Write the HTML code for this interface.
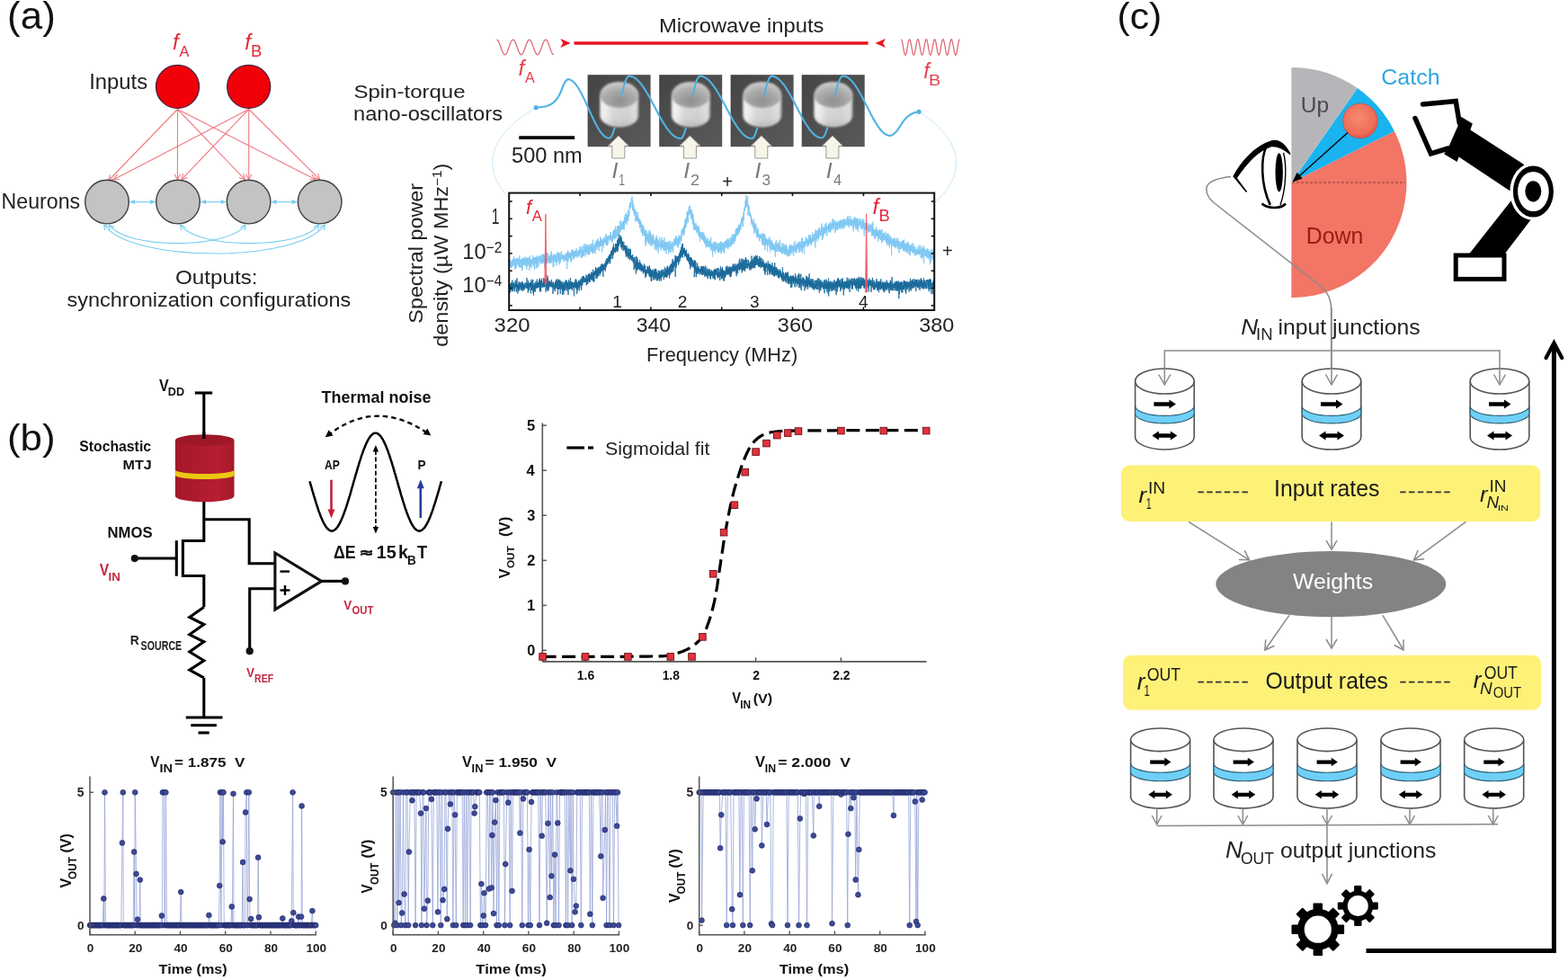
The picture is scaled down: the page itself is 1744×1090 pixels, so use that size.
<!DOCTYPE html>
<html><head><meta charset="utf-8"><title>Figure</title>
<style>html,body{margin:0;padding:0;background:#fff;overflow:hidden}svg{display:block}</style>
</head><body>
<svg width="1744" height="1090" viewBox="0 0 1744 1090" font-family="'Liberation Sans', Arial, Helvetica, sans-serif"><defs><radialGradient id="topg" cx="0.5" cy="0.7" r="0.7" fx="0.5" fy="0.75"><stop offset="0" stop-color="#8f8f8f"/><stop offset="0.55" stop-color="#a9a9a9"/><stop offset="0.9" stop-color="#c6c6c6"/><stop offset="1" stop-color="#d0d0d0"/></radialGradient><linearGradient id="sideg" x1="0" x2="1" y1="0" y2="0"><stop offset="0" stop-color="#e4e4e4"/><stop offset="0.1" stop-color="#f2f2f2"/><stop offset="0.35" stop-color="#d6d6d6"/><stop offset="0.7" stop-color="#d2d2d2"/><stop offset="0.92" stop-color="#dedede"/><stop offset="1" stop-color="#a8a8a8"/></linearGradient><linearGradient id="sideshade" x1="0" x2="0" y1="0" y2="1"><stop offset="0" stop-color="#fff" stop-opacity="0.25"/><stop offset="0.5" stop-color="#fff" stop-opacity="0"/><stop offset="1" stop-color="#000" stop-opacity="0.12"/></linearGradient><filter id="semblur" x="-0.1" y="-0.1" width="1.2" height="1.2"><feGaussianBlur stdDeviation="0.9"/></filter><linearGradient id="bgg" x1="0" x2="1" y1="0" y2="1"><stop offset="0" stop-color="#444"/><stop offset="1" stop-color="#5a5a5a"/></linearGradient><linearGradient id="mtjg" x1="0" x2="1" y1="0" y2="0"><stop offset="0" stop-color="#a3182a"/><stop offset="0.35" stop-color="#ad1b2e"/><stop offset="0.7" stop-color="#b81d31"/><stop offset="1" stop-color="#a7192b"/></linearGradient><radialGradient id="ballg" cx="0.45" cy="0.4" r="0.65"><stop offset="0" stop-color="#f58a70"/><stop offset="0.75" stop-color="#ef6c56"/><stop offset="1" stop-color="#d8503e"/></radialGradient><linearGradient id="cylg" x1="0" x2="1" y1="0" y2="0"><stop offset="0" stop-color="#fff"/><stop offset="1" stop-color="#f4f4f4"/></linearGradient></defs><rect width="1744" height="1090" fill="#fff"/><text x="8.1" y="32.4" font-size="41.79" fill="#111" textLength="53.67" lengthAdjust="spacingAndGlyphs" >(a)</text>
<text x="192.1" y="55.1" font-size="23.17" fill="#e42838" font-style="italic" textLength="6.65" lengthAdjust="spacingAndGlyphs" >f</text>
<text x="199.5" y="62.7" font-size="16.67" fill="#e42838" textLength="10.93" lengthAdjust="spacingAndGlyphs" >A</text>
<text x="272.2" y="55.1" font-size="23.17" fill="#e42838" font-style="italic" textLength="6.65" lengthAdjust="spacingAndGlyphs" >f</text>
<text x="279.1" y="63" font-size="17.68" fill="#e42838" textLength="12.34" lengthAdjust="spacingAndGlyphs" >B</text>
<text x="99.2" y="99.2" font-size="24.35" fill="#222" textLength="64.91" lengthAdjust="spacingAndGlyphs" >Inputs</text>
<text x="1.6" y="232.1" font-size="23.19" fill="#222" textLength="87.52" lengthAdjust="spacingAndGlyphs" >Neurons</text>
<text x="195" y="316.1" font-size="21.86" fill="#222" textLength="91.48" lengthAdjust="spacingAndGlyphs" >Outputs:</text>
<text x="74.5" y="341.4" font-size="22.34" fill="#222" textLength="315.77" lengthAdjust="spacingAndGlyphs" >synchronization configurations</text>
<line x1="197.5" y1="121.5" x2="120.5" y2="201" stroke="#f07a80" stroke-width="1.1" />
<polyline points="122.4,194.5 120.5,201 127,198.9" stroke="#f07a80" stroke-width="1.1" fill="none" />
<line x1="276.7" y1="121.5" x2="126.4" y2="199.7" stroke="#f07a80" stroke-width="1.1" />
<polyline points="130.2,194.1 126.4,199.7 133.2,199.8" stroke="#f07a80" stroke-width="1.1" fill="none" />
<line x1="197.5" y1="121.5" x2="197.4" y2="199.7" stroke="#f07a80" stroke-width="1.1" />
<polyline points="194.2,193.7 197.4,199.7 200.6,193.7" stroke="#f07a80" stroke-width="1.1" fill="none" />
<line x1="276.7" y1="121.5" x2="202" y2="199.7" stroke="#f07a80" stroke-width="1.1" />
<polyline points="203.8,193.2 202,199.7 208.5,197.6" stroke="#f07a80" stroke-width="1.1" fill="none" />
<line x1="197.5" y1="121.5" x2="272.4" y2="199.7" stroke="#f07a80" stroke-width="1.1" />
<polyline points="265.9,197.6 272.4,199.7 270.6,193.2" stroke="#f07a80" stroke-width="1.1" fill="none" />
<line x1="276.7" y1="121.5" x2="276.7" y2="199.7" stroke="#f07a80" stroke-width="1.1" />
<polyline points="273.5,193.7 276.7,199.7 279.9,193.7" stroke="#f07a80" stroke-width="1.1" fill="none" />
<line x1="197.5" y1="121.5" x2="351" y2="199.7" stroke="#f07a80" stroke-width="1.1" />
<polyline points="344.2,199.8 351,199.7 347.1,194.1" stroke="#f07a80" stroke-width="1.1" fill="none" />
<line x1="276.7" y1="121.5" x2="355.6" y2="199.7" stroke="#f07a80" stroke-width="1.1" />
<polyline points="349.1,197.7 355.6,199.7 353.6,193.2" stroke="#f07a80" stroke-width="1.1" fill="none" />
<circle cx="197.5" cy="96.4" r="24" fill="#f20008" stroke="#4b2040" stroke-width="1.3" />
<circle cx="276.7" cy="96.4" r="24" fill="#f20008" stroke="#4b2040" stroke-width="1.3" />
<line x1="144.5" y1="224.6" x2="172.5" y2="224.6" stroke="#79cdf0" stroke-width="1.1" />
<polygon points="144,224.6 150,222 150,227.2" fill="#79cdf0" stroke="none" stroke-width="1" />
<polygon points="173,224.6 167,227.2 167,222" fill="#79cdf0" stroke="none" stroke-width="1" />
<line x1="223.5" y1="224.6" x2="251.1" y2="224.6" stroke="#79cdf0" stroke-width="1.1" />
<polygon points="223,224.6 229,222 229,227.2" fill="#79cdf0" stroke="none" stroke-width="1" />
<polygon points="251.6,224.6 245.6,227.2 245.6,222" fill="#79cdf0" stroke="none" stroke-width="1" />
<line x1="302.1" y1="224.6" x2="330.2" y2="224.6" stroke="#79cdf0" stroke-width="1.1" />
<polygon points="301.6,224.6 307.6,222 307.6,227.2" fill="#79cdf0" stroke="none" stroke-width="1" />
<polygon points="330.7,224.6 324.7,227.2 324.7,222" fill="#79cdf0" stroke="none" stroke-width="1" />
<path d="M115.8,250 C145.2,292.7 331.8,292.7 361.2,250" stroke="#79cdf0" stroke-width="1.1" fill="none" />
<polyline points="121.4,252.8 115.8,250 116.5,256.2" stroke="#79cdf0" stroke-width="1.1" fill="none" />
<polyline points="360.5,256.2 361.2,250 355.6,252.8" stroke="#79cdf0" stroke-width="1.1" fill="none" />
<path d="M121.6,250 C139.8,277.5 254.8,277.5 273,250" stroke="#79cdf0" stroke-width="1.1" fill="none" />
<polyline points="127.1,252.9 121.6,250 122.1,256.2" stroke="#79cdf0" stroke-width="1.1" fill="none" />
<polyline points="272.5,256.2 273,250 267.5,252.9" stroke="#79cdf0" stroke-width="1.1" fill="none" />
<path d="M200.7,250 C219.1,277.5 336,277.5 354.4,250" stroke="#79cdf0" stroke-width="1.1" fill="none" />
<polyline points="206.3,252.9 200.7,250 201.3,256.2" stroke="#79cdf0" stroke-width="1.1" fill="none" />
<polyline points="353.8,256.2 354.4,250 348.8,252.9" stroke="#79cdf0" stroke-width="1.1" fill="none" />
<circle cx="119" cy="224.6" r="24.3" fill="#c3c3c3" stroke="#3f3f3f" stroke-width="1.4" />
<circle cx="198" cy="224.6" r="24.3" fill="#c3c3c3" stroke="#3f3f3f" stroke-width="1.4" />
<circle cx="276.6" cy="224.6" r="24.3" fill="#c3c3c3" stroke="#3f3f3f" stroke-width="1.4" />
<circle cx="355.7" cy="224.6" r="24.3" fill="#c3c3c3" stroke="#3f3f3f" stroke-width="1.4" />
<text x="732.9" y="35.7" font-size="22.21" fill="#222" textLength="183.54" lengthAdjust="spacingAndGlyphs" >Microwave inputs</text>
<line x1="638.5" y1="48" x2="965.6" y2="48" stroke="#e8141e" stroke-width="3.4" />
<polygon points="634.7,48 623.2,43 626.2,48 623.2,53" fill="#e8141e" stroke="none" stroke-width="1" />
<polygon points="973.5,48 985,43 982,48 985,53" fill="#e8141e" stroke="none" stroke-width="1" />
<polyline points="552.5,44.2 552.8,44.3 553.1,44.4 553.5,44.6 553.8,45 554.1,45.4 554.4,45.9 554.7,46.5 555,47.2 555.4,47.9 555.7,48.7 556,49.6 556.3,50.4 556.6,51.3 556.9,52.2 557.3,53.2 557.6,54.1 557.9,54.9 558.2,55.8 558.5,56.6 558.9,57.4 559.2,58.1 559.5,58.7 559.8,59.3 560.1,59.8 560.4,60.2 560.8,60.5 561.1,60.7 561.4,60.8 561.7,60.8 562,60.7 562.3,60.5 562.7,60.2 563,59.8 563.3,59.4 563.6,58.8 563.9,58.2 564.2,57.5 564.6,56.7 564.9,55.9 565.2,55.1 565.5,54.2 565.8,53.3 566.2,52.4 566.5,51.5 566.8,50.6 567.1,49.7 567.4,48.8 567.7,48.1 568.1,47.3 568.4,46.6 568.7,46 569,45.5 569.3,45 569.6,44.7 570,44.4 570.3,44.3 570.6,44.2 570.9,44.2 571.2,44.4 571.5,44.6 571.9,44.9 572.2,45.4 572.5,45.9 572.8,46.4 573.1,47.1 573.5,47.8 573.8,48.6 574.1,49.4 574.4,50.3 574.7,51.2 575,52.1 575.4,53 575.7,53.9 576,54.8 576.3,55.7 576.6,56.5 576.9,57.3 577.3,58 577.6,58.6 577.9,59.2 578.2,59.7 578.5,60.1 578.9,60.4 579.2,60.7 579.5,60.8 579.8,60.8 580.1,60.7 580.4,60.5 580.8,60.3 581.1,59.9 581.4,59.4 581.7,58.9 582,58.3 582.3,57.6 582.7,56.8 583,56 583.3,55.2 583.6,54.3 583.9,53.4 584.2,52.5 584.6,51.6 584.9,50.7 585.2,49.8 585.5,49 585.8,48.2 586.2,47.4 586.5,46.7 586.8,46.1 587.1,45.6 587.4,45.1 587.7,44.7 588.1,44.5 588.4,44.3 588.7,44.2 589,44.2 589.3,44.3 589.6,44.6 590,44.9 590.3,45.3 590.6,45.8 590.9,46.4 591.2,47 591.6,47.7 591.9,48.5 592.2,49.3 592.5,50.2 592.8,51.1 593.1,52 593.5,52.9 593.8,53.8 594.1,54.7 594.4,55.6 594.7,56.4 595,57.2 595.4,57.9 595.7,58.6 596,59.1 596.3,59.6 596.6,60.1 597,60.4 597.3,60.6 597.6,60.8 597.9,60.8 598.2,60.7 598.5,60.6 598.9,60.3 599.2,60 599.5,59.5 599.8,59 600.1,58.4 600.4,57.7 600.8,56.9 601.1,56.2 601.4,55.3 601.7,54.4 602,53.5 602.3,52.6 602.7,51.7 603,50.8 603.3,49.9 603.6,49.1 603.9,48.3 604.3,47.5 604.6,46.8 604.9,46.2 605.2,45.6 605.5,45.2 605.8,44.8 606.2,44.5 606.5,44.3 606.8,44.2 607.1,44.2 607.4,44.3 607.7,44.5 608.1,44.8 608.4,45.2 608.7,45.7 609,46.3 609.3,46.9 609.6,47.6 610,48.4 610.3,49.2 610.6,50.1 610.9,50.9 611.2,51.8 611.6,52.8 611.9,53.7 612.2,54.6 612.5,55.4 612.8,56.3 613.1,57.1 613.5,57.8 613.8,58.5 614.1,59.1 614.4,59.6 614.7,60 615,60.4 615.4,60.6 615.7,60.7 616,60.8" stroke="#e06a78" stroke-width="1.3" fill="none" />
<polyline points="1002.3,43.8 1002.6,44 1003,44.6 1003.3,45.6 1003.6,46.9 1003.9,48.5 1004.3,50.3 1004.6,52.2 1004.9,54.1 1005.2,56 1005.6,57.6 1005.9,59.1 1006.2,60.2 1006.5,60.9 1006.9,61.2 1007.2,61.1 1007.5,60.6 1007.8,59.7 1008.2,58.5 1008.5,57 1008.8,55.2 1009.1,53.3 1009.5,51.4 1009.8,49.5 1010.1,47.8 1010.4,46.3 1010.8,45.1 1011.1,44.3 1011.4,43.8 1011.8,43.8 1012.1,44.2 1012.4,45 1012.7,46.1 1013.1,47.6 1013.4,49.3 1013.7,51.1 1014,53 1014.4,54.9 1014.7,56.7 1015,58.3 1015.3,59.6 1015.7,60.5 1016,61.1 1016.3,61.2 1016.6,61 1017,60.3 1017.3,59.2 1017.6,57.9 1017.9,56.2 1018.3,54.4 1018.6,52.5 1018.9,50.6 1019.3,48.8 1019.6,47.1 1019.9,45.8 1020.2,44.7 1020.6,44 1020.9,43.8 1021.2,43.9 1021.5,44.5 1021.9,45.4 1022.2,46.7 1022.5,48.3 1022.8,50.1 1023.2,52 1023.5,53.9 1023.8,55.7 1024.1,57.4 1024.5,58.9 1024.8,60 1025.1,60.8 1025.4,61.2 1025.8,61.2 1026.1,60.7 1026.4,59.9 1026.8,58.7 1027.1,57.2 1027.4,55.5 1027.7,53.6 1028.1,51.7 1028.4,49.8 1028.7,48 1029,46.5 1029.4,45.3 1029.7,44.4 1030,43.9 1030.3,43.8 1030.7,44.1 1031,44.8 1031.3,45.9 1031.6,47.4 1032,49 1032.3,50.9 1032.6,52.8 1032.9,54.7 1033.3,56.5 1033.6,58.1 1033.9,59.4 1034.2,60.4 1034.6,61 1034.9,61.2 1035.2,61 1035.6,60.4 1035.9,59.4 1036.2,58.1 1036.5,56.5 1036.9,54.7 1037.2,52.8 1037.5,50.9 1037.8,49 1038.2,47.4 1038.5,45.9 1038.8,44.8 1039.1,44.1 1039.5,43.8 1039.8,43.9 1040.1,44.4 1040.4,45.3 1040.8,46.5 1041.1,48 1041.4,49.8 1041.7,51.7 1042.1,53.6 1042.4,55.5 1042.7,57.2 1043,58.7 1043.4,59.9 1043.7,60.7 1044,61.2 1044.4,61.2 1044.7,60.8 1045,60 1045.3,58.9 1045.7,57.4 1046,55.7 1046.3,53.9 1046.6,52 1047,50.1 1047.3,48.3 1047.6,46.7 1047.9,45.4 1048.3,44.5 1048.6,43.9 1048.9,43.8 1049.2,44 1049.6,44.7 1049.9,45.8 1050.2,47.1 1050.5,48.8 1050.9,50.6 1051.2,52.5 1051.5,54.4 1051.9,56.2 1052.2,57.9 1052.5,59.2 1052.8,60.3 1053.2,61 1053.5,61.2 1053.8,61.1 1054.1,60.5 1054.5,59.6 1054.8,58.3 1055.1,56.7 1055.4,54.9 1055.8,53 1056.1,51.1 1056.4,49.3 1056.7,47.6 1057.1,46.1 1057.4,45 1057.7,44.2 1058,43.8 1058.4,43.8 1058.7,44.3 1059,45.1 1059.3,46.3 1059.7,47.8 1060,49.5 1060.3,51.4 1060.7,53.3 1061,55.2 1061.3,57 1061.6,58.5 1062,59.7 1062.3,60.6 1062.6,61.1 1062.9,61.2 1063.3,60.9 1063.6,60.2 1063.9,59.1 1064.2,57.6 1064.6,56 1064.9,54.1 1065.2,52.2 1065.5,50.3 1065.9,48.5 1066.2,46.9 1066.5,45.6 1066.8,44.6 1067.2,44 1067.5,43.8" stroke="#e06a78" stroke-width="1.3" fill="none" />
<text x="576.4" y="83.9" font-size="23.31" fill="#e34050" font-style="italic" textLength="6.82" lengthAdjust="spacingAndGlyphs" >f</text>
<text x="583.9" y="91.7" font-size="16.38" fill="#e34050" textLength="10.83" lengthAdjust="spacingAndGlyphs" >A</text>
<text x="1027.2" y="87.1" font-size="23.72" fill="#e34050" font-style="italic" textLength="6.48" lengthAdjust="spacingAndGlyphs" >f</text>
<text x="1033.1" y="94.7" font-size="16.96" fill="#e34050" textLength="13.22" lengthAdjust="spacingAndGlyphs" >B</text>
<text x="393.4" y="108.9" font-size="20.41" fill="#222" textLength="124.17" lengthAdjust="spacingAndGlyphs" >Spin-torque</text>
<text x="393" y="133.6" font-size="22.07" fill="#222" textLength="166.04" lengthAdjust="spacingAndGlyphs" >nano-oscillators</text>
<path d="M596,120 A258,105 0 1,0 1022,124" stroke="#c8e8f8" stroke-width="1" fill="none" />
<rect x="653.6" y="83.2" width="70" height="80" fill="url(#bgg)"/>
<g filter="url(#semblur)">
<path d="M667.2,105.6 L667.2,128 A21.6,13.6 0 0,0 710.4,128 L710.4,105.6 Z" stroke="none" stroke-width="1" fill="url(#sideg)" />
<path d="M667.2,105.6 L667.2,128 A21.6,13.6 0 0,0 710.4,128 L710.4,105.6 Z" stroke="none" stroke-width="1" fill="url(#sideshade)" />
<ellipse cx="688.8" cy="105.6" rx="21.6" ry="14.6" fill="url(#topg)"/>
</g>
<rect x="733.2" y="83.2" width="70" height="80" fill="url(#bgg)"/>
<g filter="url(#semblur)">
<path d="M746.8,105.6 L746.8,128 A21.6,13.6 0 0,0 790,128 L790,105.6 Z" stroke="none" stroke-width="1" fill="url(#sideg)" />
<path d="M746.8,105.6 L746.8,128 A21.6,13.6 0 0,0 790,128 L790,105.6 Z" stroke="none" stroke-width="1" fill="url(#sideshade)" />
<ellipse cx="768.4" cy="105.6" rx="21.6" ry="14.6" fill="url(#topg)"/>
</g>
<rect x="812.6" y="83.2" width="70" height="80" fill="url(#bgg)"/>
<g filter="url(#semblur)">
<path d="M826.2,105.6 L826.2,128 A21.6,13.6 0 0,0 869.4,128 L869.4,105.6 Z" stroke="none" stroke-width="1" fill="url(#sideg)" />
<path d="M826.2,105.6 L826.2,128 A21.6,13.6 0 0,0 869.4,128 L869.4,105.6 Z" stroke="none" stroke-width="1" fill="url(#sideshade)" />
<ellipse cx="847.8" cy="105.6" rx="21.6" ry="14.6" fill="url(#topg)"/>
</g>
<rect x="891.7" y="83.2" width="70" height="80" fill="url(#bgg)"/>
<g filter="url(#semblur)">
<path d="M905.3,105.6 L905.3,128 A21.6,13.6 0 0,0 948.5,128 L948.5,105.6 Z" stroke="none" stroke-width="1" fill="url(#sideg)" />
<path d="M905.3,105.6 L905.3,128 A21.6,13.6 0 0,0 948.5,128 L948.5,105.6 Z" stroke="none" stroke-width="1" fill="url(#sideshade)" />
<ellipse cx="926.9" cy="105.6" rx="21.6" ry="14.6" fill="url(#topg)"/>
</g>
<polyline points="596.2,119.7 601,119.3 607.5,118.2 612,116.5 615.8,114 619.5,110 622.7,104.5 625,99 626.8,94.3 628.8,90.5 631.6,88.2 632.8,88.3 633.9,88.6 635.1,89.1 636.2,89.8 637.4,90.7 638.5,91.8 639.7,93 640.8,94.4 642,96 643.1,97.8 644.3,99.7 645.4,101.7 646.6,103.8 647.7,106.1 648.9,108.4 650,110.8 651.2,113.3 652.3,115.8 653.5,118.3 654.7,120.9 655.8,123.5 657,126 658.1,128.5 659.3,131 660.4,133.4 661.6,135.7 662.7,138 663.9,140.1 665,142.1 666.2,144 667.3,145.8 668.5,147.4 669.6,148.8 670.8,150 671.9,151.1 673.1,152 674.2,152.7 675.4,153.2 676.5,153.5 677.7,153.6 678.2,153.5 678.8,153.2 679.4,152.6 679.9,151.9 680.5,151 681,149.8 681.6,148.5 682.1,147 682.7,145.3 683.2,143.5 683.8,141.5" stroke="#4fb3e3" stroke-width="2.1" fill="none" />
<polyline points="691.5,105.9 692,103.4 692.6,101.1 693.1,98.8 693.7,96.7 694.2,94.7 694.8,92.9 695.3,91.2 695.9,89.7 696.4,88.4 697,87.2 697.5,86.3 698.1,85.6 698.6,85 699.2,84.7 699.7,84.6 701.1,84.7 702.6,85 704,85.6 705.4,86.3 706.9,87.2 708.3,88.4 709.7,89.7 711.2,91.2 712.6,92.9 714,94.8 715.5,96.8 716.9,98.9 718.3,101.2 719.8,103.5 721.2,106 722.6,108.6 724.1,111.2 725.5,113.9 726.9,116.6 728.4,119.3 729.8,122 731.2,124.7 732.6,127.4 734.1,130 735.5,132.6 736.9,135.1 738.4,137.4 739.8,139.7 741.2,141.8 742.7,143.8 744.1,145.7 745.5,147.4 747,148.9 748.4,150.2 749.8,151.4 751.3,152.3 752.7,153 754.1,153.6 755.6,153.9 757,154 757.5,153.9 758.1,153.6 758.6,153 759.2,152.3 759.7,151.4 760.3,150.2 760.8,148.9 761.3,147.4 761.9,145.7 762.4,143.8 763,141.8" stroke="#4fb3e3" stroke-width="2.1" fill="none" />
<polyline points="770.6,106 771.1,103.5 771.6,101.2 772.2,98.9 772.7,96.8 773.3,94.8 773.8,92.9 774.4,91.2 774.9,89.7 775.4,88.4 776,87.2 776.5,86.3 777.1,85.6 777.6,85 778.2,84.7 778.7,84.6 780.1,84.7 781.6,85 783,85.6 784.5,86.3 785.9,87.2 787.3,88.4 788.8,89.7 790.2,91.2 791.7,92.9 793.1,94.8 794.5,96.8 796,98.9 797.4,101.2 798.9,103.5 800.3,106 801.7,108.6 803.2,111.2 804.6,113.9 806.1,116.6 807.5,119.3 808.9,122 810.4,124.7 811.8,127.4 813.3,130 814.7,132.6 816.1,135.1 817.6,137.4 819,139.7 820.5,141.8 821.9,143.8 823.3,145.7 824.8,147.4 826.2,148.9 827.7,150.2 829.1,151.4 830.5,152.3 832,153 833.4,153.6 834.9,153.9 836.3,154 836.8,153.9 837.4,153.6 837.9,153 838.5,152.3 839,151.4 839.6,150.2 840.1,148.9 840.7,147.4 841.2,145.7 841.8,143.9 842.3,141.9" stroke="#4fb3e3" stroke-width="2.1" fill="none" />
<polyline points="850,106.2 850.5,103.7 851.1,101.3 851.6,99.1 852.2,96.9 852.7,94.9 853.3,93.1 853.8,91.4 854.4,89.9 854.9,88.6 855.5,87.4 856,86.5 856.6,85.8 857.1,85.2 857.7,84.9 858.2,84.8 859.6,84.9 861,85.2 862.4,85.7 863.8,86.5 865.2,87.4 866.6,88.5 868,89.9 869.4,91.4 870.8,93 872.2,94.8 873.5,96.8 874.9,98.9 876.3,101.2 877.7,103.5 879.1,106 880.5,108.5 881.9,111.1 883.3,113.7 884.7,116.4 886.1,119.1 887.5,121.8 888.9,124.5 890.3,127.1 891.7,129.7 893.1,132.2 894.5,134.7 895.9,137 897.3,139.3 898.7,141.4 900,143.4 901.4,145.2 902.8,146.8 904.2,148.3 905.6,149.7 907,150.8 908.4,151.7 909.8,152.5 911.2,153 912.6,153.3 914,153.4 914.6,153.3 915.2,153 915.8,152.4 916.4,151.7 917,150.8 917.5,149.7 918.1,148.3 918.7,146.8 919.3,145.2 919.9,143.3 920.5,141.3" stroke="#4fb3e3" stroke-width="2.1" fill="none" />
<polyline points="928.8,105.8 929.3,103.4 929.9,101 930.5,98.8 931.1,96.7 931.7,94.7 932.3,92.8 932.9,91.2 933.5,89.7 934.1,88.3 934.6,87.2 935.2,86.3 935.8,85.6 936.4,85 937,84.7 937.6,84.6 938.9,84.7 940.2,85 941.6,85.5 942.9,86.2 944.2,87.1 945.5,88.2 946.8,89.5 948.1,90.9 949.5,92.6 950.8,94.3 952.1,96.2 953.4,98.3 954.7,100.5 956,102.7 957.4,105.1 958.7,107.5 960,110 961.3,112.6 962.6,115.2 964,117.8 965.3,120.4 966.6,123 967.9,125.6 969.2,128.1 970.5,130.5 971.9,132.9 973.2,135.1 974.5,137.3 975.8,139.4 977.1,141.3 978.4,143 979.8,144.7 981.1,146.1 982.4,147.4 983.7,148.5 985,149.4 986.3,150.1 987.7,150.6 989,150.9 990.3,151 993.5,149.6 997.2,146 1001,140.5 1005.1,134.3 1009,130 1013,127.2 1017,125.3 1021.9,124.3" stroke="#4fb3e3" stroke-width="2.1" fill="none" />
<circle cx="596.2" cy="119.7" r="2.6" fill="#4fb3e3" stroke="none" stroke-width="1" />
<circle cx="1022" cy="124.3" r="2.6" fill="#4fb3e3" stroke="none" stroke-width="1" />
<polygon points="687.8,151 699.3,162.3 694.8,162.3 694.8,176 680.8,176 680.8,162.3 676.3,162.3" fill="#f7f5e8" stroke="#9a9a9a" stroke-width="1" />
<polygon points="767.4,151 778.9,162.3 774.4,162.3 774.4,176 760.4,176 760.4,162.3 755.9,162.3" fill="#f7f5e8" stroke="#9a9a9a" stroke-width="1" />
<polygon points="846.8,151 858.3,162.3 853.8,162.3 853.8,176 839.8,176 839.8,162.3 835.3,162.3" fill="#f7f5e8" stroke="#9a9a9a" stroke-width="1" />
<polygon points="925.9,151 937.4,162.3 932.9,162.3 932.9,176 918.9,176 918.9,162.3 914.4,162.3" fill="#f7f5e8" stroke="#9a9a9a" stroke-width="1" />
<line x1="577.3" y1="153.2" x2="639.1" y2="153.2" stroke="#000" stroke-width="3.8" />
<text x="569.1" y="181.1" font-size="23.43" fill="#222" textLength="78.67" lengthAdjust="spacingAndGlyphs" >500 nm</text>
<text x="680.6" y="198.4" font-size="23.33" fill="#7a7a7a" font-style="italic" textLength="6.91" lengthAdjust="spacingAndGlyphs" >I</text>
<text x="688.3" y="206.4" font-size="16.23" fill="#7a7a7a" textLength="6.78" lengthAdjust="spacingAndGlyphs" >1</text>
<text x="760.2" y="198.4" font-size="23.33" fill="#7a7a7a" font-style="italic" textLength="6.91" lengthAdjust="spacingAndGlyphs" >I</text>
<text x="767.9" y="206.4" font-size="16.00" fill="#7a7a7a" textLength="10.02" lengthAdjust="spacingAndGlyphs" >2</text>
<text x="839.6" y="198.4" font-size="23.33" fill="#7a7a7a" font-style="italic" textLength="6.91" lengthAdjust="spacingAndGlyphs" >I</text>
<text x="847.5" y="206.4" font-size="16.00" fill="#7a7a7a" textLength="9.60" lengthAdjust="spacingAndGlyphs" >3</text>
<text x="918.7" y="198.4" font-size="23.33" fill="#7a7a7a" font-style="italic" textLength="6.91" lengthAdjust="spacingAndGlyphs" >I</text>
<text x="927" y="206.4" font-size="16.23" fill="#7a7a7a" textLength="9.03" lengthAdjust="spacingAndGlyphs" >4</text>
<text x="809" y="209" font-size="20" fill="#222" text-anchor="middle" >+</text>
<rect x="566.2" y="214.6" width="473" height="130.4" fill="#fff" stroke="none"/>
<polyline points="566.2,292.1 566.3,291.2 566.4,292.9 566.5,294.8 566.7,293.5 566.8,295.1 566.9,291.9 567,287.9 567.1,293.6 567.2,294 567.3,290.5 567.4,290.9 567.6,291.7 567.7,294.9 567.8,292.1 567.9,289.8 568,296.1 568.1,293.4 568.2,297.8 568.3,295.9 568.5,297.6 568.6,292.7 568.7,295.8 568.8,291.1 568.9,291.4 569,292.5 569.1,297.7 569.2,293.6 569.4,292 569.5,291.5 569.6,296.6 569.7,293.3 569.8,294.9 569.9,294.3 570,288.5 570.1,294.3 570.3,291.9 570.4,289.1 570.5,293.6 570.6,292.1 570.7,291.4 570.8,291.6 570.9,295.5 571,291.5 571.2,287.5 571.3,292.7 571.4,289.1 571.5,291.3 571.6,293.7 571.7,285.5 571.8,289.3 571.9,295.4 572.1,291.4 572.2,289.9 572.3,292.2 572.4,289.5 572.5,299.3 572.6,289.6 572.7,287.8 572.8,293.7 573,291 573.1,293 573.2,291.2 573.3,299.6 573.4,293.3 573.5,292.2 573.6,288.8 573.7,288.2 573.9,295.6 574,294 574.1,289.5 574.2,297.6 574.3,291.6 574.4,291.8 574.5,287.6 574.6,289.3 574.8,292.5 574.9,292.6 575,292.2 575.1,286.7 575.2,292.7 575.3,291.7 575.4,288.4 575.5,291.8 575.7,292 575.8,294.8 575.9,291.4 576,292.7 576.1,287.7 576.2,289.3 576.3,291.4 576.5,289.2 576.6,292.4 576.7,288 576.8,291.3 576.9,287.2 577,296.1 577.1,290.2 577.2,296.5 577.4,297.5 577.5,292.2 577.6,292.6 577.7,295.5 577.8,284.3 577.9,293.8 578,293.1 578.1,294.6 578.3,296.6 578.4,291.7 578.5,291.8 578.6,289 578.7,289.5 578.8,294.3 578.9,291.4 579,298 579.2,294.4 579.3,290.3 579.4,293.7 579.5,288.1 579.6,290.5 579.7,290.8 579.8,292.9 579.9,291.4 580.1,297.2 580.2,295.7 580.3,289.9 580.4,297.6 580.5,288.4 580.6,301.3 580.7,288.6 580.8,299.8 581,288.5 581.1,290.5 581.2,295.7 581.3,287.1 581.4,286.5 581.5,291.1 581.6,291.7 581.7,291.4 581.9,293.9 582,287.5 582.1,292.5 582.2,291 582.3,293.3 582.4,292.8 582.5,294.8 582.6,286.9 582.8,291.3 582.9,287.8 583,290.8 583.1,292.9 583.2,291.8 583.3,292.5 583.4,290.7 583.5,291.9 583.7,291.7 583.8,295 583.9,293.2 584,285.6 584.1,292.8 584.2,293.9 584.3,289.6 584.4,286.3 584.6,295.2 584.7,291.3 584.8,292.6 584.9,296.1 585,288.4 585.1,290.7 585.2,290.4 585.3,292.9 585.5,289.2 585.6,292.3 585.7,291 585.8,300 585.9,294.3 586,286.4 586.1,296.5 586.3,293.6 586.4,287 586.5,290.6 586.6,291.4 586.7,288.6 586.8,291.4 586.9,290.9 587,290.4 587.2,286.8 587.3,288.4 587.4,293.7 587.5,292.2 587.6,294.7 587.7,290.7 587.8,287.4 587.9,290.8 588.1,286.6 588.2,288 588.3,287.8 588.4,287.5 588.5,291.8 588.6,290 588.7,301.1 588.8,287.7 589,291.5 589.1,287.6 589.2,284.5 589.3,285.7 589.4,293.8 589.5,295.5 589.6,287.7 589.7,293.4 589.9,290.3 590,287.6 590.1,295.3 590.2,296.7 590.3,289.4 590.4,290.1 590.5,291 590.6,290.1 590.8,292.8 590.9,298.2 591,290.7 591.1,293.1 591.2,295.2 591.3,288.6 591.4,290.3 591.5,288.9 591.7,293.2 591.8,292.1 591.9,293.2 592,292 592.1,289.5 592.2,292.5 592.3,289 592.4,289 592.6,283.8 592.7,294.3 592.8,287.3 592.9,290.3 593,290 593.1,294.5 593.2,291.4 593.3,287.7 593.5,290.2 593.6,289.7 593.7,290.8 593.8,286.4 593.9,290 594,296.7 594.1,292 594.2,296 594.4,299.9 594.5,294.9 594.6,285.8 594.7,289.7 594.8,293.5 594.9,292.7 595,286.3 595.1,289.3 595.3,289.7 595.4,290 595.5,289.7 595.6,287.3 595.7,288.1 595.8,289.1 595.9,293 596.1,288.2 596.2,298.5 596.3,286.4 596.4,293.7 596.5,290.1 596.6,289.7 596.7,293.8 596.8,284.4 597,285.2 597.1,291.1 597.2,287.3 597.3,288.5 597.4,297.7 597.5,288.9 597.6,289.8 597.7,289.3 597.9,292.9 598,290.4 598.1,290.1 598.2,285.9 598.3,288.5 598.4,289.5 598.5,284.8 598.6,291.2 598.8,290.7 598.9,296.9 599,288 599.1,286.4 599.2,286.5 599.3,287.3 599.4,289 599.5,288.7 599.7,290.1 599.8,289.9 599.9,289.1 600,284.6 600.1,287.5 600.2,289.4 600.3,291 600.4,291.1 600.6,284.2 600.7,287.6 600.8,288.9 600.9,290.2 601,292.5 601.1,289.3 601.2,286.4 601.3,290.2 601.5,289.7 601.6,289.7 601.7,288.6 601.8,293.9 601.9,289.7 602,291.6 602.1,283.7 602.2,291.3 602.4,287.1 602.5,284.1 602.6,289.8 602.7,290.7 602.8,288.2 602.9,288.8 603,290.7 603.1,293.1 603.3,282.5 603.4,289.5 603.5,289.3 603.6,291.9 603.7,287.7 603.8,292.5 603.9,292 604,284.6 604.2,291.4 604.3,285.2 604.4,283.8 604.5,287.7 604.6,286.8 604.7,282.5 604.8,289.1 605,290.3 605.1,292.6 605.2,288.3 605.3,283.8 605.4,285.4 605.5,294.3 605.6,297.6 605.7,289.9 605.9,287.4 606,288.9 606.1,291.7 606.2,287.3 606.3,289.1 606.4,288.3 606.5,287.5 606.6,288.4 606.8,286.6 606.9,282.4 607,286.3 607.1,287.9 607.2,293.3 607.3,286.9 607.4,294 607.5,292.4 607.7,285.4 607.8,285.8 607.9,288.4 608,293.2 608.1,289.1 608.2,290.8 608.3,285.9 608.4,280.9 608.6,287.2 608.7,293.1 608.8,290 608.9,288 609,288.3 609.1,291.3 609.2,287.4 609.3,291.3 609.5,284.3 609.6,281.8 609.7,284.3 609.8,289.1 609.9,286 610,288 610.1,288.8 610.2,288.6 610.4,291.6 610.5,292 610.6,285.1 610.7,288.1 610.8,286.8 610.9,284.4 611,292.8 611.1,289.9 611.3,286.9 611.4,286.2 611.5,288.5 611.6,284.2 611.7,286.7 611.8,291.1 611.9,290.2 612,284.8 612.2,287 612.3,293.1 612.4,283.1 612.5,285.4 612.6,283 612.7,288.4 612.8,288.1 612.9,290.6 613.1,279.3 613.2,287.6 613.3,282.2 613.4,289.1 613.5,286.5 613.6,292.2 613.7,291.6 613.8,286.8 614,290.8 614.1,283.6 614.2,285.9 614.3,290.1 614.4,288.4 614.5,288.3 614.6,287 614.8,288.5 614.9,289.4 615,290.4 615.1,290 615.2,297.2 615.3,286.9 615.4,284 615.5,291.4 615.7,284.1 615.8,288.7 615.9,296.6 616,284 616.1,288.2 616.2,282 616.3,289 616.4,285.4 616.6,287.3 616.7,288.7 616.8,284.7 616.9,287 617,284.6 617.1,284.4 617.2,289.8 617.3,286.7 617.5,286.2 617.6,283.4 617.7,289.2 617.8,286.5 617.9,291.6 618,284.3 618.1,289.6 618.2,291.9 618.4,286.4 618.5,282.8 618.6,290.9 618.7,289.6 618.8,288.5 618.9,295.5 619,285 619.1,288.6 619.3,288.3 619.4,284.3 619.5,288.4 619.6,284.7 619.7,286.8 619.8,289.8 619.9,291.7 620,280.2 620.2,286.9 620.3,285.2 620.4,286 620.5,285.4 620.6,284.3 620.7,280 620.8,289.1 620.9,290.6 621.1,288.9 621.2,289.9 621.3,283.5 621.4,283.2 621.5,288.7 621.6,290 621.7,286.8 621.8,281.4 622,294.4 622.1,284 622.2,289 622.3,282.4 622.4,288.9 622.5,286.5 622.6,290.2 622.7,288.6 622.9,281.2 623,283 623.1,292.6 623.2,288.2 623.3,291.3 623.4,286.6 623.5,285.5 623.6,285.6 623.8,285.7 623.9,288.8 624,285.5 624.1,285.4 624.2,281.3 624.3,279.5 624.4,285.7 624.6,287.6 624.7,285.4 624.8,287.1 624.9,287.5 625,285.4 625.1,288.4 625.2,283.3 625.3,285.4 625.5,284.3 625.6,285.6 625.7,287.3 625.8,288 625.9,285.8 626,286.7 626.1,284.3 626.2,285 626.4,289.2 626.5,283.3 626.6,289.1 626.7,286.8 626.8,285.8 626.9,291.3 627,284.6 627.1,284.4 627.3,285.3 627.4,286.1 627.5,285.9 627.6,287.8 627.7,285.6 627.8,286.4 627.9,284.4 628,288.4 628.2,283.9 628.3,284.2 628.4,285.1 628.5,286 628.6,282.9 628.7,289.7 628.8,283.1 628.9,283.8 629.1,283.6 629.2,290.2 629.3,286.5 629.4,285.3 629.5,282.5 629.6,283.1 629.7,283.8 629.8,289.1 630,282.7 630.1,280.7 630.2,281.2 630.3,283.6 630.4,289.1 630.5,281.4 630.6,284.7 630.7,299.1 630.9,283 631,288.8 631.1,285.8 631.2,286.1 631.3,281.6 631.4,285.3 631.5,283.3 631.6,278.7 631.8,279.1 631.9,291.3 632,284.8 632.1,287.9 632.2,286.1 632.3,282.7 632.4,282.7 632.5,283.6 632.7,280.8 632.8,286.3 632.9,284.1 633,281.6 633.1,282 633.2,280.5 633.3,282.6 633.4,284.7 633.6,282.7 633.7,286.8 633.8,285.8 633.9,281.9 634,283.9 634.1,282.7 634.2,288.9 634.4,284.8 634.5,285.5 634.6,286.3 634.7,290.6 634.8,281.6 634.9,280.8 635,282.4 635.1,282.1 635.3,283.5 635.4,281.1 635.5,292 635.6,285.1 635.7,281.7 635.8,281.3 635.9,278.1 636,279.9 636.2,284.5 636.3,282.4 636.4,280.9 636.5,285 636.6,283.4 636.7,280.5 636.8,277.2 636.9,283.7 637.1,281.3 637.2,288.7 637.3,279 637.4,283.2 637.5,278.6 637.6,286.1 637.7,283.7 637.8,283.7 638,280.6 638.1,279.8 638.2,287.7 638.3,285.8 638.4,281.9 638.5,285 638.6,287.6 638.7,279.7 638.9,281.4 639,281.4 639.1,284.3 639.2,278.7 639.3,283.6 639.4,279.4 639.5,285.6 639.6,282.6 639.8,282.1 639.9,284.9 640,280.6 640.1,281.9 640.2,285.5 640.3,282.4 640.4,283.7 640.5,279.7 640.7,284.5 640.8,283.8 640.9,279.8 641,282.9 641.1,276.2 641.2,282.1 641.3,281.6 641.4,277.5 641.6,282.5 641.7,285.1 641.8,281.7 641.9,280.6 642,284.5 642.1,287 642.2,286.3 642.3,279.8 642.5,284.1 642.6,282.2 642.7,281 642.8,279.7 642.9,282.6 643,280 643.1,284.2 643.2,282.6 643.4,284.6 643.5,277.9 643.6,281.4 643.7,283.5 643.8,282.3 643.9,281.9 644,279 644.2,285.4 644.3,284.2 644.4,282.2 644.5,280.3 644.6,277.9 644.7,281.2 644.8,278.6 644.9,274.4 645.1,281.4 645.2,281.8 645.3,276.8 645.4,279 645.5,278.4 645.6,282 645.7,274.5 645.8,275.1 646,278.6 646.1,278.2 646.2,286.5 646.3,278.2 646.4,280.7 646.5,278.8 646.6,277.9 646.7,281.1 646.9,285.2 647,278.8 647.1,282.2 647.2,280.8 647.3,281.6 647.4,280.8 647.5,286.8 647.6,275.3 647.8,278.8 647.9,276.1 648,273.4 648.1,279.4 648.2,285 648.3,282.1 648.4,283 648.5,280.8 648.7,279 648.8,285.3 648.9,277.9 649,283.7 649.1,278.1 649.2,279.3 649.3,279.9 649.4,279.1 649.6,280.5 649.7,280.7 649.8,283.9 649.9,278.8 650,271.3 650.1,277.4 650.2,274.5 650.3,276.3 650.5,280.6 650.6,274 650.7,277 650.8,278.5 650.9,279.2 651,277.9 651.1,279.5 651.2,285.5 651.4,281.4 651.5,279.2 651.6,271 651.7,278.2 651.8,278.6 651.9,276.2 652,275.6 652.1,281.2 652.3,278.4 652.4,274.8 652.5,276.8 652.6,277.2 652.7,272.7 652.8,279.6 652.9,277.2 653,279 653.2,272.7 653.3,283.3 653.4,279.3 653.5,278.8 653.6,275.1 653.7,275.2 653.8,272.8 654,281.9 654.1,274.7 654.2,277.8 654.3,275.2 654.4,275.2 654.5,276.3 654.6,283.2 654.7,277.8 654.9,281.3 655,278.6 655.1,275.4 655.2,275.5 655.3,271.6 655.4,277 655.5,281.1 655.6,278.7 655.8,283.3 655.9,280 656,274.8 656.1,278.1 656.2,279 656.3,273.9 656.4,276.3 656.5,274.8 656.7,275.6 656.8,273.9 656.9,275.7 657,271.9 657.1,274.4 657.2,274.5 657.3,278.5 657.4,280.1 657.6,276 657.7,276.3 657.8,274.8 657.9,279.6 658,270.3 658.1,275 658.2,276.1 658.3,280.5 658.5,276 658.6,275.4 658.7,277.3 658.8,274.7 658.9,281.5 659,273.2 659.1,277.1 659.2,274.2 659.4,271.8 659.5,266.8 659.6,282.1 659.7,276.1 659.8,277.2 659.9,272.1 660,278 660.1,275.9 660.3,278.4 660.4,277.4 660.5,277.3 660.6,275.7 660.7,280.7 660.8,278.6 660.9,275.4 661,273.6 661.2,274.5 661.3,279.4 661.4,275.3 661.5,271.3 661.6,272 661.7,270.8 661.8,276.4 661.9,271.6 662.1,275.3 662.2,282.3 662.3,275.9 662.4,276.2 662.5,272.6 662.6,269.6 662.7,274.6 662.9,270.8 663,274.9 663.1,273.4 663.2,267 663.3,270.5 663.4,274.3 663.5,273 663.6,271.6 663.8,268.9 663.9,274 664,277.8 664.1,273.8 664.2,272.3 664.3,271.9 664.4,268.2 664.5,271.2 664.7,269.6 664.8,275.4 664.9,266.4 665,265.4 665.1,269.5 665.2,272.6 665.3,271.3 665.4,266.2 665.6,274.5 665.7,271.9 665.8,270.1 665.9,269.1 666,272.7 666.1,270.4 666.2,279.1 666.3,270.8 666.5,271.5 666.6,274.6 666.7,271.1 666.8,268.2 666.9,273.9 667,271.6 667.1,268.7 667.2,274 667.4,270.1 667.5,273.9 667.6,267 667.7,263.3 667.8,264.2 667.9,271 668,268 668.1,269.9 668.3,269.8 668.4,265.3 668.5,274.1 668.6,266.7 668.7,270.1 668.8,267.9 668.9,269.2 669,271.8 669.2,268.8 669.3,267.3 669.4,269.4 669.5,268 669.6,271 669.7,280.6 669.8,266.5 669.9,267.1 670.1,268.7 670.2,268.9 670.3,268.3 670.4,270.4 670.5,271.1 670.6,269.3 670.7,272.8 670.8,273.1 671,266.5 671.1,270.6 671.2,272 671.3,264.6 671.4,270.2 671.5,275.3 671.6,271.1 671.7,265.4 671.9,264.5 672,269.5 672.1,266.8 672.2,265.8 672.3,270 672.4,266.8 672.5,268 672.7,269.5 672.8,269.3 672.9,267.5 673,267.5 673.1,269.3 673.2,268.8 673.3,264 673.4,266.7 673.6,264.6 673.7,263.5 673.8,265.9 673.9,260.1 674,272.6 674.1,264.5 674.2,267.9 674.3,261.2 674.5,261.6 674.6,272.8 674.7,269.7 674.8,264.6 674.9,264.1 675,264.2 675.1,266.7 675.2,265 675.4,264.3 675.5,266.5 675.6,263 675.7,273.1 675.8,264.1 675.9,270.8 676,263 676.1,266.6 676.3,268.6 676.4,264.6 676.5,268.5 676.6,268.5 676.7,270.5 676.8,264.6 676.9,264 677,262.3 677.2,265.8 677.3,262.1 677.4,265.2 677.5,265.5 677.6,263.4 677.7,261.8 677.8,266.1 677.9,265.7 678.1,263.2 678.2,264.6 678.3,267.5 678.4,261.5 678.5,265.9 678.6,263.2 678.7,267.1 678.8,263.4 679,263.2 679.1,263.9 679.2,258 679.3,263.3 679.4,258.7 679.5,261.1 679.6,266.1 679.7,265.1 679.9,262.6 680,263.6 680.1,263.6 680.2,264.6 680.3,269.2 680.4,264.2 680.5,270.3 680.6,262.2 680.8,265.5 680.9,265.3 681,263.7 681.1,262.1 681.2,267.2 681.3,268.1 681.4,265.9 681.5,268.7 681.7,265.3 681.8,257.3 681.9,265.3 682,259.9 682.1,266.1 682.2,260.8 682.3,262.6 682.5,261.7 682.6,259.6 682.7,255.8 682.8,260.5 682.9,260.6 683,263.9 683.1,258.9 683.2,261.4 683.4,257.9 683.5,260.5 683.6,254.9 683.7,266.3 683.8,260.9 683.9,257.2 684,260.8 684.1,262.1 684.3,260.3 684.4,263.7 684.5,258.9 684.6,251.6 684.7,262.3 684.8,265 684.9,261.5 685,258.1 685.2,255.4 685.3,261 685.4,260.4 685.5,255.5 685.6,255.4 685.7,259.1 685.8,261.3 685.9,262.5 686.1,259.7 686.2,264.4 686.3,255 686.4,259.2 686.5,255.6 686.6,251.2 686.7,253.2 686.8,260.3 687,251.5 687.1,252.9 687.2,258.7 687.3,259.2 687.4,256.5 687.5,260.9 687.6,251.3 687.7,263.2 687.9,256.1 688,256.3 688.1,256.1 688.2,254.7 688.3,259.1 688.4,252.2 688.5,251.4 688.6,265.1 688.8,254.7 688.9,256.7 689,254 689.1,258.9 689.2,257 689.3,256 689.4,251.5 689.5,252.7 689.7,255.8 689.8,247.3 689.9,246.3 690,257.8 690.1,252.3 690.2,245.3 690.3,250.5 690.4,254.9 690.6,253.3 690.7,254.3 690.8,253.1 690.9,254 691,251 691.1,253.3 691.2,253.3 691.3,255.6 691.5,251.9 691.6,254.4 691.7,252 691.8,248.2 691.9,250.1 692,247.7 692.1,254.8 692.3,250.7 692.4,251.2 692.5,251.6 692.6,248.2 692.7,253.7 692.8,246.1 692.9,250 693,252.3 693.2,251.4 693.3,251.8 693.4,249.1 693.5,251.7 693.6,245.8 693.7,251.6 693.8,256 693.9,251 694.1,254.8 694.2,248.5 694.3,244.9 694.4,245.9 694.5,251.8 694.6,249.8 694.7,241.7 694.8,246 695,248.3 695.1,243.2 695.2,238.6 695.3,241.9 695.4,245.3 695.5,244.3 695.6,243.3 695.7,246.8 695.9,247.9 696,244.2 696.1,247.1 696.2,244.1 696.3,243.3 696.4,236.2 696.5,245.8 696.6,243.3 696.8,243.1 696.9,241 697,238.9 697.1,250.1 697.2,244.1 697.3,243.1 697.4,243.9 697.5,239.2 697.7,240.4 697.8,243.4 697.9,241.2 698,242.2 698.1,238 698.2,242.8 698.3,239.8 698.4,245.8 698.6,242 698.7,233.2 698.8,244.7 698.9,238.7 699,236.6 699.1,238 699.2,239.1 699.3,236.4 699.5,235.9 699.6,235.7 699.7,240.8 699.8,235 699.9,236.7 700,235.2 700.1,229.3 700.2,230.5 700.4,229.2 700.5,232.9 700.6,230 700.7,226.7 700.8,228.1 700.9,224.9 701,229.1 701.1,228.7 701.3,225 701.4,231.2 701.5,225.6 701.6,226.5 701.7,226.6 701.8,230.4 701.9,227.3 702.1,224.2 702.2,221.1 702.3,220.5 702.4,223.6 702.5,223.8 702.6,225.8 702.7,222.1 702.8,224.2 703,221.8 703.1,218.6 703.2,224.5 703.3,229.4 703.4,227.9 703.5,234.3 703.6,230 703.7,222.8 703.9,229.5 704,232.6 704.1,226.4 704.2,232.6 704.3,230.6 704.4,233.8 704.5,231.7 704.6,230.3 704.8,229.8 704.9,228.6 705,229.1 705.1,229.7 705.2,236.9 705.3,232.3 705.4,239.5 705.5,235.7 705.7,234.7 705.8,237.3 705.9,233.7 706,237.9 706.1,240 706.2,233 706.3,235.7 706.4,237.4 706.6,235.5 706.7,235.3 706.8,237.8 706.9,246.7 707,241.5 707.1,241.1 707.2,242.9 707.3,239.5 707.5,236.7 707.6,242.2 707.7,244.4 707.8,234.9 707.9,242.8 708,245.5 708.1,241.2 708.2,240.9 708.4,244.6 708.5,240.2 708.6,244.4 708.7,246 708.8,242.9 708.9,241.3 709,245.9 709.1,239.6 709.3,244.7 709.4,236 709.5,247.1 709.6,240.9 709.7,245.6 709.8,244.9 709.9,243.7 710,243.4 710.2,242.5 710.3,245.7 710.4,248.8 710.5,248.8 710.6,245.8 710.7,245.8 710.8,243.5 710.9,246.7 711.1,244.9 711.2,243.7 711.3,250.7 711.4,253.4 711.5,252.7 711.6,253.7 711.7,244.5 711.9,252.2 712,246 712.1,248.2 712.2,244.9 712.3,247.3 712.4,250.9 712.5,251.4 712.6,250.8 712.8,250.7 712.9,252.9 713,251.7 713.1,246.9 713.2,257.3 713.3,251.4 713.4,259 713.5,252.1 713.7,250.2 713.8,253.2 713.9,250.9 714,258.3 714.1,250.2 714.2,255.7 714.3,252.1 714.4,253.7 714.6,262.4 714.7,257 714.8,254.2 714.9,250.2 715,254.4 715.1,254.6 715.2,260 715.3,250.9 715.5,250.5 715.6,256.2 715.7,257.1 715.8,261.6 715.9,254.1 716,256.1 716.1,255 716.2,253.5 716.4,256 716.5,257.2 716.6,253.9 716.7,262.1 716.8,257.5 716.9,257.8 717,256.1 717.1,257.8 717.3,258.1 717.4,261.8 717.5,263.6 717.6,259.7 717.7,262.3 717.8,264.3 717.9,270.4 718,262.2 718.2,273.9 718.3,265.2 718.4,266.3 718.5,260.9 718.6,260.4 718.7,255.6 718.8,270.7 718.9,264.2 719.1,259.4 719.2,263.1 719.3,266 719.4,257.4 719.5,263.8 719.6,266.4 719.7,267 719.8,262 720,262.2 720.1,267.5 720.2,266.4 720.3,260.3 720.4,261.7 720.5,265.5 720.6,261.7 720.8,261.9 720.9,269.3 721,264.8 721.1,262.7 721.2,262.3 721.3,270.7 721.4,270.3 721.5,261.9 721.7,259.5 721.8,271.2 721.9,256.4 722,268 722.1,261.7 722.2,260.9 722.3,258.5 722.4,264.4 722.6,268.5 722.7,263.1 722.8,267.3 722.9,273 723,256.5 723.1,263.2 723.2,259.8 723.3,268.3 723.5,261 723.6,260.7 723.7,260.9 723.8,265.9 723.9,269.6 724,266.5 724.1,272.8 724.2,271.4 724.4,265.9 724.5,269.3 724.6,266.9 724.7,266.8 724.8,260.5 724.9,262.6 725,266.8 725.1,263 725.3,273.6 725.4,267.9 725.5,264.2 725.6,270.9 725.7,268 725.8,271.3 725.9,266.9 726,262.3 726.2,269.8 726.3,267.1 726.4,270.4 726.5,270.8 726.6,271.6 726.7,263.3 726.8,260.6 726.9,266.5 727.1,270.3 727.2,266 727.3,269.2 727.4,265.8 727.5,267.5 727.6,267.6 727.7,266.6 727.8,270.4 728,270.8 728.1,274.1 728.2,277.5 728.3,273.3 728.4,269.4 728.5,272 728.6,268.8 728.7,267.8 728.9,273.7 729,268.4 729.1,272.4 729.2,272.8 729.3,264.3 729.4,267.1 729.5,270.8 729.6,265.3 729.8,274.6 729.9,265.4 730,278.5 730.1,278.7 730.2,262 730.3,265.4 730.4,273.6 730.6,269.9 730.7,271.2 730.8,270.3 730.9,275.3 731,272.9 731.1,269.4 731.2,270.2 731.3,267.3 731.5,270.8 731.6,265.3 731.7,273.4 731.8,270.4 731.9,277.2 732,275.2 732.1,267.3 732.2,281.8 732.4,269.8 732.5,271.7 732.6,274.8 732.7,272.6 732.8,273.2 732.9,273.1 733,269.3 733.1,269.7 733.3,273.5 733.4,274.6 733.5,270.9 733.6,270.7 733.7,268.7 733.8,263.7 733.9,269.3 734,272.1 734.2,272.6 734.3,274.7 734.4,274.9 734.5,275.2 734.6,273.4 734.7,273.5 734.8,269.9 734.9,273.5 735.1,272.9 735.2,278.4 735.3,267.3 735.4,270.8 735.5,266.9 735.6,270 735.7,267.9 735.8,273.3 736,270.4 736.1,264.3 736.2,276.4 736.3,269 736.4,267.5 736.5,271.4 736.6,270.4 736.7,268.9 736.9,274.9 737,271.6 737.1,275.7 737.2,273.3 737.3,274.9 737.4,273.5 737.5,273.7 737.6,271.7 737.8,277.6 737.9,266.9 738,269.5 738.1,270.9 738.2,274.4 738.3,273.6 738.4,271.6 738.5,272.1 738.7,278.7 738.8,271.1 738.9,264.2 739,279.3 739.1,270.4 739.2,272.4 739.3,274 739.4,269.3 739.6,277.4 739.7,276 739.8,269.1 739.9,274.4 740,277.9 740.1,273.5 740.2,275.3 740.4,269 740.5,276.8 740.6,271.2 740.7,278 740.8,271.9 740.9,274.4 741,282.3 741.1,274.2 741.3,277.6 741.4,275.6 741.5,269.4 741.6,277.8 741.7,277.7 741.8,269.8 741.9,274.5 742,268.9 742.2,273.4 742.3,277.3 742.4,274.7 742.5,270.7 742.6,271.6 742.7,274.6 742.8,274.5 742.9,275.1 743.1,276.6 743.2,268.6 743.3,274.8 743.4,278.4 743.5,282.9 743.6,272.6 743.7,272.9 743.8,273.8 744,277.1 744.1,274.9 744.2,280.2 744.3,279 744.4,272.3 744.5,276.4 744.6,273.6 744.7,270.9 744.9,272.6 745,274.5 745.1,267.8 745.2,272.3 745.3,275.5 745.4,268.5 745.5,272.9 745.6,276.8 745.8,273.7 745.9,274.4 746,280 746.1,274.2 746.2,281.2 746.3,274.9 746.4,275.1 746.5,273.7 746.7,273.3 746.8,272.8 746.9,276.6 747,270.9 747.1,276.7 747.2,273.4 747.3,268.5 747.4,274.7 747.6,274.1 747.7,269 747.8,273.5 747.9,273.1 748,271.4 748.1,270.2 748.2,278.9 748.3,274.4 748.5,274.9 748.6,279.3 748.7,280.9 748.8,274.1 748.9,273.3 749,271.6 749.1,270.7 749.2,273.7 749.4,273.2 749.5,270.4 749.6,265.6 749.7,269.6 749.8,272.6 749.9,270.7 750,273.3 750.2,269.4 750.3,267.5 750.4,272.7 750.5,270.7 750.6,266.4 750.7,273.3 750.8,269.1 750.9,272.8 751.1,272.1 751.2,271 751.3,262.6 751.4,270.5 751.5,270.8 751.6,270.8 751.7,269.5 751.8,266.8 752,271.8 752.1,262.3 752.2,267.9 752.3,264 752.4,267.5 752.5,265.9 752.6,272.6 752.7,270.9 752.9,268.2 753,268.7 753.1,274.5 753.2,265 753.3,268.8 753.4,268.9 753.5,268.2 753.6,268 753.8,266 753.9,271.1 754,269.9 754.1,266.1 754.2,266.4 754.3,267.9 754.4,268.4 754.5,275.5 754.7,267.9 754.8,263 754.9,269.6 755,261.5 755.1,263.5 755.2,267.4 755.3,263.5 755.4,270.3 755.6,271.1 755.7,269.6 755.8,266.8 755.9,266.4 756,266.9 756.1,264.9 756.2,271.7 756.3,263.5 756.5,267.3 756.6,266.8 756.7,265.9 756.8,268 756.9,268.5 757,267.1 757.1,263.8 757.2,261.8 757.4,261.6 757.5,266.1 757.6,265.2 757.7,262.3 757.8,260.8 757.9,268.2 758,256.8 758.1,262.8 758.3,263.4 758.4,259.6 758.5,257.2 758.6,259 758.7,256.5 758.8,256.8 758.9,255.3 759,255 759.2,258.1 759.3,253.8 759.4,257.4 759.5,257.3 759.6,260.1 759.7,257.9 759.8,254.2 760,260.4 760.1,254 760.2,254.6 760.3,254.6 760.4,261.9 760.5,255.1 760.6,252.5 760.7,256.5 760.9,253.6 761,260.9 761.1,251.2 761.2,255 761.3,249.9 761.4,258 761.5,249.9 761.6,252.4 761.8,248.9 761.9,253.9 762,252.7 762.1,243.5 762.2,252.7 762.3,252 762.4,250.3 762.5,252.3 762.7,245.2 762.8,243.2 762.9,250.3 763,253.1 763.1,243.8 763.2,243.6 763.3,244.1 763.4,242.6 763.6,248.5 763.7,245.9 763.8,249.2 763.9,248.8 764,240.9 764.1,245.5 764.2,235.9 764.3,242.3 764.5,244 764.6,239 764.7,235.4 764.8,237.9 764.9,243.8 765,238.4 765.1,234.8 765.2,240 765.4,247.4 765.5,234.4 765.6,236.6 765.7,239.9 765.8,237.2 765.9,235.4 766,234.1 766.1,234.2 766.3,230.5 766.4,231.5 766.5,238.1 766.6,231.6 766.7,229.7 766.8,230.8 766.9,228.8 767,233.5 767.2,234.7 767.3,228.8 767.4,235.1 767.5,238.6 767.6,229 767.7,234.7 767.8,233.7 767.9,237.5 768.1,237.7 768.2,237.6 768.3,235.6 768.4,233.8 768.5,242.6 768.6,233.6 768.7,240.1 768.8,240.2 769,235.4 769.1,238.2 769.2,243.2 769.3,233.2 769.4,242.1 769.5,239.2 769.6,239.8 769.8,236.6 769.9,244.2 770,238.8 770.1,244.7 770.2,239.4 770.3,244.4 770.4,249.2 770.5,238.5 770.7,243.8 770.8,244.9 770.9,238.7 771,244.9 771.1,248.9 771.2,244.5 771.3,250.8 771.4,244 771.6,244 771.7,249.8 771.8,255.7 771.9,248 772,248.7 772.1,252 772.2,247.5 772.3,255.8 772.5,251 772.6,251.2 772.7,251 772.8,251.9 772.9,254.4 773,249 773.1,251.6 773.2,253.2 773.4,255.7 773.5,255.3 773.6,250.8 773.7,255.1 773.8,252.1 773.9,249.3 774,249.6 774.1,248.2 774.3,254.1 774.4,256.8 774.5,250.5 774.6,252.9 774.7,250.6 774.8,254.3 774.9,250.8 775,259.3 775.2,252.8 775.3,253.6 775.4,254.2 775.5,254.9 775.6,255.2 775.7,253 775.8,257.9 775.9,253.8 776.1,256.2 776.2,253.9 776.3,257.5 776.4,258.2 776.5,251.3 776.6,258.8 776.7,262 776.8,260.5 777,259.5 777.1,252.1 777.2,258.3 777.3,257.8 777.4,262.5 777.5,258.5 777.6,257.8 777.7,254.5 777.9,262.9 778,257.4 778.1,259.8 778.2,264.1 778.3,261.2 778.4,262.2 778.5,268.7 778.7,259.9 778.8,260.3 778.9,263.5 779,263.5 779.1,257.9 779.2,261.8 779.3,259.6 779.4,258.5 779.6,264.6 779.7,260.6 779.8,262.3 779.9,263.5 780,263.7 780.1,263.5 780.2,257.9 780.3,263.3 780.5,264.3 780.6,264.8 780.7,263 780.8,266.9 780.9,265.8 781,264.5 781.1,266.2 781.2,264.9 781.4,266.5 781.5,258.5 781.6,260.7 781.7,263.5 781.8,265.2 781.9,258.3 782,264.2 782.1,265.6 782.3,264.5 782.4,264.6 782.5,268.2 782.6,265.8 782.7,259.3 782.8,268.6 782.9,263.8 783,269.2 783.2,260.6 783.3,267.3 783.4,266.6 783.5,263.6 783.6,262.7 783.7,270.1 783.8,267.8 783.9,271.2 784.1,266.6 784.2,266.4 784.3,268.3 784.4,269.4 784.5,270.2 784.6,269.8 784.7,265.9 784.8,263 785,273.7 785.1,265.8 785.2,269.3 785.3,266.5 785.4,271.1 785.5,275.6 785.6,271.6 785.7,266.3 785.9,268.2 786,269.2 786.1,267.6 786.2,269.4 786.3,273.7 786.4,267.2 786.5,268.3 786.6,269.7 786.8,266.3 786.9,265.7 787,272.9 787.1,272 787.2,265 787.3,265.5 787.4,272.2 787.5,273.7 787.7,272.1 787.8,271.8 787.9,275.2 788,270.3 788.1,274.5 788.2,274.4 788.3,267.9 788.5,272.7 788.6,271.1 788.7,269.1 788.8,268.6 788.9,272.3 789,271.2 789.1,274 789.2,269.6 789.4,269.6 789.5,275.1 789.6,271.8 789.7,269.7 789.8,270.5 789.9,266.4 790,267.9 790.1,273.9 790.3,272.6 790.4,276.3 790.5,271.6 790.6,272 790.7,264.2 790.8,272.3 790.9,279.1 791,274.8 791.2,272.4 791.3,276.7 791.4,275.6 791.5,274.1 791.6,271.9 791.7,273.6 791.8,275.8 791.9,270.7 792.1,274.9 792.2,274.8 792.3,277.6 792.4,275.8 792.5,271.4 792.6,285.7 792.7,273.8 792.8,272.1 793,274.8 793.1,279.6 793.2,277.2 793.3,269.8 793.4,278 793.5,273.2 793.6,279.4 793.7,277.3 793.9,271.1 794,268.9 794.1,273.3 794.2,270.4 794.3,276.2 794.4,275 794.5,274.4 794.6,273.2 794.8,279.3 794.9,271.7 795,270.6 795.1,278.3 795.2,278.9 795.3,273.7 795.4,276.9 795.5,282.2 795.7,272.5 795.8,274.6 795.9,276.6 796,268.6 796.1,274.8 796.2,277.6 796.3,275 796.4,277.7 796.6,277.8 796.7,274.3 796.8,277.2 796.9,277 797,270.5 797.1,273 797.2,273.3 797.3,274.2 797.5,274.4 797.6,271.4 797.7,276 797.8,270.3 797.9,279 798,276.9 798.1,280.4 798.3,277.3 798.4,274.6 798.5,271.8 798.6,278.3 798.7,276.3 798.8,277.4 798.9,278.5 799,279.9 799.2,276 799.3,281.5 799.4,275.8 799.5,276 799.6,278.1 799.7,279.1 799.8,280.2 799.9,270.1 800.1,280 800.2,271 800.3,273.9 800.4,276.8 800.5,279.2 800.6,272.3 800.7,270.1 800.8,278.3 801,276.3 801.1,277.5 801.2,274.2 801.3,269 801.4,276.9 801.5,273.4 801.6,279.9 801.7,268.5 801.9,277.2 802,281.7 802.1,275.2 802.2,275.2 802.3,268.8 802.4,275.7 802.5,282.3 802.6,272.7 802.8,269.5 802.9,274.6 803,271.1 803.1,272.7 803.2,275.1 803.3,273.9 803.4,274 803.5,276.9 803.7,270.2 803.8,278.2 803.9,270.2 804,270.9 804.1,274 804.2,276.1 804.3,280.5 804.4,272.1 804.6,271.2 804.7,272.6 804.8,270.3 804.9,275.1 805,274.2 805.1,278.1 805.2,270.8 805.3,272.6 805.5,271.3 805.6,269.4 805.7,270.8 805.8,281.6 805.9,272.7 806,277.3 806.1,269.4 806.2,272.5 806.4,274.2 806.5,272.3 806.6,273.2 806.7,271.3 806.8,270.4 806.9,268.3 807,275.3 807.1,267.3 807.3,275 807.4,271.2 807.5,268.4 807.6,270.4 807.7,274.8 807.8,274 807.9,273.2 808.1,271.9 808.2,268.1 808.3,275.6 808.4,270.1 808.5,269.6 808.6,269.7 808.7,269.9 808.8,266.6 809,269.7 809.1,269.6 809.2,269.4 809.3,265.5 809.4,276.9 809.5,267 809.6,271.7 809.7,271.7 809.9,273.8 810,276.5 810.1,271.9 810.2,272.7 810.3,269 810.4,275 810.5,266 810.6,269.5 810.8,271.1 810.9,272.6 811,272.6 811.1,273.6 811.2,271.8 811.3,270 811.4,270.5 811.5,273.6 811.7,270.7 811.8,272.6 811.9,269.3 812,263.9 812.1,267.7 812.2,270.5 812.3,274.5 812.4,273.8 812.6,274.6 812.7,267.1 812.8,270 812.9,269 813,271.1 813.1,268.8 813.2,264.7 813.3,271.1 813.5,270 813.6,271.4 813.7,266.1 813.8,271.9 813.9,272.2 814,272.9 814.1,272.8 814.2,266.9 814.4,260.4 814.5,271.2 814.6,265.1 814.7,267.1 814.8,271.1 814.9,268.4 815,268.1 815.1,269.3 815.3,261.1 815.4,268.9 815.5,265.4 815.6,265.4 815.7,268 815.8,265.5 815.9,263.1 816,265.1 816.2,264.1 816.3,263 816.4,271.2 816.5,260.2 816.6,262.1 816.7,261.3 816.8,261 816.9,268.3 817.1,264.1 817.2,266 817.3,265.1 817.4,260.1 817.5,265.4 817.6,263.1 817.7,268.4 817.9,262.8 818,261.8 818.1,263.1 818.2,263.9 818.3,255.6 818.4,265 818.5,264.3 818.6,263.3 818.8,256.9 818.9,253.9 819,259.2 819.1,262.2 819.2,261.1 819.3,256.3 819.4,261.6 819.5,257.8 819.7,254.6 819.8,258.6 819.9,256.6 820,256 820.1,253.3 820.2,261.2 820.3,254.1 820.4,258.7 820.6,259.7 820.7,256.8 820.8,257.6 820.9,259.7 821,261.4 821.1,259.2 821.2,251.6 821.3,249.8 821.5,254.3 821.6,251.8 821.7,256.8 821.8,255.3 821.9,254 822,258 822.1,257.5 822.2,253.9 822.4,258.8 822.5,257.1 822.6,252.4 822.7,253.1 822.8,250 822.9,253 823,253.7 823.1,252.1 823.3,252.8 823.4,254.1 823.5,251 823.6,249.3 823.7,249.3 823.8,247 823.9,255.9 824,251.6 824.2,251.3 824.3,249.2 824.4,250.7 824.5,250.5 824.6,242.6 824.7,247.5 824.8,251.3 824.9,243.1 825.1,243.7 825.2,248.1 825.3,243.4 825.4,247.8 825.5,241.6 825.6,245.3 825.7,246.6 825.8,244.9 826,245.6 826.1,242.2 826.2,241.9 826.3,241.8 826.4,243.2 826.5,252.4 826.6,240.3 826.7,246 826.9,238.9 827,235.8 827.1,244.8 827.2,239.6 827.3,238.5 827.4,237.8 827.5,238.6 827.7,238.2 827.8,238.7 827.9,231.7 828,234.8 828.1,231.2 828.2,234.4 828.3,232.7 828.4,232.9 828.6,230.3 828.7,228.5 828.8,230.3 828.9,231.7 829,231.4 829.1,223.2 829.2,228.5 829.3,227.9 829.5,221.8 829.6,222.4 829.7,223.6 829.8,230.9 829.9,217 830,222.7 830.1,222 830.2,224 830.4,227.8 830.5,227.5 830.6,222.3 830.7,222.5 830.8,224.7 830.9,227.9 831,229.2 831.1,226.2 831.3,230.1 831.4,223.3 831.5,223 831.6,218.3 831.7,224.9 831.8,229.9 831.9,232.6 832,239.8 832.2,231.5 832.3,230.7 832.4,227.7 832.5,229.3 832.6,229.9 832.7,231.6 832.8,230.7 832.9,228.8 833.1,237 833.2,235.6 833.3,239 833.4,230.1 833.5,231.6 833.6,233.7 833.7,240.2 833.8,236.3 834,238 834.1,237.4 834.2,238.7 834.3,236.9 834.4,240.1 834.5,236.6 834.6,238.9 834.7,240.9 834.9,240.8 835,240.1 835.1,238.7 835.2,242.4 835.3,241.1 835.4,247.5 835.5,247.3 835.6,240.3 835.8,246.8 835.9,241.8 836,243 836.1,249.8 836.2,248 836.3,247 836.4,248.4 836.6,249.9 836.7,244.3 836.8,247.7 836.9,246.1 837,249 837.1,247 837.2,250.6 837.3,248.7 837.5,247.1 837.6,249.1 837.7,250.9 837.8,253.1 837.9,249.4 838,249.1 838.1,253.9 838.2,253 838.4,249.2 838.5,243.4 838.6,252.2 838.7,250.4 838.8,250.5 838.9,259.8 839,251.7 839.1,254.5 839.3,248.2 839.4,253.5 839.5,255.3 839.6,250 839.7,252.8 839.8,255.3 839.9,256.1 840,258.2 840.2,254.9 840.3,252 840.4,248.5 840.5,252.6 840.6,254.2 840.7,251.6 840.8,252.3 840.9,250.5 841.1,252.5 841.2,260.9 841.3,253.7 841.4,255.9 841.5,255.7 841.6,256.2 841.7,259.5 841.8,263.8 842,259.6 842.1,263.9 842.2,257.7 842.3,258.1 842.4,263.5 842.5,256.4 842.6,256 842.7,256 842.9,254 843,253.6 843.1,263.3 843.2,256.6 843.3,258.6 843.4,258.9 843.5,257.5 843.6,261.8 843.8,262.6 843.9,263.6 844,263.5 844.1,261.7 844.2,266.1 844.3,265 844.4,260.2 844.5,262.4 844.7,261.2 844.8,268.4 844.9,265.2 845,264.7 845.1,263 845.2,265.1 845.3,260.5 845.4,263.7 845.6,263.6 845.7,263.7 845.8,261.7 845.9,265.4 846,260.6 846.1,262.7 846.2,263.8 846.4,264.2 846.5,262.8 846.6,264.8 846.7,261.6 846.8,263.5 846.9,262 847,264.4 847.1,261 847.3,265 847.4,271.4 847.5,261 847.6,264.9 847.7,268.9 847.8,266 847.9,268.2 848,259 848.2,264 848.3,270.5 848.4,264.1 848.5,267 848.6,260 848.7,269.2 848.8,273 848.9,265.9 849.1,267.3 849.2,267.6 849.3,273 849.4,265.1 849.5,261.4 849.6,272.5 849.7,263.1 849.8,268.5 850,259.6 850.1,265.6 850.2,267.6 850.3,263.7 850.4,265.5 850.5,269.1 850.6,265.1 850.7,269 850.9,278.3 851,261.3 851.1,268.7 851.2,269.6 851.3,266.7 851.4,272.7 851.5,272.1 851.6,269.6 851.8,269.7 851.9,268 852,264.8 852.1,269.8 852.2,266.9 852.3,266.6 852.4,271.9 852.5,267.9 852.7,271.6 852.8,267 852.9,265.7 853,268.9 853.1,273.2 853.2,268.8 853.3,271.6 853.4,267.1 853.6,269.7 853.7,279.5 853.8,266.7 853.9,267.4 854,271.5 854.1,266.2 854.2,270.8 854.3,270.9 854.5,269.6 854.6,272.4 854.7,271.5 854.8,270.7 854.9,265.6 855,265.8 855.1,271.3 855.2,265.6 855.4,270.8 855.5,266.3 855.6,268.1 855.7,270 855.8,263.5 855.9,270.3 856,274.8 856.2,267.1 856.3,272.5 856.4,272.3 856.5,280.7 856.6,268.4 856.7,269 856.8,269.2 856.9,268.7 857.1,266.6 857.2,272 857.3,269.2 857.4,274.3 857.5,273.2 857.6,268.9 857.7,271.1 857.8,278 858,271.3 858.1,278 858.2,276.2 858.3,271.3 858.4,274 858.5,277.7 858.6,276.3 858.7,267.5 858.9,277.7 859,274.5 859.1,271.3 859.2,271.3 859.3,277.2 859.4,274.5 859.5,273.1 859.6,271.1 859.8,275.7 859.9,277.4 860,270.8 860.1,270.5 860.2,272.9 860.3,276 860.4,272.9 860.5,277.8 860.7,271.7 860.8,278.3 860.9,274.1 861,275 861.1,278.1 861.2,274 861.3,274.7 861.4,276.1 861.6,273.7 861.7,279.3 861.8,275.2 861.9,273.7 862,274.2 862.1,271.8 862.2,278.9 862.3,285.7 862.5,274.5 862.6,280.6 862.7,268.8 862.8,273 862.9,278.1 863,275.4 863.1,278 863.2,280 863.4,267.4 863.5,274.5 863.6,273.3 863.7,273.8 863.8,270 863.9,274.7 864,271.9 864.1,278.8 864.3,280 864.4,271.3 864.5,271.2 864.6,274.2 864.7,275.1 864.8,275.3 864.9,278 865,271.1 865.2,273.8 865.3,274.3 865.4,273.9 865.5,272.7 865.6,274.4 865.7,273.7 865.8,279.6 866,274.5 866.1,269.3 866.2,277.7 866.3,276.5 866.4,273.4 866.5,273.2 866.6,274.3 866.7,280.1 866.9,274.7 867,279.9 867.1,275.7 867.2,274.6 867.3,277.3 867.4,273.9 867.5,266.7 867.6,274 867.8,279.3 867.9,279.2 868,275 868.1,279.8 868.2,278.2 868.3,277.1 868.4,278.6 868.5,277.3 868.7,279.7 868.8,281.2 868.9,280.9 869,275.3 869.1,276.6 869.2,273.6 869.3,273.6 869.4,277.9 869.6,281.7 869.7,281.3 869.8,269.8 869.9,273.2 870,277.6 870.1,280.6 870.2,275.8 870.3,282.8 870.5,279.5 870.6,274.8 870.7,282 870.8,278.6 870.9,274.2 871,280.4 871.1,276.3 871.2,278.8 871.4,279.9 871.5,275.8 871.6,280.4 871.7,271.4 871.8,279.2 871.9,271.2 872,280.8 872.1,275.5 872.3,281.1 872.4,281.6 872.5,277 872.6,275.4 872.7,281.5 872.8,273.9 872.9,280.1 873,277.2 873.2,283.4 873.3,275.8 873.4,283.2 873.5,272.7 873.6,276 873.7,279.1 873.8,281 873.9,283 874.1,282 874.2,276.2 874.3,278.9 874.4,281.4 874.5,279.6 874.6,272.2 874.7,279 874.8,279.8 875,273.9 875.1,276.6 875.2,278 875.3,280 875.4,284.6 875.5,281.8 875.6,279.7 875.8,278.9 875.9,277.1 876,276.6 876.1,277.6 876.2,277.6 876.3,285.3 876.4,285 876.5,280 876.7,281.4 876.8,280.4 876.9,279.3 877,282.3 877.1,281.9 877.2,278.8 877.3,278.1 877.4,280.5 877.6,276.9 877.7,284.9 877.8,281.6 877.9,278.3 878,272.6 878.1,280.5 878.2,274.7 878.3,274 878.5,273.6 878.6,280.8 878.7,272.1 878.8,284.3 878.9,284.3 879,278.8 879.1,276.1 879.2,277.8 879.4,277.2 879.5,273.9 879.6,280 879.7,281 879.8,275.3 879.9,275.5 880,274.3 880.1,280.9 880.3,274.2 880.4,276 880.5,272 880.6,278.4 880.7,276.7 880.8,278.2 880.9,282.2 881,279.4 881.2,273.7 881.3,278.6 881.4,277.6 881.5,274.4 881.6,273.9 881.7,273.9 881.8,279.3 881.9,277 882.1,278.4 882.2,278.8 882.3,279 882.4,274.1 882.5,271.8 882.6,280.1 882.7,284.6 882.8,281 883,279.6 883.1,276.8 883.2,274.5 883.3,276.8 883.4,278.4 883.5,275.7 883.6,279.1 883.7,276.3 883.9,274.2 884,267.8 884.1,273.5 884.2,278.5 884.3,279 884.4,277.2 884.5,280.9 884.6,278 884.8,278 884.9,272.9 885,276.9 885.1,277 885.2,279.7 885.3,279.1 885.4,275.7 885.6,276.1 885.7,271.9 885.8,277.3 885.9,272 886,274.4 886.1,275.2 886.2,281.3 886.3,280.3 886.5,272.8 886.6,270.7 886.7,274.3 886.8,272.5 886.9,276.1 887,276 887.1,276.8 887.2,271.7 887.4,273.6 887.5,275.4 887.6,275.6 887.7,272.8 887.8,273.5 887.9,274 888,269.1 888.1,273.6 888.3,273.6 888.4,269.7 888.5,271.1 888.6,274.4 888.7,272.5 888.8,277.4 888.9,276 889,281 889.2,270.2 889.3,279.8 889.4,271.8 889.5,276.4 889.6,276.8 889.7,274.3 889.8,272.9 889.9,271.7 890.1,268.1 890.2,272.4 890.3,270.8 890.4,275.3 890.5,271.2 890.6,272.9 890.7,274.7 890.8,273.6 891,279.4 891.1,272.6 891.2,276.3 891.3,274.7 891.4,275.3 891.5,270.7 891.6,278.2 891.7,274.8 891.9,264.5 892,281.2 892.1,274.9 892.2,271.8 892.3,277.8 892.4,264.6 892.5,280.6 892.6,268.1 892.8,268.7 892.9,269.6 893,273.1 893.1,271.2 893.2,275 893.3,269.7 893.4,275.6 893.5,272.9 893.7,268.9 893.8,275.4 893.9,273 894,271.3 894.1,275.8 894.2,268 894.3,270.5 894.5,282.8 894.6,271.5 894.7,272.6 894.8,273.3 894.9,270.9 895,273.2 895.1,268 895.2,273.1 895.4,267.8 895.5,270.9 895.6,268 895.7,272.2 895.8,272.1 895.9,274 896,268.5 896.1,267.4 896.3,263.6 896.4,266.1 896.5,269.2 896.6,270.6 896.7,268.6 896.8,269.8 896.9,265.2 897,266.7 897.2,272.1 897.3,271.6 897.4,265.1 897.5,268.3 897.6,269.9 897.7,265.4 897.8,270.2 897.9,269.8 898.1,270.3 898.2,274.8 898.3,266 898.4,272.4 898.5,270.3 898.6,270.8 898.7,266.1 898.8,268.5 899,268.2 899.1,273.3 899.2,268.3 899.3,272.5 899.4,266.9 899.5,269.8 899.6,269.9 899.7,261.3 899.9,265.9 900,265.6 900.1,263.4 900.2,267.9 900.3,261.5 900.4,263.8 900.5,271.1 900.6,263.7 900.8,265.3 900.9,263.9 901,265.3 901.1,270.5 901.2,270.2 901.3,260.9 901.4,265.7 901.5,270.7 901.7,265.2 901.8,267.3 901.9,271.8 902,273.1 902.1,270.9 902.2,267.9 902.3,265.9 902.4,271.8 902.6,264.7 902.7,263.7 902.8,268.6 902.9,266.3 903,267.9 903.1,269 903.2,266.8 903.3,265.4 903.5,265.8 903.6,269.4 903.7,266.3 903.8,258.5 903.9,267.9 904,269.8 904.1,263.6 904.3,262.6 904.4,263.9 904.5,267.7 904.6,261.1 904.7,266.5 904.8,267.5 904.9,265.8 905,264.2 905.2,261.6 905.3,261.8 905.4,263.7 905.5,260.6 905.6,263.2 905.7,260.6 905.8,267.6 905.9,268.1 906.1,262 906.2,267.3 906.3,263.9 906.4,263.2 906.5,264.3 906.6,264.1 906.7,258.3 906.8,275.4 907,266.7 907.1,255.3 907.2,262.3 907.3,262.4 907.4,265.2 907.5,256.5 907.6,265.8 907.7,261.8 907.9,262.5 908,260.2 908.1,268.6 908.2,257.3 908.3,263 908.4,261.5 908.5,263.6 908.6,263.5 908.8,261.9 908.9,261.8 909,264.9 909.1,256.4 909.2,261.6 909.3,265.4 909.4,257.6 909.5,263.3 909.7,259.3 909.8,260.9 909.9,260 910,260.2 910.1,262.4 910.2,260.4 910.3,254.2 910.4,267.4 910.6,259.8 910.7,259 910.8,263.5 910.9,264.4 911,253.4 911.1,261.2 911.2,253.6 911.3,258.3 911.5,259.6 911.6,258.3 911.7,257.8 911.8,256 911.9,260.4 912,259.1 912.1,258.9 912.2,255.2 912.4,256.8 912.5,262.3 912.6,261.2 912.7,258.1 912.8,261 912.9,260.2 913,261.9 913.1,259.7 913.3,257.5 913.4,255.7 913.5,258.6 913.6,250.7 913.7,258.8 913.8,248.6 913.9,255.3 914.1,256.8 914.2,259.8 914.3,266.9 914.4,258.6 914.5,257.5 914.6,252.1 914.7,262.2 914.8,252 915,258.6 915.1,258.2 915.2,265.5 915.3,260.1 915.4,261.4 915.5,255.4 915.6,257.1 915.7,262.9 915.9,254.4 916,255.1 916.1,255.3 916.2,260.1 916.3,253.6 916.4,257 916.5,261.1 916.6,261.1 916.8,252.6 916.9,254.5 917,256.3 917.1,257.9 917.2,256.4 917.3,256.3 917.4,253.6 917.5,258.4 917.7,249.5 917.8,255.4 917.9,258 918,260 918.1,258.2 918.2,253.7 918.3,253.5 918.4,256.4 918.6,255.5 918.7,256.6 918.8,259 918.9,251.5 919,256.5 919.1,247.7 919.2,257.6 919.3,255.7 919.5,252.4 919.6,255.9 919.7,262.5 919.8,257.9 919.9,254.6 920,253.8 920.1,255.1 920.2,251.6 920.4,251.6 920.5,253.6 920.6,254.4 920.7,255.2 920.8,252.7 920.9,251.5 921,253.6 921.1,252.8 921.3,253.1 921.4,258.4 921.5,257.1 921.6,251.5 921.7,252.5 921.8,248.9 921.9,253.5 922,251 922.2,249.5 922.3,250.4 922.4,255.3 922.5,257.6 922.6,252.9 922.7,256.3 922.8,249.7 922.9,250 923.1,254.5 923.2,246.9 923.3,253.8 923.4,253.5 923.5,253.5 923.6,254.9 923.7,259.1 923.9,252.5 924,249.9 924.1,250.6 924.2,250.7 924.3,253 924.4,256.7 924.5,252.5 924.6,254.8 924.8,249.2 924.9,252.2 925,246.9 925.1,249.7 925.2,249.4 925.3,251.2 925.4,251.2 925.5,249.8 925.7,248.9 925.8,254 925.9,250.2 926,243.6 926.1,252 926.2,252.4 926.3,253.8 926.4,256.1 926.6,247.9 926.7,251.3 926.8,250.6 926.9,245.8 927,243.7 927.1,254.2 927.2,248.1 927.3,249.4 927.5,250.1 927.6,249.8 927.7,251.3 927.8,246.3 927.9,249.3 928,250.1 928.1,245.6 928.2,248.4 928.4,249.7 928.5,250.1 928.6,245.6 928.7,249.4 928.8,251.3 928.9,258.9 929,252 929.1,254.1 929.3,250.5 929.4,250 929.5,257.1 929.6,250.7 929.7,248.7 929.8,249.1 929.9,253.6 930,246.7 930.2,252.8 930.3,254.4 930.4,253.9 930.5,250.6 930.6,246.3 930.7,246.9 930.8,249.8 930.9,254.1 931.1,252.4 931.2,255.7 931.3,250.9 931.4,255.8 931.5,249.9 931.6,248.3 931.7,250.7 931.8,248.8 932,253.1 932.1,254.6 932.2,252.1 932.3,246.5 932.4,246.9 932.5,251.4 932.6,246.3 932.7,251 932.9,245.3 933,248.4 933.1,250.5 933.2,247.4 933.3,252.2 933.4,252.7 933.5,254.3 933.7,249 933.8,249.9 933.9,249.9 934,250.9 934.1,251.4 934.2,250.9 934.3,251.8 934.4,245.7 934.6,245.1 934.7,248.4 934.8,254.8 934.9,251.3 935,247.5 935.1,249.3 935.2,244.6 935.3,253.5 935.5,247.2 935.6,251.2 935.7,245.1 935.8,249.4 935.9,249 936,250.1 936.1,253.5 936.2,252.5 936.4,250.9 936.5,252.4 936.6,245.3 936.7,244.8 936.8,248.1 936.9,252.1 937,249.3 937.1,251 937.3,244.3 937.4,251.9 937.5,247.3 937.6,250 937.7,254.9 937.8,251.1 937.9,252.1 938,247.5 938.2,248.3 938.3,251 938.4,252.4 938.5,243.7 938.6,251.4 938.7,251.3 938.8,249.1 938.9,250.6 939.1,249.7 939.2,246.7 939.3,243 939.4,253.8 939.5,248.3 939.6,248.1 939.7,248.5 939.8,248.7 940,249.2 940.1,245 940.2,249.5 940.3,248.4 940.4,248 940.5,247.7 940.6,248.5 940.7,244.7 940.9,247.9 941,247.3 941.1,248 941.2,250.9 941.3,250.4 941.4,251 941.5,244.3 941.6,249.9 941.8,251 941.9,246.9 942,246 942.1,249.6 942.2,242.4 942.3,247.4 942.4,247.8 942.5,243.3 942.7,247.2 942.8,249.3 942.9,240.6 943,250.7 943.1,247.6 943.2,246.8 943.3,250.6 943.5,247.6 943.6,246.1 943.7,239.8 943.8,250 943.9,247.4 944,245.2 944.1,247 944.2,253.2 944.4,245.8 944.5,246.9 944.6,245.9 944.7,243.8 944.8,244.1 944.9,246 945,246.4 945.1,250.7 945.3,247.7 945.4,246.7 945.5,248.6 945.6,247.1 945.7,249.9 945.8,242.7 945.9,240.8 946,248.6 946.2,246.2 946.3,248.2 946.4,243.6 946.5,251.8 946.6,247.2 946.7,248.2 946.8,247.1 946.9,250.6 947.1,245.5 947.2,249.8 947.3,244.4 947.4,247.2 947.5,244.2 947.6,247.7 947.7,244.5 947.8,250.5 948,245.8 948.1,248.3 948.2,247.1 948.3,247.5 948.4,244.8 948.5,253.9 948.6,251 948.7,252.4 948.9,248.5 949,253.9 949.1,249.2 949.2,257.4 949.3,242.7 949.4,251.8 949.5,247.5 949.6,249.5 949.8,253.4 949.9,248.9 950,245.8 950.1,248.5 950.2,247.9 950.3,249 950.4,247.9 950.5,249.1 950.7,246.9 950.8,241.1 950.9,246.9 951,247.4 951.1,251.2 951.2,250.4 951.3,243.5 951.4,251.5 951.6,250.9 951.7,248.4 951.8,249.4 951.9,242.1 952,255.4 952.1,247 952.2,245.9 952.4,251.6 952.5,250.2 952.6,246.8 952.7,243.2 952.8,251.1 952.9,253.1 953,248.9 953.1,243.5 953.3,249.3 953.4,255.1 953.5,243.8 953.6,248.9 953.7,251.9 953.8,248.5 953.9,249.5 954,249.7 954.2,243.8 954.3,243.9 954.4,257.7 954.5,251.3 954.6,242.9 954.7,249.6 954.8,252.6 954.9,248.4 955.1,248.8 955.2,248.8 955.3,250 955.4,249.5 955.5,251.1 955.6,247.5 955.7,251.1 955.8,249.5 956,249 956.1,244.6 956.2,247.4 956.3,249 956.4,247 956.5,247.4 956.6,243.1 956.7,247.1 956.9,243.1 957,244.5 957.1,248.8 957.2,252.6 957.3,246 957.4,247.2 957.5,249.1 957.6,253.3 957.8,254.4 957.9,247.7 958,246.4 958.1,246.3 958.2,252.8 958.3,245.6 958.4,250.5 958.5,247.7 958.7,248.6 958.8,251.4 958.9,250.7 959,255.3 959.1,251.8 959.2,254.5 959.3,247.6 959.4,246 959.6,243 959.7,244.1 959.8,251 959.9,248 960,250.3 960.1,247.2 960.2,248.2 960.3,252.3 960.5,253.7 960.6,249.1 960.7,250.3 960.8,246.7 960.9,244.2 961,250.7 961.1,250.7 961.2,262.3 961.4,250.2 961.5,251.2 961.6,256.6 961.7,249.1 961.8,248.3 961.9,252.4 962,251.4 962.2,253.3 962.3,248 962.4,255.2 962.5,251.5 962.6,249.7 962.7,250.5 962.8,249.3 962.9,251.3 963.1,254.6 963.2,249.6 963.3,249.2 963.4,254.3 963.5,250.2 963.6,248.1 963.7,248.1 963.8,255.7 964,254.6 964.1,256.6 964.2,251.4 964.3,249.9 964.4,249.7 964.5,254.6 964.6,255.6 964.7,251.9 964.9,251.9 965,253.1 965.1,251.9 965.2,247.7 965.3,251.8 965.4,255.8 965.5,259.2 965.6,256.4 965.8,252.3 965.9,253.7 966,254.3 966.1,255.2 966.2,250.9 966.3,253.3 966.4,252.9 966.5,257.2 966.7,255.3 966.8,253 966.9,256.7 967,257.5 967.1,254.7 967.2,250.1 967.3,253.3 967.4,249.4 967.6,254.4 967.7,255.1 967.8,258.5 967.9,256 968,249.9 968.1,253.4 968.2,252.2 968.3,252.4 968.5,254.7 968.6,255.3 968.7,254.4 968.8,252.8 968.9,250.3 969,253.5 969.1,254 969.2,257.6 969.4,256.1 969.5,258.2 969.6,256.8 969.7,262 969.8,256.2 969.9,248.3 970,262.8 970.1,259.3 970.3,255.9 970.4,252 970.5,254.8 970.6,254.2 970.7,255.9 970.8,261.5 970.9,246.6 971,256.2 971.2,258.1 971.3,258.1 971.4,255.5 971.5,255.5 971.6,254.4 971.7,256.4 971.8,261.4 972,255.4 972.1,259 972.2,258.1 972.3,261.8 972.4,265.1 972.5,259.7 972.6,257.3 972.7,262.1 972.9,257.5 973,257.3 973.1,261.3 973.2,259.8 973.3,260.6 973.4,255.2 973.5,265.9 973.6,259.2 973.8,263.4 973.9,259.7 974,255.8 974.1,260.4 974.2,258.1 974.3,261.3 974.4,252.7 974.5,256 974.7,255.4 974.8,263.1 974.9,262.4 975,255.8 975.1,259.8 975.2,260.1 975.3,258.3 975.4,263.3 975.6,254.9 975.7,260.5 975.8,258.2 975.9,261.8 976,258.2 976.1,262.1 976.2,257 976.3,256.6 976.5,257.3 976.6,258.6 976.7,258.3 976.8,268.7 976.9,257.9 977,261.4 977.1,260.3 977.2,261.5 977.4,265 977.5,262.5 977.6,258.9 977.7,256.6 977.8,263 977.9,263.9 978,256.7 978.1,262.7 978.3,255 978.4,261.3 978.5,264.2 978.6,258.5 978.7,256.4 978.8,266.2 978.9,257 979,262.8 979.2,257.4 979.3,263.2 979.4,267 979.5,260.6 979.6,259.4 979.7,255.9 979.8,257.1 979.9,260.3 980.1,263.3 980.2,264.2 980.3,263.6 980.4,265.3 980.5,264.2 980.6,270.7 980.7,266.3 980.8,263.1 981,255.1 981.1,260.7 981.2,264.6 981.3,258.8 981.4,267 981.5,265.2 981.6,269.1 981.8,259 981.9,261.6 982,267.2 982.1,263.8 982.2,260.7 982.3,262.2 982.4,262.6 982.5,266.5 982.7,265.8 982.8,263.6 982.9,263 983,266.6 983.1,267.5 983.2,260.6 983.3,267.1 983.4,260.9 983.6,263.6 983.7,261.6 983.8,259 983.9,262.3 984,262.1 984.1,267.4 984.2,266.8 984.3,262.7 984.5,260 984.6,260.5 984.7,257.7 984.8,263.9 984.9,264.3 985,261.9 985.1,265 985.2,265.3 985.4,268.4 985.5,262.2 985.6,268.6 985.7,263.8 985.8,269.8 985.9,262.1 986,268.7 986.1,263 986.3,270.5 986.4,267 986.5,259.7 986.6,269.9 986.7,265.6 986.8,267.4 986.9,273.1 987,265.1 987.2,264.7 987.3,269.5 987.4,264.4 987.5,268.7 987.6,269.4 987.7,266.3 987.8,268.5 987.9,259.4 988.1,271.3 988.2,264.3 988.3,261 988.4,272.8 988.5,272.1 988.6,265 988.7,268.3 988.8,265.7 989,263.4 989.1,268.2 989.2,270.3 989.3,275.5 989.4,266.5 989.5,270.1 989.6,266.3 989.7,266.6 989.9,271.7 990,262.1 990.1,269.3 990.2,264.9 990.3,271.3 990.4,268.9 990.5,268.7 990.6,269.1 990.8,271.3 990.9,269.7 991,267.2 991.1,266.9 991.2,269.6 991.3,264.1 991.4,267.6 991.6,283.8 991.7,270.3 991.8,268.5 991.9,265.4 992,267.4 992.1,269.3 992.2,270.6 992.3,266.5 992.5,270 992.6,270.6 992.7,271.1 992.8,267.1 992.9,270.5 993,274.1 993.1,274.1 993.2,271.2 993.4,268 993.5,268 993.6,272.1 993.7,266 993.8,271.1 993.9,269.7 994,273.4 994.1,264.3 994.3,268.2 994.4,265.3 994.5,270.6 994.6,274.4 994.7,268.2 994.8,269.5 994.9,269.5 995,269.8 995.2,268 995.3,268.4 995.4,275 995.5,266.8 995.6,271.8 995.7,271.7 995.8,265 995.9,267.5 996.1,271.5 996.2,276.2 996.3,270 996.4,268.9 996.5,270.9 996.6,274.5 996.7,273.2 996.8,274.7 997,270.2 997.1,268.4 997.2,267.6 997.3,273.3 997.4,270.4 997.5,269.4 997.6,272.8 997.7,271.7 997.9,264.7 998,270.7 998.1,268.7 998.2,272.8 998.3,271.4 998.4,276.9 998.5,271.7 998.6,268 998.8,265.3 998.9,268.1 999,269.7 999.1,268 999.2,273.8 999.3,272.5 999.4,277.2 999.5,274.5 999.7,269.8 999.8,275.3 999.9,277.8 1000,281.4 1000.1,277.5 1000.2,276.6 1000.3,268.9 1000.4,273.1 1000.6,271.8 1000.7,269 1000.8,268.7 1000.9,274.2 1001,271.3 1001.1,271.5 1001.2,272.7 1001.4,271.4 1001.5,277.2 1001.6,275.3 1001.7,273.2 1001.8,271.1 1001.9,274.1 1002,273.4 1002.1,276.7 1002.3,268.7 1002.4,270.8 1002.5,269.3 1002.6,274.5 1002.7,274.2 1002.8,272.3 1002.9,274.3 1003,274.9 1003.2,268.3 1003.3,274.3 1003.4,276.5 1003.5,272 1003.6,267.9 1003.7,273.3 1003.8,269.8 1003.9,275 1004.1,275.2 1004.2,275.9 1004.3,274.2 1004.4,268.2 1004.5,277.4 1004.6,267.5 1004.7,277.1 1004.8,279.1 1005,271.4 1005.1,272.1 1005.2,273.2 1005.3,279.2 1005.4,273.1 1005.5,277.4 1005.6,266.3 1005.7,275 1005.9,273.7 1006,277.9 1006.1,275.9 1006.2,278.4 1006.3,271.5 1006.4,275.3 1006.5,272.8 1006.6,276.7 1006.8,276.2 1006.9,270.7 1007,278.3 1007.1,280.3 1007.2,273.5 1007.3,278.4 1007.4,276.2 1007.5,272.1 1007.7,277.5 1007.8,272.3 1007.9,277.1 1008,270.5 1008.1,271 1008.2,276.6 1008.3,275.8 1008.4,277.8 1008.6,273.7 1008.7,271.7 1008.8,279.8 1008.9,272.5 1009,279.5 1009.1,278.1 1009.2,281 1009.3,269 1009.5,275.4 1009.6,274.8 1009.7,277.7 1009.8,272.4 1009.9,282.2 1010,275.7 1010.1,269 1010.3,277 1010.4,275.8 1010.5,273.8 1010.6,278.5 1010.7,275.9 1010.8,273.1 1010.9,275.5 1011,275 1011.2,277.2 1011.3,277.5 1011.4,276.1 1011.5,271.8 1011.6,274.1 1011.7,277.1 1011.8,283.9 1011.9,274.2 1012.1,274.1 1012.2,283.7 1012.3,282.7 1012.4,280.1 1012.5,273.7 1012.6,279.9 1012.7,278.1 1012.8,276 1013,273 1013.1,277.9 1013.2,277.2 1013.3,278.6 1013.4,271.9 1013.5,279 1013.6,277.3 1013.7,277.9 1013.9,279.5 1014,275.3 1014.1,279.4 1014.2,274.4 1014.3,276.1 1014.4,276.4 1014.5,275.3 1014.6,275.8 1014.8,280 1014.9,278.4 1015,270.2 1015.1,281.2 1015.2,279 1015.3,278.2 1015.4,278.1 1015.5,280.2 1015.7,281.8 1015.8,276.1 1015.9,274.6 1016,271.8 1016.1,277.7 1016.2,274.7 1016.3,281.1 1016.4,277.4 1016.6,278.1 1016.7,277.5 1016.8,275.8 1016.9,274.8 1017,281.2 1017.1,274.3 1017.2,279.7 1017.3,281.4 1017.5,278.8 1017.6,284.6 1017.7,278.4 1017.8,277.5 1017.9,279.1 1018,276.8 1018.1,279.5 1018.2,278.6 1018.4,283.1 1018.5,278.5 1018.6,281.3 1018.7,280.1 1018.8,279.1 1018.9,278.2 1019,283.9 1019.1,283.7 1019.3,279.9 1019.4,277.5 1019.5,277.9 1019.6,276.3 1019.7,275 1019.8,277.6 1019.9,279.2 1020.1,282.3 1020.2,282.1 1020.3,280.7 1020.4,278.4 1020.5,282.8 1020.6,279.3 1020.7,279.8 1020.8,277.4 1021,278.8 1021.1,278.5 1021.2,278.5 1021.3,281.2 1021.4,282.7 1021.5,278 1021.6,278.3 1021.7,280.3 1021.9,280.9 1022,272.6 1022.1,282.1 1022.2,280.4 1022.3,279 1022.4,283.4 1022.5,282.9 1022.6,274.3 1022.8,277 1022.9,278 1023,278.1 1023.1,279.6 1023.2,277.1 1023.3,280.8 1023.4,281.4 1023.5,279.8 1023.7,277.3 1023.8,279.2 1023.9,278.1 1024,286.5 1024.1,276.6 1024.2,273.1 1024.3,276.2 1024.4,281.3 1024.6,283 1024.7,279.6 1024.8,283.5 1024.9,283.7 1025,282.1 1025.1,277.6 1025.2,276.4 1025.3,286.9 1025.5,279.7 1025.6,288.3 1025.7,285.1 1025.8,282.6 1025.9,281.4 1026,277.6 1026.1,285.5 1026.2,277.6 1026.4,274.7 1026.5,286.1 1026.6,279.3 1026.7,281 1026.8,284.6 1026.9,279.4 1027,279.9 1027.1,278.8 1027.3,273.2 1027.4,278.9 1027.5,279.9 1027.6,276.4 1027.7,292.7 1027.8,284.8 1027.9,282.5 1028,283.4 1028.2,279.2 1028.3,282.4 1028.4,276.1 1028.5,276.8 1028.6,279.1 1028.7,282.7 1028.8,279.7 1028.9,279.1 1029.1,284.9 1029.2,280.6 1029.3,279.5 1029.4,281.1 1029.5,279.8 1029.6,278 1029.7,284.4 1029.9,281.5 1030,284.5 1030.1,280.1 1030.2,284.6 1030.3,279.1 1030.4,280.8 1030.5,279 1030.6,282.5 1030.8,286.6 1030.9,276.7 1031,282.7 1031.1,282.9 1031.2,280.9 1031.3,280.2 1031.4,276.6 1031.5,281.3 1031.7,278 1031.8,287 1031.9,279.7 1032,283.2 1032.1,282.9 1032.2,282.5 1032.3,281.5 1032.4,277.4 1032.6,288.3 1032.7,282.5 1032.8,284.9 1032.9,279.1 1033,284 1033.1,281.3 1033.2,284 1033.3,280.7 1033.5,279.7 1033.6,284.1 1033.7,282.7 1033.8,287.3 1033.9,282 1034,280.3 1034.1,284.7 1034.2,279.6 1034.4,294.2 1034.5,288.8 1034.6,287.4 1034.7,285.1 1034.8,283.1 1034.9,283.5 1035,283.5 1035.1,281.1 1035.3,290.4 1035.4,287.3 1035.5,287.2 1035.6,276.9 1035.7,290.7 1035.8,284 1035.9,279 1036,282.1 1036.2,286.1 1036.3,283.6 1036.4,281 1036.5,279.9 1036.6,286.5 1036.7,281.4 1036.8,283 1036.9,280.4 1037.1,279.5 1037.2,284.9 1037.3,288.4 1037.4,282.7 1037.5,278.5 1037.6,281.9 1037.7,283.3 1037.8,276.6 1038,289.4 1038.1,281.3 1038.2,285.9 1038.3,284 1038.4,283.9 1038.5,279.5 1038.6,287.1 1038.7,285.9 1038.9,292.5 1039,282.8 1039.1,285.7 1039.2,283" stroke="#80c8f3" stroke-width="0.9" fill="none" />
<polyline points="566.2,319.1 566.3,316.8 566.4,314.2 566.5,315.2 566.7,318.8 566.8,321.3 566.9,325.3 567,324.4 567.1,320.1 567.2,317.4 567.3,319.8 567.4,325.3 567.6,322.6 567.7,322.8 567.8,323 567.9,315.8 568,323.8 568.1,315.7 568.2,320.5 568.3,316.1 568.5,317.1 568.6,315.5 568.7,314.2 568.8,320.2 568.9,320.8 569,319.2 569.1,320.2 569.2,315.8 569.4,318.2 569.5,317.9 569.6,316.6 569.7,324.1 569.8,311.5 569.9,323.5 570,317.2 570.1,316.4 570.3,319.6 570.4,317.4 570.5,317.3 570.6,318.9 570.7,323.8 570.8,322 570.9,314.8 571,320.6 571.2,313.9 571.3,314.7 571.4,318.5 571.5,316.2 571.6,320.4 571.7,319.1 571.8,320.1 571.9,316.1 572.1,321.8 572.2,318.3 572.3,317.8 572.4,316.3 572.5,324.4 572.6,323.4 572.7,320.6 572.8,318.6 573,317.5 573.1,317.3 573.2,311.7 573.3,315.9 573.4,316.1 573.5,319.4 573.6,315.5 573.7,315.8 573.9,315.9 574,318.3 574.1,316 574.2,313.2 574.3,320.4 574.4,324.5 574.5,316 574.6,315.7 574.8,318.6 574.9,319.3 575,309.4 575.1,319.3 575.2,319.8 575.3,319.4 575.4,316.4 575.5,319.8 575.7,319.1 575.8,317 575.9,326.3 576,317.5 576.1,315.9 576.2,321.2 576.3,317.7 576.5,321.5 576.6,322.4 576.7,320.8 576.8,318.7 576.9,323.5 577,319.3 577.1,321.7 577.2,313.3 577.4,318.3 577.5,316.3 577.6,323.3 577.7,321.7 577.8,318.4 577.9,322 578,314.4 578.1,319.1 578.3,317.4 578.4,317 578.5,318.3 578.6,315.5 578.7,319.9 578.8,316.8 578.9,314.2 579,317.2 579.2,317.5 579.3,318.9 579.4,317.7 579.5,315.8 579.6,318.6 579.7,323 579.8,317.4 579.9,318.3 580.1,316.4 580.2,317.7 580.3,313.1 580.4,321.5 580.5,320.8 580.6,315.9 580.7,321 580.8,316.9 581,314.6 581.1,323.8 581.2,315.8 581.3,313.7 581.4,317.2 581.5,322.1 581.6,315.5 581.7,321 581.9,318.2 582,316.6 582.1,320.2 582.2,323 582.3,318.3 582.4,318 582.5,320.4 582.6,320.2 582.8,315.6 582.9,318.1 583,319.3 583.1,319.7 583.2,317.3 583.3,317.6 583.4,318.4 583.5,322.1 583.7,319 583.8,319.7 583.9,317.6 584,314.3 584.1,315 584.2,315.9 584.3,317.5 584.4,318.8 584.6,316.8 584.7,319.3 584.8,318.9 584.9,320.4 585,318 585.1,318.1 585.2,315.3 585.3,316.2 585.5,319 585.6,315.5 585.7,319.2 585.8,314.8 585.9,315.5 586,309.1 586.1,321.1 586.3,318 586.4,318.2 586.5,316.9 586.6,315.7 586.7,320.7 586.8,319.6 586.9,316.9 587,314.9 587.2,321.2 587.3,325.7 587.4,312.1 587.5,315.3 587.6,314.5 587.7,320.7 587.8,318.4 587.9,317.1 588.1,315.5 588.2,318.1 588.3,317.9 588.4,314.8 588.5,319.1 588.6,319.4 588.7,323.2 588.8,319.3 589,317.4 589.1,318.3 589.2,319.1 589.3,317.2 589.4,316.9 589.5,318.8 589.6,314 589.7,319.4 589.9,317.8 590,318 590.1,319.5 590.2,318.9 590.3,314 590.4,326.4 590.5,318.9 590.6,321.1 590.8,316.9 590.9,316.9 591,310.8 591.1,315.8 591.2,318.2 591.3,318.1 591.4,317.8 591.5,316.5 591.7,322.8 591.8,313.3 591.9,321 592,315.9 592.1,316.3 592.2,321.1 592.3,315.9 592.4,316.1 592.6,319.6 592.7,310.9 592.8,315.6 592.9,325.7 593,319.1 593.1,322.1 593.2,318.4 593.3,317.5 593.5,328.5 593.6,318.4 593.7,319.8 593.8,318.9 593.9,318.7 594,319.6 594.1,315.7 594.2,314.8 594.4,317.4 594.5,324 594.6,318 594.7,315.8 594.8,317.7 594.9,316.6 595,317.1 595.1,321.8 595.3,324.8 595.4,315.5 595.5,318.8 595.6,316.1 595.7,318.1 595.8,317.7 595.9,313.2 596.1,320.7 596.2,317.2 596.3,320.3 596.4,316.9 596.5,315.7 596.6,315.1 596.7,320.4 596.8,321 597,316.2 597.1,314.3 597.2,314 597.3,310.6 597.4,315.2 597.5,319.8 597.6,318.3 597.7,316.5 597.9,313.7 598,320.1 598.1,314 598.2,314.7 598.3,319.2 598.4,314.8 598.5,318.8 598.6,316.5 598.8,317.4 598.9,315.8 599,319.9 599.1,314.9 599.2,318.9 599.3,317.6 599.4,318 599.5,311.7 599.7,314.7 599.8,317.7 599.9,318.9 600,316.1 600.1,318 600.2,309.6 600.3,324.3 600.4,315.9 600.6,323.3 600.7,313 600.8,318.4 600.9,311.3 601,315.3 601.1,312.8 601.2,315.3 601.3,312.4 601.5,315.8 601.6,324.5 601.7,316.4 601.8,317.9 601.9,313 602,314.1 602.1,316.4 602.2,314.3 602.4,315 602.5,317.3 602.6,309.8 602.7,314.8 602.8,316.1 602.9,319.8 603,317.3 603.1,315.4 603.3,315.9 603.4,316.8 603.5,315.5 603.6,318.6 603.7,315.3 603.8,319.8 603.9,317.8 604,317.4 604.2,312.6 604.3,313.7 604.4,314.9 604.5,318.5 604.6,316.2 604.7,309 604.8,311.3 605,319.3 605.1,316.2 605.2,314.6 605.3,313.9 605.4,314.9 605.5,313 605.6,319.2 605.7,310.4 605.9,318.3 606,314.8 606.1,313.4 606.2,311.6 606.3,312.3 606.4,312.5 606.5,311.3 606.6,315.5 606.8,312.9 606.9,310.6 607,317.4 607.1,324.9 607.2,318.1 607.3,311.1 607.4,311.6 607.5,315.5 607.7,314.6 607.8,313.9 607.9,312.3 608,320.9 608.1,317 608.2,316.2 608.3,314.5 608.4,315.3 608.6,316.4 608.7,314.7 608.8,323.1 608.9,306.5 609,313.2 609.1,309.2 609.2,317.6 609.3,314.5 609.5,309.7 609.6,310.4 609.7,315.5 609.8,323.8 609.9,315.3 610,322.3 610.1,313.4 610.2,319.7 610.4,316.5 610.5,315.2 610.6,317.4 610.7,312.9 610.8,318.1 610.9,319.7 611,317.1 611.1,313.7 611.3,317 611.4,317.9 611.5,312 611.6,315.6 611.7,317.8 611.8,313.8 611.9,317 612,314.5 612.2,315.9 612.3,318.8 612.4,317.8 612.5,317.7 612.6,315.4 612.7,315.4 612.8,319 612.9,317.1 613.1,315.2 613.2,313.4 613.3,315.9 613.4,310.9 613.5,316.6 613.6,314.6 613.7,317.7 613.8,319.7 614,316.5 614.1,315.4 614.2,315.9 614.3,316.5 614.4,317.9 614.5,319.4 614.6,317.9 614.8,315.6 614.9,314.2 615,326.8 615.1,315.3 615.2,313.9 615.3,313.4 615.4,316 615.5,315.2 615.7,318.5 615.8,317.5 615.9,314.7 616,320.5 616.1,319.7 616.2,316.8 616.3,320 616.4,317.3 616.6,321.8 616.7,316.9 616.8,317.4 616.9,319.2 617,320.3 617.1,319.1 617.2,324.2 617.3,318.8 617.5,317.3 617.6,314.1 617.7,319.1 617.8,318.1 617.9,313.5 618,312.5 618.1,319.1 618.2,313.4 618.4,314.2 618.5,316.1 618.6,320.6 618.7,320.4 618.8,315.9 618.9,310.7 619,318.2 619.1,313 619.3,312 619.4,321.3 619.5,319.4 619.6,313.1 619.7,314.7 619.8,318 619.9,317.6 620,315.7 620.2,319.5 620.3,310.2 620.4,327.8 620.5,322.9 620.6,317.1 620.7,313.3 620.8,319 620.9,317.7 621.1,320.6 621.2,317.8 621.3,320.6 621.4,320.5 621.5,321.9 621.6,319.2 621.7,311.9 621.8,317.7 622,317 622.1,310.9 622.2,319.4 622.3,320.5 622.4,317.4 622.5,321.2 622.6,316.5 622.7,311.2 622.9,320.7 623,319.1 623.1,312.5 623.2,326.9 623.3,316.1 623.4,316.8 623.5,318.4 623.6,319 623.8,312.8 623.9,319.2 624,316.5 624.1,318.7 624.2,318.2 624.3,321.6 624.4,314.7 624.6,321.1 624.7,313.7 624.8,320.9 624.9,318.9 625,316.1 625.1,317.1 625.2,319.4 625.3,317.9 625.5,328 625.6,317.3 625.7,325.3 625.8,316.9 625.9,313.4 626,314.8 626.1,321.3 626.2,318.7 626.4,316 626.5,318.6 626.6,317.7 626.7,317.7 626.8,327.4 626.9,314.7 627,316.1 627.1,314.9 627.3,320.2 627.4,321.5 627.5,316 627.6,324 627.7,322.6 627.8,317.2 627.9,319.4 628,322.9 628.2,319.3 628.3,312.9 628.4,323 628.5,321.4 628.6,320.2 628.7,321.4 628.8,319.1 628.9,317.5 629.1,321.4 629.2,316.3 629.3,313.5 629.4,314.1 629.5,311.4 629.6,314 629.7,317.4 629.8,312 630,315.2 630.1,311.8 630.2,317.9 630.3,323.6 630.4,320.8 630.5,314.4 630.6,315.7 630.7,317.9 630.9,314.3 631,320.7 631.1,319.4 631.2,320.4 631.3,317.1 631.4,315.2 631.5,319.2 631.6,314 631.8,319.6 631.9,316.2 632,327.9 632.1,317.3 632.2,316.1 632.3,322.4 632.4,312.6 632.5,311.3 632.7,312.3 632.8,314.5 632.9,312.8 633,317.7 633.1,314.1 633.2,316.1 633.3,321.8 633.4,319.9 633.6,318.9 633.7,314 633.8,316.9 633.9,314.3 634,318.6 634.1,321 634.2,311 634.4,309.1 634.5,316 634.6,317.8 634.7,313.6 634.8,320.5 634.9,317.8 635,321.4 635.1,315.7 635.3,316.4 635.4,318.3 635.5,319.1 635.6,321.7 635.7,319.6 635.8,313.5 635.9,318.9 636,313.4 636.2,319.7 636.3,317.4 636.4,318.5 636.5,317.9 636.6,314.8 636.7,323.2 636.8,314.9 636.9,315 637.1,320 637.2,316.9 637.3,317.8 637.4,315 637.5,316.9 637.6,319.6 637.7,316.6 637.8,314.2 638,316 638.1,317 638.2,316.5 638.3,318.5 638.4,318.4 638.5,329.4 638.6,317.6 638.7,314.1 638.9,318.2 639,319.7 639.1,314.4 639.2,316.6 639.3,316.6 639.4,315.6 639.5,315 639.6,317.1 639.8,319.5 639.9,311.8 640,316.8 640.1,319.3 640.2,314 640.3,310.3 640.4,321.1 640.5,313 640.7,317.2 640.8,310.9 640.9,314.9 641,317 641.1,312.9 641.2,312.8 641.3,317.5 641.4,315.8 641.6,319.3 641.7,313.6 641.8,326.8 641.9,316.8 642,322.5 642.1,314.4 642.2,322.6 642.3,319.1 642.5,315.2 642.6,316.9 642.7,317.2 642.8,318.6 642.9,317.1 643,320.9 643.1,314.7 643.2,313.2 643.4,313.3 643.5,315.6 643.6,311.8 643.7,314 643.8,319.2 643.9,314.1 644,315.1 644.2,323.4 644.3,322.8 644.4,313.1 644.5,315.3 644.6,314.3 644.7,320.7 644.8,312.3 644.9,317.5 645.1,314.7 645.2,317.2 645.3,313.5 645.4,314.6 645.5,311.9 645.6,314 645.7,312.9 645.8,310.5 646,312.7 646.1,314.6 646.2,310.5 646.3,318.8 646.4,312.8 646.5,314.9 646.6,317.9 646.7,322.7 646.9,311.8 647,317.1 647.1,314.4 647.2,308.3 647.3,317.5 647.4,310.9 647.5,313.8 647.6,312.1 647.8,316.9 647.9,313.2 648,312.4 648.1,309 648.2,306.8 648.3,312.2 648.4,314.1 648.5,308.5 648.7,313.2 648.8,313 648.9,312.5 649,309.7 649.1,310.6 649.2,314.3 649.3,312.9 649.4,307 649.6,307.8 649.7,311.1 649.8,311.5 649.9,313 650,309.2 650.1,313.7 650.2,311.8 650.3,313.4 650.5,313.8 650.6,311.8 650.7,309.4 650.8,313.5 650.9,312 651,311.5 651.1,313.1 651.2,313.5 651.4,312 651.5,309.5 651.6,308.2 651.7,310.9 651.8,312.1 651.9,311.4 652,305.6 652.1,308.5 652.3,317.3 652.4,311.2 652.5,312.6 652.6,312 652.7,315.8 652.8,310.8 652.9,314.8 653,312.5 653.2,306.2 653.3,307.7 653.4,311.5 653.5,313.5 653.6,313.1 653.7,315.9 653.8,313.2 654,311.1 654.1,313.3 654.2,308 654.3,310.3 654.4,311.6 654.5,304.9 654.6,307.9 654.7,309.7 654.9,304.4 655,305.9 655.1,311.8 655.2,308.7 655.3,310.9 655.4,313.8 655.5,303.9 655.6,305 655.8,313.1 655.9,307.9 656,314.1 656.1,306.1 656.2,309.3 656.3,310 656.4,305.3 656.5,309 656.7,306.5 656.8,306.2 656.9,309.7 657,306.1 657.1,308.6 657.2,306.1 657.3,306.6 657.4,306 657.6,311.2 657.7,302.6 657.8,308.5 657.9,302.8 658,309.6 658.1,308.6 658.2,308.5 658.3,304.2 658.5,305.1 658.6,306.2 658.7,311.9 658.8,308.6 658.9,306.4 659,307.3 659.1,312.5 659.2,305.3 659.4,309.6 659.5,300.9 659.6,307.1 659.7,299.7 659.8,301.4 659.9,304.9 660,307.6 660.1,306.4 660.3,304.6 660.4,311.6 660.5,302.8 660.6,313.8 660.7,306.3 660.8,313.6 660.9,304 661,303.1 661.2,304.3 661.3,304.1 661.4,306.1 661.5,303 661.6,301.2 661.7,306 661.8,303.1 661.9,302.3 662.1,305.1 662.2,303.6 662.3,303.6 662.4,305.6 662.5,296.8 662.6,305.2 662.7,298.7 662.9,300.5 663,309.7 663.1,306.5 663.2,300.4 663.3,300.9 663.4,305.9 663.5,302.4 663.6,306.6 663.8,306.1 663.9,303.6 664,309.9 664.1,297.9 664.2,308 664.3,299.3 664.4,306 664.5,305.7 664.7,303.6 664.8,301.3 664.9,306 665,307.7 665.1,302 665.2,298.1 665.3,306.5 665.4,302.3 665.6,305.5 665.7,297 665.8,299.2 665.9,300.3 666,301.2 666.1,303.7 666.2,300.4 666.3,302.7 666.5,303.3 666.6,303.9 666.7,300.4 666.8,302.7 666.9,297.6 667,306.5 667.1,298.4 667.2,298.4 667.4,296.2 667.5,300.5 667.6,304.2 667.7,302.4 667.8,296.1 667.9,300.3 668,301.5 668.1,301 668.3,299.3 668.4,299.7 668.5,303.6 668.6,300.6 668.7,295.7 668.8,294.3 668.9,298.9 669,300 669.2,294.3 669.3,298.8 669.4,301.7 669.5,298.4 669.6,294.3 669.7,293.2 669.8,299.2 669.9,296.1 670.1,298.6 670.2,294.1 670.3,296.6 670.4,296.5 670.5,300.1 670.6,298.1 670.7,298 670.8,307.7 671,294.2 671.1,296.7 671.2,297.2 671.3,297.6 671.4,296.3 671.5,295.6 671.6,300.2 671.7,295.8 671.9,295.7 672,295.8 672.1,300.3 672.2,294 672.3,299.4 672.4,294.4 672.5,292.9 672.7,292.6 672.8,296.1 672.9,296.5 673,296.4 673.1,293.5 673.2,296.4 673.3,295.9 673.4,301.6 673.6,296.5 673.7,296.1 673.8,295.2 673.9,289.7 674,297.3 674.1,297 674.2,291 674.3,295.6 674.5,293 674.6,294.6 674.7,292.1 674.8,294.3 674.9,289 675,287.1 675.1,294.4 675.2,292 675.4,288.2 675.5,291.5 675.6,293.7 675.7,292.9 675.8,287.8 675.9,293.1 676,289.2 676.1,288.6 676.3,291.5 676.4,287.7 676.5,287.2 676.6,286 676.7,286.1 676.8,293.2 676.9,285.8 677,286 677.2,285.2 677.3,290.5 677.4,286.6 677.5,286.5 677.6,290.9 677.7,283.4 677.8,289.4 677.9,289.9 678.1,285.5 678.2,288.3 678.3,285.2 678.4,286.9 678.5,285.1 678.6,283.3 678.7,293.3 678.8,282.8 679,282.7 679.1,287.6 679.2,282.3 679.3,286.5 679.4,284.1 679.5,281 679.6,279.2 679.7,281.7 679.9,288.2 680,282.3 680.1,283.8 680.2,284.1 680.3,283.1 680.4,283.9 680.5,277.8 680.6,279.3 680.8,282.3 680.9,279.8 681,279.6 681.1,278.3 681.2,279.7 681.3,281.6 681.4,280.9 681.5,287.5 681.7,285.3 681.8,274.7 681.9,281.2 682,274.9 682.1,274.8 682.2,283.7 682.3,278.9 682.5,271 682.6,281.8 682.7,278 682.8,279.7 682.9,276.6 683,279.5 683.1,278.5 683.2,275.9 683.4,280.4 683.5,276.3 683.6,279.7 683.7,275.8 683.8,276.2 683.9,279.2 684,276.2 684.1,278.6 684.3,278.7 684.4,272.5 684.5,281.2 684.6,273.9 684.7,270.8 684.8,276.9 684.9,271.6 685,271.9 685.2,278.3 685.3,279.3 685.4,272.6 685.5,276 685.6,275.4 685.7,271 685.8,275.2 685.9,278.8 686.1,271.4 686.2,274.6 686.3,277.3 686.4,280.4 686.5,278.9 686.6,272.5 686.7,266.8 686.8,279.6 687,269.5 687.1,278.5 687.2,271.6 687.3,272.9 687.4,268 687.5,269.7 687.6,271.8 687.7,273.2 687.9,270.3 688,265.4 688.1,272.2 688.2,264.4 688.3,272.2 688.4,274 688.5,264.5 688.6,267.8 688.8,260.8 688.9,262.2 689,268 689.1,267.7 689.2,270.2 689.3,271.3 689.4,264.9 689.5,268.1 689.7,268.6 689.8,268.1 689.9,265.6 690,265 690.1,268 690.2,268.8 690.3,268 690.4,262.3 690.6,275 690.7,272.4 690.8,267.7 690.9,268.9 691,265.8 691.1,265.7 691.2,263.9 691.3,272.5 691.5,268.4 691.6,277.4 691.7,267.7 691.8,270.8 691.9,268.3 692,273.4 692.1,270.9 692.3,273.1 692.4,272.5 692.5,273.3 692.6,275.2 692.7,268.9 692.8,271.6 692.9,273.5 693,275.9 693.2,279 693.3,275.2 693.4,273.9 693.5,271.3 693.6,270.6 693.7,270.3 693.8,269 693.9,272.2 694.1,274.2 694.2,277.1 694.3,272.9 694.4,276.7 694.5,277.8 694.6,273.8 694.7,275.1 694.8,273.3 695,278.3 695.1,272.7 695.2,275.4 695.3,277.1 695.4,279.1 695.5,277.5 695.6,281.3 695.7,273 695.9,281.7 696,275.7 696.1,278.5 696.2,279.7 696.3,285.8 696.4,278.5 696.5,275.6 696.6,276.8 696.8,277.8 696.9,281.3 697,284.3 697.1,273.4 697.2,279.1 697.3,284.1 697.4,276.1 697.5,284.2 697.7,277.6 697.8,277.1 697.9,279.4 698,277.3 698.1,284.6 698.2,284.3 698.3,286.6 698.4,280.9 698.6,281.3 698.7,283.7 698.8,283.5 698.9,287.9 699,280.4 699.1,282.4 699.2,281.1 699.3,275.7 699.5,281.9 699.6,280.6 699.7,285.2 699.8,279.9 699.9,281.7 700,282.2 700.1,277.5 700.2,286.6 700.4,281.6 700.5,282.1 700.6,278.8 700.7,289.3 700.8,284.2 700.9,277.4 701,285.5 701.1,285.7 701.3,279.1 701.4,277.1 701.5,284.5 701.6,287.1 701.7,286.9 701.8,286.5 701.9,288 702.1,288 702.2,285.2 702.3,285.7 702.4,284.5 702.5,286.1 702.6,289.9 702.7,284.2 702.8,285.8 703,288.5 703.1,287.7 703.2,286 703.3,286.9 703.4,287.7 703.5,285.1 703.6,282.9 703.7,288.7 703.9,288 704,291.4 704.1,288.7 704.2,286.9 704.3,285.9 704.4,288.1 704.5,289 704.6,291.1 704.8,290 704.9,292.5 705,289 705.1,289.4 705.2,300 705.3,288.8 705.4,290.6 705.5,288.3 705.7,291.7 705.8,288.9 705.9,285.8 706,290.1 706.1,288.4 706.2,292.9 706.3,292.2 706.4,297 706.6,291.9 706.7,295 706.8,298.3 706.9,298.1 707,294.6 707.1,291.9 707.2,291.1 707.3,304.5 707.5,293.8 707.6,285 707.7,290.5 707.8,292.5 707.9,301.4 708,296 708.1,291.8 708.2,292.7 708.4,292.2 708.5,290.8 708.6,293.5 708.7,291.3 708.8,300 708.9,286.5 709,300.3 709.1,296.2 709.3,289.7 709.4,292.5 709.5,291.5 709.6,296.4 709.7,293.8 709.8,292.6 709.9,298.2 710,295.5 710.2,295.7 710.3,295.9 710.4,297.2 710.5,299 710.6,294 710.7,294.6 710.8,292 710.9,295.7 711.1,297.6 711.2,300.1 711.3,295.5 711.4,296.8 711.5,289.9 711.6,289.1 711.7,291.4 711.9,298.9 712,300.5 712.1,297.1 712.2,299.2 712.3,292.2 712.4,296.3 712.5,297.9 712.6,296.8 712.8,293.1 712.9,299.8 713,295.6 713.1,301.1 713.2,301.8 713.3,299.8 713.4,296.4 713.5,297 713.7,293.9 713.8,301.6 713.9,299.5 714,301.8 714.1,300.3 714.2,299.2 714.3,298.7 714.4,300.4 714.6,294.9 714.7,295.5 714.8,299.2 714.9,299.9 715,299.2 715.1,298.7 715.2,298.8 715.3,303.7 715.5,296.6 715.6,304.6 715.7,298.5 715.8,297.1 715.9,302.4 716,298.8 716.1,301.2 716.2,301.5 716.4,293.6 716.5,296.9 716.6,298.2 716.7,301.1 716.8,298.6 716.9,300.5 717,299.5 717.1,302.8 717.3,300.4 717.4,301.5 717.5,304.6 717.6,295.3 717.7,298.1 717.8,309.1 717.9,305.1 718,303 718.2,303.4 718.3,302.8 718.4,305.6 718.5,303.6 718.6,301 718.7,300 718.8,307.3 718.9,301.4 719.1,304.5 719.2,304.7 719.3,302.6 719.4,303.8 719.5,299.7 719.6,299.8 719.7,302.9 719.8,304 720,296.7 720.1,296 720.2,301 720.3,302.7 720.4,299.3 720.5,298 720.6,304 720.8,297 720.9,303 721,299.2 721.1,304.1 721.2,302.4 721.3,304 721.4,302.6 721.5,299.6 721.7,305.5 721.8,304.9 721.9,301.2 722,304.3 722.1,296.8 722.2,307.4 722.3,295.3 722.4,305.1 722.6,300.1 722.7,298.2 722.8,301.6 722.9,307.5 723,304.3 723.1,303.1 723.2,301.6 723.3,300.4 723.5,307.2 723.6,299 723.7,306.4 723.8,302.9 723.9,308.9 724,306.9 724.1,306.9 724.2,312.3 724.4,300.9 724.5,303.9 724.6,300.8 724.7,313.1 724.8,308.1 724.9,304.3 725,306 725.1,303.8 725.3,306 725.4,305.2 725.5,307.7 725.6,300.3 725.7,305.2 725.8,307.9 725.9,302.2 726,302.9 726.2,303.7 726.3,303.8 726.4,305.7 726.5,304.9 726.6,311.3 726.7,309.4 726.8,308.4 726.9,303.8 727.1,299.6 727.2,305.3 727.3,305.6 727.4,301.4 727.5,306 727.6,302.9 727.7,303.6 727.8,309.1 728,304.1 728.1,311.2 728.2,308.7 728.3,308.3 728.4,309.1 728.5,301 728.6,298.8 728.7,303.2 728.9,300.6 729,309.6 729.1,301.1 729.2,299.4 729.3,300.6 729.4,308.5 729.5,302.3 729.6,306 729.8,299.4 729.9,307.7 730,305.7 730.1,307.6 730.2,304.4 730.3,312.3 730.4,302.5 730.6,303.5 730.7,311.2 730.8,306.2 730.9,307 731,306.1 731.1,303.9 731.2,305.8 731.3,305.4 731.5,306.4 731.6,306.6 731.7,308.4 731.8,312.2 731.9,304.5 732,304.8 732.1,309.2 732.2,300.7 732.4,310.2 732.5,303.6 732.6,305.9 732.7,305.8 732.8,303.2 732.9,303.9 733,306.7 733.1,310 733.3,310.5 733.4,306.2 733.5,301.9 733.6,302.1 733.7,306.8 733.8,312.6 733.9,304.5 734,301.2 734.2,308.8 734.3,309.2 734.4,305.5 734.5,308.6 734.6,309.3 734.7,306.9 734.8,305 734.9,306.6 735.1,305.6 735.2,302.8 735.3,305.5 735.4,300.8 735.5,312.3 735.6,308 735.7,305.8 735.8,308.3 736,306.4 736.1,304.4 736.2,300 736.3,303.2 736.4,304.5 736.5,307.8 736.6,308 736.7,303.7 736.9,304.3 737,306.5 737.1,306 737.2,299.8 737.3,301.5 737.4,304.3 737.5,303.7 737.6,300.4 737.8,303.1 737.9,303.5 738,309 738.1,309.3 738.2,309.9 738.3,310.9 738.4,303.9 738.5,302.8 738.7,306.4 738.8,302.3 738.9,302.2 739,303.7 739.1,308 739.2,298.9 739.3,299.1 739.4,305 739.6,297.2 739.7,302.9 739.8,305.4 739.9,304.2 740,308.6 740.1,303.9 740.2,307.7 740.4,299.2 740.5,301.6 740.6,306.8 740.7,300.7 740.8,307.7 740.9,301.8 741,300.8 741.1,302 741.3,305.6 741.4,300.8 741.5,302.6 741.6,308.6 741.7,297.3 741.8,296.6 741.9,296.8 742,303.6 742.2,303.9 742.3,301.4 742.4,300.1 742.5,307.7 742.6,303.2 742.7,295.7 742.8,305 742.9,303.4 743.1,303.2 743.2,299.5 743.3,301.1 743.4,301.8 743.5,305.4 743.6,298.8 743.7,300.6 743.8,302.6 744,300.4 744.1,298 744.2,304.9 744.3,305.1 744.4,305.2 744.5,302.8 744.6,309.5 744.7,301.9 744.9,296.5 745,300.9 745.1,296.6 745.2,306 745.3,300 745.4,295.3 745.5,294.6 745.6,300.9 745.8,301.8 745.9,298 746,302.8 746.1,300 746.2,303.9 746.3,298.4 746.4,298.4 746.5,293.3 746.7,297 746.8,297.9 746.9,298.1 747,301.6 747.1,297.4 747.2,298 747.3,295.8 747.4,294.1 747.6,303 747.7,295.6 747.8,294.2 747.9,300 748,290.2 748.1,298.2 748.2,288.1 748.3,293.2 748.5,292.4 748.6,294.4 748.7,291.9 748.8,298.1 748.9,302 749,300.6 749.1,292.7 749.2,296.4 749.4,295.8 749.5,292 749.6,297.8 749.7,291.3 749.8,292.5 749.9,292.5 750,291.6 750.2,292.9 750.3,295.4 750.4,289.2 750.5,295.4 750.6,295.9 750.7,294.3 750.8,288.6 750.9,292.6 751.1,283.9 751.2,307.9 751.3,293.3 751.4,292.3 751.5,289.9 751.6,286.4 751.7,291 751.8,293.4 752,287.5 752.1,285.1 752.2,297.6 752.3,290.3 752.4,285.9 752.5,291.8 752.6,294.3 752.7,288 752.9,288.6 753,289.3 753.1,292 753.2,287.3 753.3,290.1 753.4,287.6 753.5,289.5 753.6,286.9 753.8,285 753.9,286.2 754,284.9 754.1,291.1 754.2,285.2 754.3,285.6 754.4,288.2 754.5,289.6 754.7,294.6 754.8,285.5 754.9,286.8 755,292.4 755.1,283.6 755.2,287 755.3,284 755.4,285.4 755.6,282.9 755.7,284 755.8,284.9 755.9,284.7 756,281 756.1,290.4 756.2,283.1 756.3,284.8 756.5,286.2 756.6,278.5 756.7,279.3 756.8,285.3 756.9,285.3 757,279.1 757.1,283.4 757.2,282.2 757.4,287.1 757.5,281.2 757.6,277 757.7,281.7 757.8,280.5 757.9,274.5 758,276.9 758.1,275 758.3,277.3 758.4,275.3 758.5,284 758.6,281.2 758.7,283.6 758.8,271.4 758.9,277.6 759,285.6 759.2,280.3 759.3,281 759.4,286.5 759.5,270.9 759.6,274.7 759.7,275 759.8,282.4 760,278.4 760.1,277.1 760.2,278.7 760.3,281.7 760.4,279.7 760.5,277.9 760.6,276.4 760.7,277.6 760.9,278.3 761,280 761.1,282.9 761.2,278.3 761.3,281.4 761.4,283.3 761.5,275.8 761.6,285.7 761.8,282.6 761.9,278.7 762,284.2 762.1,282.6 762.2,281.4 762.3,279.1 762.4,282.2 762.5,284.5 762.7,281 762.8,282 762.9,282.3 763,279.4 763.1,282.1 763.2,284.6 763.3,282.9 763.4,277.6 763.6,285.9 763.7,284.7 763.8,286.6 763.9,283.2 764,288.3 764.1,283.2 764.2,282.4 764.3,287.4 764.5,287.8 764.6,289.9 764.7,285.3 764.8,289.1 764.9,287.7 765,287.3 765.1,288.2 765.2,283.7 765.4,281.5 765.5,291.3 765.6,289.2 765.7,286.1 765.8,290.3 765.9,288.8 766,286.7 766.1,283.2 766.3,284 766.4,288.7 766.5,287.5 766.6,289.2 766.7,290.1 766.8,292 766.9,294 767,289.8 767.2,285.8 767.3,293.2 767.4,294.9 767.5,289.9 767.6,291.3 767.7,288.7 767.8,299.3 767.9,287 768.1,290.6 768.2,288.4 768.3,289.4 768.4,296.4 768.5,291.3 768.6,286.1 768.7,290.8 768.8,287.8 769,289.9 769.1,292.9 769.2,290.6 769.3,288.4 769.4,287.8 769.5,287.5 769.6,294.8 769.8,289.7 769.9,296.6 770,292.9 770.1,293.3 770.2,290.9 770.3,292 770.4,289.3 770.5,295.2 770.7,290.8 770.8,292.4 770.9,293.7 771,297.6 771.1,292.2 771.2,293.2 771.3,291.9 771.4,294.6 771.6,295.4 771.7,293.5 771.8,293.5 771.9,292.7 772,291.2 772.1,297.2 772.2,289.3 772.3,308.2 772.5,292.8 772.6,298.5 772.7,289.9 772.8,299 772.9,293.1 773,299.6 773.1,300.2 773.2,294.3 773.4,299 773.5,299.3 773.6,289.9 773.7,298.4 773.8,292.7 773.9,303.4 774,300.8 774.1,297.7 774.3,308.3 774.4,296.9 774.5,305 774.6,298 774.7,300.4 774.8,301.8 774.9,298.3 775,299.7 775.2,300.5 775.3,296.7 775.4,304.7 775.5,298.2 775.6,292.4 775.7,298.4 775.8,297 775.9,300.9 776.1,297.8 776.2,301.3 776.3,301.4 776.4,304.4 776.5,303.8 776.6,302.8 776.7,298.2 776.8,300.4 777,300.9 777.1,298.6 777.2,297.8 777.3,295.8 777.4,302 777.5,298.5 777.6,298.1 777.7,303.2 777.9,300 778,303.2 778.1,301.8 778.2,299.2 778.3,305.7 778.4,303.2 778.5,303.1 778.7,300.4 778.8,303 778.9,299.6 779,303.4 779.1,302.4 779.2,299 779.3,299.9 779.4,300.5 779.6,301.1 779.7,298 779.8,296.9 779.9,302.3 780,303.4 780.1,304.4 780.2,295.9 780.3,304 780.5,305.4 780.6,300.6 780.7,298.2 780.8,305.3 780.9,301.9 781,306 781.1,303.7 781.2,296.7 781.4,301.2 781.5,302.5 781.6,301.6 781.7,301 781.8,302.2 781.9,305.6 782,305.6 782.1,295.8 782.3,304.4 782.4,298.4 782.5,304.3 782.6,298.2 782.7,300.1 782.8,302.9 782.9,296.1 783,305.2 783.2,303.1 783.3,305.1 783.4,302.2 783.5,303.6 783.6,305.5 783.7,303.6 783.8,297.8 783.9,308 784.1,306.6 784.2,305.7 784.3,304.3 784.4,299.8 784.5,300.7 784.6,301.5 784.7,304.2 784.8,295.7 785,306.5 785.1,306.7 785.2,303.2 785.3,302.6 785.4,304 785.5,305.9 785.6,307.4 785.7,304.2 785.9,305.6 786,305 786.1,306.8 786.2,299.5 786.3,302.2 786.4,298 786.5,305.3 786.6,303.6 786.8,304.5 786.9,303.8 787,304.7 787.1,304.4 787.2,310 787.3,304.8 787.4,301.9 787.5,310.1 787.7,305.2 787.8,302.4 787.9,300.3 788,304.5 788.1,302.9 788.2,299 788.3,300.4 788.5,305.8 788.6,306.3 788.7,301.4 788.8,303.9 788.9,306.3 789,301.9 789.1,303.7 789.2,305.3 789.4,305.5 789.5,305.5 789.6,309.4 789.7,299.5 789.8,300.6 789.9,300.3 790,305.4 790.1,304.6 790.3,303.2 790.4,302.5 790.5,310.6 790.6,303.9 790.7,305.3 790.8,305.2 790.9,307 791,301.7 791.2,303.3 791.3,305 791.4,300.6 791.5,305.1 791.6,307.1 791.7,305.4 791.8,306 791.9,304.7 792.1,302.3 792.2,305.2 792.3,305 792.4,306.6 792.5,303.9 792.6,301.9 792.7,304.3 792.8,308.7 793,308.2 793.1,309.8 793.2,301.2 793.3,303.4 793.4,304.4 793.5,307.7 793.6,303.5 793.7,305 793.9,303.6 794,307.2 794.1,308 794.2,299.8 794.3,307.5 794.4,304.6 794.5,300.4 794.6,310.1 794.8,302.4 794.9,304.3 795,304.9 795.1,303.7 795.2,308.1 795.3,311.3 795.4,298.7 795.5,305.3 795.7,301.7 795.8,305.5 795.9,303.5 796,303 796.1,302.2 796.2,299.5 796.3,302.8 796.4,300.5 796.6,305.2 796.7,305.6 796.8,304 796.9,303 797,302.6 797.1,305.8 797.2,301.7 797.3,304 797.5,298.1 797.6,307.5 797.7,303.1 797.8,302.7 797.9,308.2 798,307.5 798.1,303.7 798.3,305 798.4,306.7 798.5,303.7 798.6,304.7 798.7,305.9 798.8,309.5 798.9,304.5 799,298.6 799.2,301.3 799.3,298.2 799.4,308 799.5,300.7 799.6,306 799.7,305.3 799.8,308.3 799.9,304.7 800.1,303.7 800.2,303 800.3,304.3 800.4,306 800.5,302.6 800.6,305.8 800.7,305.5 800.8,312 801,306.7 801.1,300.3 801.2,302.2 801.3,303.3 801.4,296.2 801.5,302.1 801.6,307.5 801.7,304.3 801.9,303.9 802,298.8 802.1,306.4 802.2,302.3 802.3,300.6 802.4,306.1 802.5,303.3 802.6,309.7 802.8,303.3 802.9,310.3 803,304.7 803.1,298.3 803.2,302.3 803.3,303.3 803.4,309.6 803.5,296.9 803.7,301.8 803.8,300.3 803.9,304.8 804,304.7 804.1,306.6 804.2,300.9 804.3,305.5 804.4,300.4 804.6,301.4 804.7,303.7 804.8,305 804.9,312.1 805,305.1 805.1,302.4 805.2,301.3 805.3,312.7 805.5,310.6 805.6,302.8 805.7,306.4 805.8,303.9 805.9,307.6 806,301.4 806.1,308.8 806.2,304.9 806.4,304.8 806.5,302.5 806.6,305.6 806.7,301.7 806.8,308.2 806.9,305.7 807,300.8 807.1,300.8 807.3,303.3 807.4,296.8 807.5,306.4 807.6,300.4 807.7,303.3 807.8,305.5 807.9,304.4 808.1,299 808.2,304.2 808.3,303.5 808.4,304.4 808.5,304.8 808.6,299.4 808.7,295.5 808.8,298.2 809,300.7 809.1,299.9 809.2,303.2 809.3,304.3 809.4,305.6 809.5,297.6 809.6,303 809.7,304.1 809.9,303.8 810,301.2 810.1,303.4 810.2,301.7 810.3,304.8 810.4,297.5 810.5,305.4 810.6,300.6 810.8,303.6 810.9,302.8 811,296.5 811.1,299.5 811.2,302.5 811.3,299.8 811.4,301.3 811.5,297.8 811.7,302.6 811.8,304.8 811.9,301.7 812,300.3 812.1,307.8 812.2,302.8 812.3,308.1 812.4,297.8 812.6,302.6 812.7,301.9 812.8,296.4 812.9,303 813,298 813.1,298.4 813.2,307.5 813.3,302.5 813.5,303.7 813.6,297.9 813.7,297.5 813.8,304 813.9,302.3 814,300.5 814.1,301.3 814.2,297.9 814.4,297.1 814.5,298.2 814.6,296.7 814.7,297.1 814.8,300.1 814.9,297.4 815,302.1 815.1,293.6 815.3,297 815.4,296.6 815.5,300.6 815.6,300.8 815.7,298.7 815.8,296.4 815.9,298.4 816,295.6 816.2,301.9 816.3,298 816.4,297.6 816.5,302.1 816.6,293.8 816.7,301.9 816.8,296.3 816.9,299.7 817.1,298.5 817.2,301.4 817.3,300.6 817.4,296.7 817.5,299.4 817.6,299.8 817.7,296 817.9,296.5 818,298.2 818.1,297.9 818.2,293.3 818.3,299 818.4,297.3 818.5,297.1 818.6,302.6 818.8,304.2 818.9,297.9 819,295.6 819.1,297.6 819.2,307.2 819.3,300.1 819.4,295.6 819.5,298.9 819.7,302.9 819.8,295.9 819.9,297.2 820,296.7 820.1,294.6 820.2,293.7 820.3,296 820.4,298.2 820.6,304.1 820.7,296.7 820.8,298 820.9,293.5 821,293.6 821.1,296 821.2,293.2 821.3,297.6 821.5,297.4 821.6,299.8 821.7,298.5 821.8,296.5 821.9,293.9 822,299.3 822.1,294.6 822.2,289.9 822.4,301 822.5,297.7 822.6,296.8 822.7,293.7 822.8,287.5 822.9,293 823,296.8 823.1,299.2 823.3,296.8 823.4,296.7 823.5,295.8 823.6,299.2 823.7,291.8 823.8,298.6 823.9,294.2 824,295.6 824.2,299.6 824.3,296 824.4,296.1 824.5,296.7 824.6,293.6 824.7,297.5 824.8,288.2 824.9,292.5 825.1,298.7 825.2,303.4 825.3,292 825.4,295 825.5,295.5 825.6,298.6 825.7,300 825.8,301.3 826,287.7 826.1,290.6 826.2,297.1 826.3,289.7 826.4,301 826.5,293.2 826.6,293.2 826.7,297.9 826.9,296.7 827,298.4 827.1,295.1 827.2,291.2 827.3,292.1 827.4,293.9 827.5,291.7 827.7,300.5 827.8,288.9 827.9,295.2 828,299 828.1,296.1 828.2,296.9 828.3,294.6 828.4,293.9 828.6,302 828.7,291 828.8,289.5 828.9,297.9 829,290.2 829.1,288.7 829.2,291.6 829.3,286 829.5,298.9 829.6,292.4 829.7,297.7 829.8,287.3 829.9,297.5 830,298.3 830.1,296.9 830.2,292.5 830.4,294.3 830.5,294 830.6,292.5 830.7,289 830.8,296.5 830.9,296 831,293.2 831.1,294.5 831.3,294.2 831.4,298.7 831.5,293.2 831.6,298 831.7,295.4 831.8,294.8 831.9,294.8 832,289.4 832.2,288.9 832.3,290.6 832.4,289 832.5,294.8 832.6,289.5 832.7,294 832.8,293.1 832.9,295.7 833.1,297.9 833.2,295.6 833.3,294.2 833.4,292.6 833.5,300.4 833.6,296.3 833.7,297.2 833.8,296 834,295.8 834.1,297.1 834.2,293.4 834.3,292.9 834.4,296 834.5,298.9 834.6,292.5 834.7,290.8 834.9,294.6 835,294.5 835.1,300.4 835.2,290.5 835.3,296.6 835.4,291 835.5,295 835.6,293.6 835.8,293.7 835.9,298.6 836,284.6 836.1,297.8 836.2,292.7 836.3,295.5 836.4,293.7 836.6,288.7 836.7,298.6 836.8,293.3 836.9,291.3 837,292.4 837.1,291.5 837.2,295.1 837.3,297.8 837.5,296.7 837.6,293.9 837.7,290.3 837.8,292.4 837.9,287.6 838,292.2 838.1,291.9 838.2,291.9 838.4,297.8 838.5,290.7 838.6,295.8 838.7,293.6 838.8,285.1 838.9,296.2 839,291.9 839.1,291.4 839.3,288.3 839.4,292.2 839.5,293.9 839.6,286 839.7,298.3 839.8,295.3 839.9,287.5 840,290.4 840.2,294.4 840.3,294.8 840.4,292.7 840.5,283.8 840.6,290.4 840.7,295.1 840.8,295 840.9,293.8 841.1,287.2 841.2,290.9 841.3,287.9 841.4,291.2 841.5,285.4 841.6,290.4 841.7,290.8 841.8,294.8 842,293 842.1,290.5 842.2,293.3 842.3,284.1 842.4,291.8 842.5,294.2 842.6,288.8 842.7,293.5 842.9,290.7 843,292.3 843.1,294.3 843.2,287.8 843.3,291.9 843.4,288.8 843.5,293.3 843.6,296.7 843.8,296.2 843.9,294 844,293 844.1,292.3 844.2,291 844.3,296.5 844.4,292 844.5,296.5 844.7,294.9 844.8,284.9 844.9,289 845,294.1 845.1,287.5 845.2,286.8 845.3,290.4 845.4,288.6 845.6,294 845.7,293.7 845.8,296 845.9,291.6 846,297.3 846.1,298.1 846.2,292.2 846.4,295.2 846.5,292.6 846.6,288.1 846.7,296.8 846.8,286.8 846.9,296 847,296.8 847.1,293.3 847.3,290.9 847.4,296.3 847.5,296.4 847.6,295.6 847.7,296.5 847.8,293.8 847.9,296.6 848,295.2 848.2,293.4 848.3,295.8 848.4,291.1 848.5,296.8 848.6,297.1 848.7,288.5 848.8,290.2 848.9,294.7 849.1,292.4 849.2,294 849.3,295.9 849.4,293 849.5,294.2 849.6,291.3 849.7,301 849.8,292.8 850,294.9 850.1,297.6 850.2,296.8 850.3,296.8 850.4,299.7 850.5,303.2 850.6,293.3 850.7,300.5 850.9,299.5 851,305.6 851.1,297.7 851.2,294.8 851.3,296.2 851.4,296 851.5,299.6 851.6,294.5 851.8,302.6 851.9,293.5 852,295.7 852.1,297.6 852.2,291.9 852.3,297.8 852.4,293.4 852.5,296.3 852.7,296.7 852.8,293.7 852.9,295.5 853,296.9 853.1,297.3 853.2,296.3 853.3,296.8 853.4,298.1 853.6,300.4 853.7,306 853.8,297.6 853.9,298.1 854,293.6 854.1,296 854.2,290.4 854.3,292.2 854.5,297.9 854.6,300.2 854.7,295.2 854.8,299.6 854.9,298.6 855,293.4 855.1,296.2 855.2,294.6 855.4,302.2 855.5,298 855.6,294.7 855.7,302.2 855.8,297.6 855.9,297.1 856,305.5 856.2,293.5 856.3,300.7 856.4,299 856.5,293.4 856.6,304.2 856.7,297.3 856.8,300.1 856.9,298.7 857.1,301.4 857.2,294.7 857.3,302.4 857.4,297.9 857.5,296.1 857.6,299.4 857.7,300 857.8,300.1 858,296.2 858.1,298 858.2,305.3 858.3,302.9 858.4,299.1 858.5,298 858.6,298.3 858.7,295.3 858.9,305.7 859,292.2 859.1,300.5 859.2,303.5 859.3,305.5 859.4,297.5 859.5,298.5 859.6,301 859.8,300.5 859.9,299.9 860,301.8 860.1,297 860.2,298.7 860.3,301.1 860.4,305.8 860.5,296.6 860.7,306.9 860.8,304.9 860.9,297 861,299.5 861.1,307.4 861.2,306.4 861.3,307.3 861.4,305.2 861.6,301.9 861.7,293.4 861.8,292.3 861.9,301.7 862,299.2 862.1,299 862.2,302.2 862.3,306.4 862.5,298.6 862.6,302.5 862.7,300.7 862.8,299.9 862.9,304.7 863,297.1 863.1,305.4 863.2,301.7 863.4,303.8 863.5,297 863.6,299.5 863.7,304.4 863.8,300.9 863.9,304.1 864,306.7 864.1,303.9 864.3,301.1 864.4,298.9 864.5,299.8 864.6,305.3 864.7,304.2 864.8,303.1 864.9,301.5 865,303.8 865.2,306.5 865.3,308.4 865.4,300 865.5,300.4 865.6,308.7 865.7,299.3 865.8,304.1 866,302.6 866.1,303.9 866.2,305.6 866.3,306.6 866.4,309.6 866.5,303.4 866.6,303 866.7,301.8 866.9,302.6 867,304.2 867.1,301.1 867.2,307.9 867.3,303.6 867.4,303.2 867.5,305.3 867.6,299.6 867.8,303.7 867.9,300.9 868,302.4 868.1,305.8 868.2,305.9 868.3,301.9 868.4,305.4 868.5,305.9 868.7,308.8 868.8,306.1 868.9,306.4 869,305.1 869.1,307.1 869.2,304.1 869.3,306.4 869.4,310.9 869.6,307.6 869.7,309.1 869.8,310.2 869.9,307.1 870,303.5 870.1,309.9 870.2,312.7 870.3,307 870.5,297.3 870.6,308.5 870.7,305.9 870.8,308.1 870.9,304.2 871,302.5 871.1,304.6 871.2,303.4 871.4,313 871.5,306.5 871.6,313.2 871.7,304.4 871.8,309.3 871.9,306.7 872,311 872.1,306.9 872.3,307.3 872.4,309.5 872.5,310.3 872.6,311.5 872.7,309.1 872.8,306.7 872.9,308.5 873,307.6 873.2,304.2 873.3,312.8 873.4,307.4 873.5,305.8 873.6,306.8 873.7,307.3 873.8,308.3 873.9,302.7 874.1,314.6 874.2,310 874.3,307 874.4,303.8 874.5,304.6 874.6,308.9 874.7,306.5 874.8,307.6 875,309 875.1,307.3 875.2,307.4 875.3,312.7 875.4,304.1 875.5,310.7 875.6,305.3 875.8,303.2 875.9,303.2 876,309 876.1,310.5 876.2,314.9 876.3,313 876.4,302.5 876.5,315 876.7,315 876.8,312.6 876.9,314 877,316.1 877.1,309 877.2,309.5 877.3,315.3 877.4,307.6 877.6,314.8 877.7,307.2 877.8,310.1 877.9,312.9 878,315.8 878.1,311.9 878.2,311.2 878.3,311.3 878.5,312.8 878.6,311.6 878.7,308.3 878.8,313.8 878.9,311.6 879,309.6 879.1,311.1 879.2,308.4 879.4,306.3 879.5,312.2 879.6,310.4 879.7,320.2 879.8,312.2 879.9,309.1 880,314.7 880.1,307.1 880.3,317.1 880.4,307.1 880.5,312.9 880.6,311.5 880.7,312.8 880.8,319.5 880.9,314.5 881,315.6 881.2,313 881.3,308.5 881.4,310.2 881.5,307.3 881.6,313.4 881.7,312.6 881.8,312.5 881.9,311.1 882.1,310.1 882.2,306.1 882.3,309.4 882.4,311.1 882.5,307.4 882.6,314.1 882.7,315.7 882.8,309.6 883,311.2 883.1,311.4 883.2,308.9 883.3,312.8 883.4,312.1 883.5,310.6 883.6,309.8 883.7,308.8 883.9,311.5 884,311.1 884.1,319.4 884.2,308.1 884.3,316.8 884.4,312.1 884.5,304.1 884.6,313 884.8,313.2 884.9,307 885,313.8 885.1,312.6 885.2,311.8 885.3,309.8 885.4,309.7 885.6,312.5 885.7,308.7 885.8,315 885.9,310.1 886,314.2 886.1,310.1 886.2,314.3 886.3,318.7 886.5,314.8 886.6,315.8 886.7,316 886.8,310.6 886.9,313.2 887,313.7 887.1,312.9 887.2,305.9 887.4,315.7 887.5,313.6 887.6,312 887.7,315.4 887.8,312.7 887.9,311.1 888,315.4 888.1,315.2 888.3,316.2 888.4,313.1 888.5,311.6 888.6,303.9 888.7,320 888.8,311.9 888.9,305 889,314.6 889.2,309.4 889.3,312.1 889.4,317.2 889.5,311.6 889.6,313.1 889.7,312.6 889.8,317.5 889.9,310.7 890.1,320.4 890.2,313.5 890.3,309 890.4,311.4 890.5,314.1 890.6,313.8 890.7,314.4 890.8,304.7 891,313.3 891.1,313.2 891.2,323 891.3,314.6 891.4,311.3 891.5,315.1 891.6,315.7 891.7,312.5 891.9,314.3 892,312.7 892.1,314.8 892.2,313.9 892.3,315.6 892.4,309.5 892.5,313.1 892.6,314.4 892.8,312.5 892.9,313.6 893,318.3 893.1,314 893.2,308.4 893.3,311.9 893.4,309.9 893.5,315.6 893.7,318.2 893.8,315.7 893.9,309.4 894,316.7 894.1,316.1 894.2,310.2 894.3,314.5 894.5,314.3 894.6,312.5 894.7,313.5 894.8,314.7 894.9,313 895,323.3 895.1,313.9 895.2,314.6 895.4,317.1 895.5,314.5 895.6,317.4 895.7,311.6 895.8,318.3 895.9,311 896,310.8 896.1,310.8 896.3,311.8 896.4,316.2 896.5,311.1 896.6,320.5 896.7,306.9 896.8,313.2 896.9,312.3 897,317.9 897.2,310.8 897.3,310.5 897.4,319 897.5,315.9 897.6,315.7 897.7,316.3 897.8,310 897.9,307.6 898.1,317.6 898.2,312.4 898.3,315.2 898.4,310.1 898.5,321.9 898.6,315.7 898.7,310.7 898.8,316.8 899,308.7 899.1,316.1 899.2,311 899.3,312.7 899.4,313.3 899.5,316.9 899.6,315.1 899.7,311 899.9,314.6 900,316.7 900.1,304.4 900.2,319.5 900.3,315.4 900.4,313 900.5,318 900.6,314.8 900.8,316.1 900.9,319.3 901,313.4 901.1,318.3 901.2,317.1 901.3,311 901.4,318.3 901.5,313 901.7,311.2 901.8,311.8 901.9,310.3 902,316.4 902.1,319.3 902.2,314.5 902.3,313.6 902.4,316.6 902.6,318 902.7,312.3 902.8,318.3 902.9,313.7 903,316.5 903.1,320.3 903.2,310.1 903.3,313.2 903.5,313.4 903.6,319.5 903.7,318.4 903.8,314.3 903.9,317.5 904,310.1 904.1,321.5 904.3,315.4 904.4,321.1 904.5,320.1 904.6,319.3 904.7,313.6 904.8,317.5 904.9,317.4 905,318.2 905.2,320 905.3,318.2 905.4,318.5 905.5,316.4 905.6,316.7 905.7,322.9 905.8,317.5 905.9,311.8 906.1,317 906.2,315.8 906.3,317.8 906.4,317.8 906.5,315.9 906.6,319.9 906.7,316.2 906.8,320.9 907,319.1 907.1,320.6 907.2,311.7 907.3,312.7 907.4,320.9 907.5,313.8 907.6,317.1 907.7,312.3 907.9,317.6 908,316.8 908.1,316.9 908.2,312.1 908.3,322 908.4,313.6 908.5,315.7 908.6,317.6 908.8,316.8 908.9,313.2 909,313.5 909.1,310.9 909.2,318.1 909.3,322 909.4,317.9 909.5,316.8 909.7,317.5 909.8,312.4 909.9,309.2 910,315.1 910.1,321.7 910.2,313.1 910.3,318.3 910.4,314.1 910.6,313.7 910.7,315.2 910.8,316.6 910.9,315.5 911,314 911.1,314.4 911.2,310 911.3,325.7 911.5,318.9 911.6,323.2 911.7,313.9 911.8,315.8 911.9,313.9 912,317.3 912.1,317.2 912.2,314.5 912.4,316.7 912.5,317.8 912.6,315.7 912.7,311.5 912.8,323.1 912.9,311.7 913,315.8 913.1,319.3 913.3,314.6 913.4,316.6 913.5,320.5 913.6,319.2 913.7,313.7 913.8,319.5 913.9,315.8 914.1,314.6 914.2,317 914.3,314.8 914.4,318.7 914.5,313.5 914.6,318.4 914.7,319 914.8,317.2 915,317 915.1,319.5 915.2,314.4 915.3,317.3 915.4,318.5 915.5,321.6 915.6,321 915.7,317.8 915.9,320.1 916,317.4 916.1,315.3 916.2,313.6 916.3,312.5 916.4,314.6 916.5,319.3 916.6,315.4 916.8,318.7 916.9,315.4 917,326.2 917.1,310.9 917.2,315.9 917.3,318.1 917.4,321.4 917.5,316.3 917.7,318.8 917.8,316.5 917.9,319.4 918,318.9 918.1,315.4 918.2,312.7 918.3,321.2 918.4,317.9 918.6,316.1 918.7,317.8 918.8,318.7 918.9,310.7 919,320 919.1,316.3 919.2,318.9 919.3,317.7 919.5,324.5 919.6,314.7 919.7,323.9 919.8,320.5 919.9,312.4 920,318.4 920.1,319.4 920.2,320.1 920.4,314.3 920.5,317.5 920.6,318.5 920.7,321.7 920.8,320.4 920.9,316.6 921,317.7 921.1,326.6 921.3,320.4 921.4,317 921.5,309.4 921.6,320.5 921.7,329.4 921.8,315.3 921.9,319.2 922,321.8 922.2,313.4 922.3,318.4 922.4,320.6 922.5,321.7 922.6,318 922.7,324.1 922.8,323.1 922.9,314.6 923.1,321.5 923.2,313.3 923.3,316.6 923.4,318.2 923.5,316.5 923.6,319.4 923.7,317.8 923.9,312.5 924,319.3 924.1,315 924.2,320.3 924.3,317.6 924.4,314.5 924.5,321.2 924.6,316.5 924.8,324.1 924.9,321 925,318.8 925.1,314.7 925.2,315.2 925.3,320.3 925.4,317.8 925.5,316.8 925.7,322.2 925.8,316.1 925.9,313.2 926,313.5 926.1,319.2 926.2,318.6 926.3,323.4 926.4,318.9 926.6,318.1 926.7,315.2 926.8,317.1 926.9,320.2 927,314.8 927.1,314.6 927.2,320.5 927.3,318 927.5,317.6 927.6,322.3 927.7,316.8 927.8,315.2 927.9,311.2 928,317.6 928.1,318 928.2,317.7 928.4,315.3 928.5,314.7 928.6,319.8 928.7,316.6 928.8,315.1 928.9,323.3 929,312.9 929.1,317.8 929.3,314.4 929.4,317.2 929.5,317.9 929.6,317.3 929.7,318.4 929.8,314.4 929.9,317.9 930,328.2 930.2,316 930.3,318.6 930.4,314.7 930.5,320 930.6,312.3 930.7,316.6 930.8,317.2 930.9,312.9 931.1,318.1 931.2,324.6 931.3,314.5 931.4,314.6 931.5,320 931.6,309.3 931.7,315.1 931.8,320.8 932,317.4 932.1,313.6 932.2,316.2 932.3,314.2 932.4,309.5 932.5,313.9 932.6,310.6 932.7,314.7 932.9,318.8 933,312.1 933.1,318.9 933.2,313.8 933.3,314.7 933.4,319.3 933.5,318.9 933.7,317.2 933.8,315.4 933.9,312.6 934,316.4 934.1,310.8 934.2,313.9 934.3,318.6 934.4,318.5 934.6,316.3 934.7,318.2 934.8,324.1 934.9,314.1 935,315.7 935.1,313.5 935.2,318.6 935.3,319.1 935.5,317.4 935.6,322 935.7,317.8 935.8,316.2 935.9,317 936,318.1 936.1,310.1 936.2,319.7 936.4,317.2 936.5,317.9 936.6,319.1 936.7,310.9 936.8,316.4 936.9,312.4 937,319.8 937.1,310.5 937.3,309.3 937.4,321.8 937.5,316.3 937.6,316.6 937.7,314.5 937.8,320.2 937.9,314.8 938,314 938.2,318 938.3,328.4 938.4,318.3 938.5,317.4 938.6,313.8 938.7,318.1 938.8,319.7 938.9,314.2 939.1,315 939.2,313.8 939.3,315.9 939.4,312.8 939.5,314.5 939.6,321.6 939.7,315.4 939.8,313.7 940,315.9 940.1,312.8 940.2,318.1 940.3,313.8 940.4,319.8 940.5,316 940.6,317.7 940.7,319.1 940.9,320 941,315.3 941.1,314.6 941.2,317.9 941.3,319.7 941.4,318.6 941.5,314.3 941.6,319.6 941.8,312.4 941.9,321 942,315 942.1,317.4 942.2,308.7 942.3,317.2 942.4,318.2 942.5,320.2 942.7,313 942.8,314.9 942.9,317.2 943,317.1 943.1,319.5 943.2,315.7 943.3,312.1 943.5,321.6 943.6,313.1 943.7,317.4 943.8,318.2 943.9,316.7 944,315.9 944.1,309.6 944.2,315 944.4,320.1 944.5,315.9 944.6,315.9 944.7,314.5 944.8,315.5 944.9,315.9 945,312.4 945.1,324.9 945.3,312.9 945.4,317.3 945.5,318.8 945.6,313.1 945.7,315 945.8,311.7 945.9,311 946,314 946.2,315.3 946.3,314.3 946.4,313.7 946.5,316.4 946.6,310.5 946.7,309.8 946.8,315.4 946.9,316.1 947.1,316.9 947.2,320.6 947.3,317.5 947.4,317 947.5,315.4 947.6,318.5 947.7,321.2 947.8,309.7 948,310 948.1,321.9 948.2,315.7 948.3,312.7 948.4,318.9 948.5,319.7 948.6,315.2 948.7,316 948.9,317.2 949,310.2 949.1,310.6 949.2,313.2 949.3,315.4 949.4,316.2 949.5,310.3 949.6,314.1 949.8,310.6 949.9,311.3 950,317 950.1,312.8 950.2,309.3 950.3,311.9 950.4,318 950.5,315.9 950.7,316.1 950.8,314.7 950.9,314.9 951,316.1 951.1,312.4 951.2,310.8 951.3,316.8 951.4,319.6 951.6,313.9 951.7,320.6 951.8,312.6 951.9,317.1 952,314.1 952.1,317.8 952.2,311.6 952.4,309.8 952.5,316 952.6,323 952.7,316.5 952.8,316.6 952.9,314.4 953,314.9 953.1,313.5 953.3,309.6 953.4,316.7 953.5,316.1 953.6,313.6 953.7,320.7 953.8,312.6 953.9,316.9 954,319.4 954.2,317.6 954.3,320.1 954.4,312.4 954.5,311.1 954.6,313.6 954.7,324.4 954.8,313.3 954.9,315.2 955.1,307.8 955.2,321.4 955.3,310 955.4,312.6 955.5,313.7 955.6,315.3 955.7,316.7 955.8,318 956,319.8 956.1,308.7 956.2,308.9 956.3,318.1 956.4,313.9 956.5,320.9 956.6,315.9 956.7,320.5 956.9,311.4 957,318.1 957.1,314.2 957.2,315.7 957.3,314.9 957.4,317.4 957.5,313.9 957.6,314.8 957.8,320.8 957.9,311.3 958,308.2 958.1,317.7 958.2,311.5 958.3,318 958.4,316.7 958.5,309.6 958.7,314.4 958.8,310.3 958.9,314.1 959,311.9 959.1,315.4 959.2,310.6 959.3,309.5 959.4,312.9 959.6,316.8 959.7,316.2 959.8,317.9 959.9,313.2 960,313.4 960.1,317.2 960.2,312.2 960.3,316.8 960.5,309.4 960.6,312.5 960.7,310.1 960.8,317.2 960.9,318.1 961,320.7 961.1,313 961.2,318.5 961.4,310.9 961.5,320.8 961.6,312.7 961.7,319 961.8,316.9 961.9,314.5 962,312.8 962.2,319 962.3,314 962.4,317.6 962.5,312.6 962.6,315.8 962.7,318.3 962.8,313.7 962.9,311.5 963.1,315.8 963.2,311.3 963.3,318.2 963.4,314.2 963.5,318.5 963.6,314.4 963.7,317.9 963.8,315 964,313.2 964.1,318.1 964.2,320.5 964.3,315.7 964.4,313.5 964.5,314.4 964.6,317.9 964.7,312.6 964.9,316 965,312.8 965.1,319 965.2,313.8 965.3,311.5 965.4,315.7 965.5,316.1 965.6,313.3 965.8,313.6 965.9,314.1 966,315.6 966.1,320 966.2,315.2 966.3,324.4 966.4,315 966.5,322.4 966.7,310.8 966.8,309.4 966.9,313.9 967,315.3 967.1,316.2 967.2,312.5 967.3,313.2 967.4,317.4 967.6,311.6 967.7,313.1 967.8,313.6 967.9,316.4 968,315.3 968.1,317.5 968.2,316.2 968.3,317.3 968.5,311.7 968.6,317.8 968.7,314.7 968.8,314.4 968.9,314.4 969,325 969.1,311.5 969.2,315.1 969.4,317.1 969.5,315.3 969.6,317.5 969.7,317.3 969.8,315.4 969.9,318.1 970,315.2 970.1,320.3 970.3,317.6 970.4,308.8 970.5,315.9 970.6,314.5 970.7,315.2 970.8,318.4 970.9,313.6 971,311.4 971.2,315.9 971.3,318.3 971.4,314 971.5,322.3 971.6,315.2 971.7,316.3 971.8,314.7 972,320.4 972.1,317.1 972.2,318.9 972.3,317.5 972.4,314 972.5,322.1 972.6,317.7 972.7,312.3 972.9,315.6 973,322.1 973.1,319.1 973.2,314.7 973.3,314.6 973.4,315.3 973.5,315.2 973.6,318.8 973.8,316.3 973.9,319.7 974,318.6 974.1,318.9 974.2,318.7 974.3,317.2 974.4,316.9 974.5,318.6 974.7,316.6 974.8,317.6 974.9,310 975,313.2 975.1,320 975.2,313.6 975.3,320.6 975.4,311.9 975.6,315.4 975.7,319.4 975.8,323.1 975.9,317.6 976,320.6 976.1,313.1 976.2,322.9 976.3,317.2 976.5,315 976.6,315.5 976.7,315.8 976.8,317.3 976.9,314.4 977,319.4 977.1,314.9 977.2,320.3 977.4,323.6 977.5,325.2 977.6,317.3 977.7,314.9 977.8,312.6 977.9,322.2 978,319.1 978.1,319.7 978.3,313.1 978.4,319.4 978.5,314.6 978.6,318.4 978.7,321.2 978.8,316.5 978.9,320.3 979,314.6 979.2,314.4 979.3,312.8 979.4,320 979.5,312.1 979.6,314 979.7,322.4 979.8,310.2 979.9,311.8 980.1,319.7 980.2,316 980.3,321.1 980.4,317.7 980.5,316.5 980.6,315.2 980.7,319.6 980.8,317.2 981,319.9 981.1,315.9 981.2,315.1 981.3,316.9 981.4,313.6 981.5,314.8 981.6,316 981.8,313.6 981.9,321 982,317.3 982.1,322.6 982.2,317.3 982.3,318.7 982.4,314.7 982.5,324.3 982.7,319.2 982.8,317.6 982.9,317.7 983,315.7 983.1,320 983.2,321.9 983.3,322.2 983.4,313.8 983.6,321.2 983.7,325.2 983.8,320.8 983.9,314.7 984,319.1 984.1,313.7 984.2,319.6 984.3,320.3 984.5,315.1 984.6,314.5 984.7,321.1 984.8,318.6 984.9,317.8 985,323.1 985.1,315.4 985.2,316.3 985.4,316 985.5,321.8 985.6,317 985.7,316.3 985.8,314.5 985.9,319.2 986,315.5 986.1,311.6 986.3,319 986.4,318.9 986.5,318.7 986.6,322.2 986.7,318.8 986.8,313.4 986.9,320.5 987,318.3 987.2,314.1 987.3,316 987.4,317.1 987.5,318.8 987.6,318.1 987.7,317.8 987.8,315.7 987.9,317.6 988.1,315 988.2,323.5 988.3,315.3 988.4,319.5 988.5,317.8 988.6,319.2 988.7,315.9 988.8,318.3 989,316 989.1,326.3 989.2,317.4 989.3,314.2 989.4,314.6 989.5,319.1 989.6,320.7 989.7,319.1 989.9,318.4 990,318 990.1,314.3 990.2,316.3 990.3,313.6 990.4,311.4 990.5,321.9 990.6,317.1 990.8,319.5 990.9,323 991,321.4 991.1,319.7 991.2,313.1 991.3,317.9 991.4,318.7 991.6,318.3 991.7,320.5 991.8,317.7 991.9,318.5 992,323.2 992.1,319.9 992.2,308 992.3,322.6 992.5,318.6 992.6,316.3 992.7,321.3 992.8,318 992.9,315.7 993,323.2 993.1,320.6 993.2,319.6 993.4,319.2 993.5,319.9 993.6,317.6 993.7,318.4 993.8,317.4 993.9,318.7 994,315.3 994.1,320.3 994.3,317.6 994.4,319.6 994.5,316.5 994.6,319.5 994.7,319.1 994.8,313.4 994.9,319 995,323.2 995.2,318.1 995.3,314.8 995.4,320 995.5,318.3 995.6,315.4 995.7,320 995.8,319 995.9,320.6 996.1,317.4 996.2,318.8 996.3,321.2 996.4,318.9 996.5,312.9 996.6,323.5 996.7,322.6 996.8,317.3 997,322.5 997.1,312.5 997.2,322.8 997.3,322.3 997.4,319.9 997.5,315 997.6,315.9 997.7,316.6 997.9,323 998,314.3 998.1,323.7 998.2,317.4 998.3,313.9 998.4,321.4 998.5,319.3 998.6,314.5 998.8,314.4 998.9,318.6 999,312.5 999.1,316.6 999.2,314.9 999.3,321.4 999.4,320.4 999.5,320.4 999.7,312.8 999.8,331.9 999.9,323.6 1000,315.7 1000.1,317.6 1000.2,327 1000.3,319.2 1000.4,318.9 1000.6,314.4 1000.7,323.8 1000.8,319.6 1000.9,314.8 1001,315.7 1001.1,320.7 1001.2,318.8 1001.4,322.4 1001.5,313.8 1001.6,319.2 1001.7,314.1 1001.8,315.5 1001.9,320.5 1002,318.3 1002.1,315.9 1002.3,316.5 1002.4,313.2 1002.5,314.5 1002.6,318.8 1002.7,322.4 1002.8,319.8 1002.9,325.6 1003,315.9 1003.2,316.7 1003.3,321 1003.4,318 1003.5,320.1 1003.6,319.4 1003.7,313.8 1003.8,322.7 1003.9,325.2 1004.1,320.5 1004.2,317.4 1004.3,317.1 1004.4,321.9 1004.5,317.7 1004.6,318.7 1004.7,320 1004.8,319.2 1005,321.2 1005.1,315 1005.2,311.9 1005.3,317.2 1005.4,313.1 1005.5,321.4 1005.6,321.9 1005.7,317.3 1005.9,313.6 1006,313.3 1006.1,320.1 1006.2,312 1006.3,319.6 1006.4,319.6 1006.5,318.9 1006.6,313 1006.8,316.2 1006.9,314.6 1007,324 1007.1,317.6 1007.2,317.6 1007.3,315.2 1007.4,318.7 1007.5,313.7 1007.7,326.8 1007.8,321.4 1007.9,322.1 1008,313.4 1008.1,315 1008.2,319.5 1008.3,313.9 1008.4,317.7 1008.6,317.5 1008.7,321.5 1008.8,318.8 1008.9,316.8 1009,316.5 1009.1,318.8 1009.2,314.1 1009.3,312.8 1009.5,319.5 1009.6,315.9 1009.7,321.6 1009.8,315.8 1009.9,319.9 1010,317.5 1010.1,316.5 1010.3,317.7 1010.4,313.9 1010.5,319.3 1010.6,318.4 1010.7,316 1010.8,317 1010.9,316.2 1011,317.5 1011.2,324.7 1011.3,314.9 1011.4,316.6 1011.5,314.2 1011.6,312.9 1011.7,317.9 1011.8,319 1011.9,318.2 1012.1,318.7 1012.2,322.7 1012.3,317.8 1012.4,315.6 1012.5,309.8 1012.6,318.4 1012.7,315 1012.8,315.9 1013,316.9 1013.1,313.8 1013.2,319.4 1013.3,316.9 1013.4,316.2 1013.5,323.3 1013.6,318.9 1013.7,317.8 1013.9,311.7 1014,314.9 1014.1,314.5 1014.2,314.7 1014.3,317.2 1014.4,311.7 1014.5,317.2 1014.6,320.8 1014.8,314.7 1014.9,313 1015,316.2 1015.1,315.4 1015.2,313.6 1015.3,311.9 1015.4,314.4 1015.5,311.5 1015.7,315.6 1015.8,310.2 1015.9,320.5 1016,313.6 1016.1,315.6 1016.2,316.1 1016.3,320.2 1016.4,313.2 1016.6,317 1016.7,319.3 1016.8,318.2 1016.9,317.1 1017,316.1 1017.1,319 1017.2,319.1 1017.3,315.1 1017.5,316.5 1017.6,310.5 1017.7,317.6 1017.8,314.1 1017.9,311.1 1018,314.2 1018.1,313.4 1018.2,315.4 1018.4,316.1 1018.5,311.5 1018.6,319.2 1018.7,318 1018.8,323.9 1018.9,316.6 1019,313.3 1019.1,317 1019.3,311.1 1019.4,318.5 1019.5,312.8 1019.6,316.5 1019.7,317.6 1019.8,311.3 1019.9,316.2 1020.1,314.5 1020.2,315.8 1020.3,316 1020.4,315.8 1020.5,319.7 1020.6,315.3 1020.7,314.7 1020.8,315 1021,316.8 1021.1,310.7 1021.2,318.2 1021.3,315.7 1021.4,315.4 1021.5,319.3 1021.6,319.6 1021.7,314.1 1021.9,313.3 1022,315.6 1022.1,320.8 1022.2,316.9 1022.3,315.3 1022.4,314.2 1022.5,312.5 1022.6,314.6 1022.8,313.1 1022.9,311.1 1023,322.9 1023.1,313 1023.2,314.5 1023.3,314.5 1023.4,315.3 1023.5,319 1023.7,318.6 1023.8,318.5 1023.9,316.5 1024,313.7 1024.1,317 1024.2,309.5 1024.3,316.6 1024.4,309.7 1024.6,318.1 1024.7,314.2 1024.8,312.5 1024.9,319.7 1025,320.8 1025.1,314.6 1025.2,312.4 1025.3,311.8 1025.5,314.2 1025.6,312.7 1025.7,319.3 1025.8,317.1 1025.9,311.5 1026,317.4 1026.1,316.5 1026.2,320.9 1026.4,316.3 1026.5,320.5 1026.6,314.7 1026.7,318.4 1026.8,317.7 1026.9,315.2 1027,316.9 1027.1,314.1 1027.3,321.6 1027.4,319.9 1027.5,309.3 1027.6,319.6 1027.7,317.4 1027.8,319.8 1027.9,312 1028,316.4 1028.2,319.4 1028.3,319.4 1028.4,312.4 1028.5,313.7 1028.6,313.3 1028.7,315.8 1028.8,313 1028.9,311.7 1029.1,313.7 1029.2,320.4 1029.3,321.4 1029.4,319.9 1029.5,314.8 1029.6,320 1029.7,318.8 1029.9,315.5 1030,318.2 1030.1,320.3 1030.2,312.7 1030.3,314.1 1030.4,313.2 1030.5,312.8 1030.6,311.3 1030.8,315.7 1030.9,321.1 1031,320.8 1031.1,318.8 1031.2,317.3 1031.3,315.6 1031.4,313.6 1031.5,311.2 1031.7,312.3 1031.8,312 1031.9,314 1032,315.1 1032.1,316.7 1032.2,315.6 1032.3,318.3 1032.4,311 1032.6,315.8 1032.7,321.5 1032.8,320.2 1032.9,317.7 1033,316.9 1033.1,316.4 1033.2,311.6 1033.3,324.3 1033.5,319.2 1033.6,314.3 1033.7,312.5 1033.8,310.6 1033.9,318.4 1034,322.1 1034.1,316.7 1034.2,311 1034.4,313.4 1034.5,315.3 1034.6,310 1034.7,316.5 1034.8,316 1034.9,315.5 1035,316.9 1035.1,316.1 1035.3,321.5 1035.4,311.8 1035.5,311 1035.6,312.8 1035.7,315.6 1035.8,326.8 1035.9,319.7 1036,316.8 1036.2,316.5 1036.3,319.2 1036.4,316.4 1036.5,315 1036.6,317.2 1036.7,315.7 1036.8,315.6 1036.9,317.4 1037.1,317.8 1037.2,315.7 1037.3,314.5 1037.4,318.3 1037.5,327.3 1037.6,314.2 1037.7,313.8 1037.8,320 1038,312.5 1038.1,317 1038.2,314.9 1038.3,317.5 1038.4,313.5 1038.5,315.1 1038.6,311.8 1038.7,320.9 1038.9,313.1 1039,320.2 1039.1,316.2 1039.2,313.7" stroke="#1b6b9c" stroke-width="0.9" fill="none" />
<path d="M606.9,238.3 L607.8,315.6 L605.9,315.6 Z" stroke="#f0505e" stroke-width="1" fill="#f0505e" opacity="0.9"/>
<path d="M963.6,237.8 L964.6,325 L962.6,325 Z" stroke="#f0505e" stroke-width="1" fill="#f0505e" opacity="0.9"/>
<text x="585.1" y="237.8" font-size="22.90" fill="#e0283c" font-style="italic" textLength="6.15" lengthAdjust="spacingAndGlyphs" >f</text>
<text x="591.7" y="245.8" font-size="16.67" fill="#e0283c" textLength="11.13" lengthAdjust="spacingAndGlyphs" >A</text>
<text x="970.4" y="237.9" font-size="23.03" fill="#e0283c" font-style="italic" textLength="6.82" lengthAdjust="spacingAndGlyphs" >f</text>
<text x="977.5" y="246.2" font-size="17.54" fill="#e0283c" textLength="12.22" lengthAdjust="spacingAndGlyphs" >B</text>
<rect x="566.2" y="214.6" width="473" height="130.4" fill="none" stroke="#111" stroke-width="2"/>
<line x1="566.2" y1="224" x2="569.7" y2="224" stroke="#111" stroke-width="1.6" />
<line x1="1039.2" y1="224" x2="1035.7" y2="224" stroke="#111" stroke-width="1.6" />
<line x1="566.2" y1="243.3" x2="569.7" y2="243.3" stroke="#111" stroke-width="1.6" />
<line x1="1039.2" y1="243.3" x2="1035.7" y2="243.3" stroke="#111" stroke-width="1.6" />
<line x1="566.2" y1="262.6" x2="569.7" y2="262.6" stroke="#111" stroke-width="1.6" />
<line x1="1039.2" y1="262.6" x2="1035.7" y2="262.6" stroke="#111" stroke-width="1.6" />
<line x1="566.2" y1="281.9" x2="569.7" y2="281.9" stroke="#111" stroke-width="1.6" />
<line x1="1039.2" y1="281.9" x2="1035.7" y2="281.9" stroke="#111" stroke-width="1.6" />
<line x1="566.2" y1="301.2" x2="569.7" y2="301.2" stroke="#111" stroke-width="1.6" />
<line x1="1039.2" y1="301.2" x2="1035.7" y2="301.2" stroke="#111" stroke-width="1.6" />
<line x1="566.2" y1="320.5" x2="569.7" y2="320.5" stroke="#111" stroke-width="1.6" />
<line x1="1039.2" y1="320.5" x2="1035.7" y2="320.5" stroke="#111" stroke-width="1.6" />
<line x1="566.2" y1="339.8" x2="569.7" y2="339.8" stroke="#111" stroke-width="1.6" />
<line x1="1039.2" y1="339.8" x2="1035.7" y2="339.8" stroke="#111" stroke-width="1.6" />
<line x1="645" y1="345" x2="645" y2="341.5" stroke="#111" stroke-width="1.6" />
<line x1="645" y1="214.6" x2="645" y2="218.1" stroke="#111" stroke-width="1.6" />
<line x1="723.9" y1="345" x2="723.9" y2="341.5" stroke="#111" stroke-width="1.6" />
<line x1="723.9" y1="214.6" x2="723.9" y2="218.1" stroke="#111" stroke-width="1.6" />
<line x1="802.7" y1="345" x2="802.7" y2="341.5" stroke="#111" stroke-width="1.6" />
<line x1="802.7" y1="214.6" x2="802.7" y2="218.1" stroke="#111" stroke-width="1.6" />
<line x1="881.5" y1="345" x2="881.5" y2="341.5" stroke="#111" stroke-width="1.6" />
<line x1="881.5" y1="214.6" x2="881.5" y2="218.1" stroke="#111" stroke-width="1.6" />
<line x1="960.4" y1="345" x2="960.4" y2="341.5" stroke="#111" stroke-width="1.6" />
<line x1="960.4" y1="214.6" x2="960.4" y2="218.1" stroke="#111" stroke-width="1.6" />
<text x="546.7" y="248.8" font-size="23.33" fill="#222" textLength="8.69" lengthAdjust="spacingAndGlyphs" >1</text>
<text x="514.2" y="288" font-size="23.86" fill="#222" textLength="26.47" lengthAdjust="spacingAndGlyphs" >10</text>
<text x="540.8" y="280.5" font-size="17.00" fill="#222" textLength="17.65" lengthAdjust="spacingAndGlyphs" >−2</text>
<text x="514.2" y="325.3" font-size="23.43" fill="#222" textLength="26.47" lengthAdjust="spacingAndGlyphs" >10</text>
<text x="540.8" y="317.5" font-size="16.38" fill="#222" textLength="17.32" lengthAdjust="spacingAndGlyphs" >−4</text>
<text x="549.6" y="369.3" font-size="21.71" fill="#222" textLength="39.88" lengthAdjust="spacingAndGlyphs" >320</text>
<text x="707.7" y="369.3" font-size="21.71" fill="#222" textLength="38.30" lengthAdjust="spacingAndGlyphs" >340</text>
<text x="864.8" y="369.3" font-size="21.71" fill="#222" textLength="39.25" lengthAdjust="spacingAndGlyphs" >360</text>
<text x="1022.2" y="369.3" font-size="21.71" fill="#222" textLength="38.93" lengthAdjust="spacingAndGlyphs" >380</text>
<text x="719.1" y="402.1" font-size="22.21" fill="#222" textLength="168.13" lengthAdjust="spacingAndGlyphs" >Frequency (MHz)</text>
<text x="686.5" y="342" font-size="19" fill="#222" text-anchor="middle" >1</text>
<text x="759" y="342" font-size="19" fill="#222" text-anchor="middle" >2</text>
<text x="839.4" y="342" font-size="19" fill="#222" text-anchor="middle" >3</text>
<text x="960.4" y="342" font-size="19" fill="#222" text-anchor="middle" >4</text>
<text x="1053.8" y="286" font-size="20" fill="#222" text-anchor="middle" >+</text>
<text transform="translate(469.6,358.6) rotate(-90)" x="-1.1" y="0" font-size="22.76" fill="#222" textLength="155.82" lengthAdjust="spacingAndGlyphs">Spectral power</text>
<text transform="translate(497.8,384.8) rotate(-90)" x="-0.9" y="0" font-size="21.38" fill="#222" textLength="204.03" lengthAdjust="spacingAndGlyphs">density (&#181;W MHz<tspan font-size="14" dy="-7">&#8722;1</tspan><tspan dy="7">)</tspan></text>
<text x="8" y="500.6" font-size="41.24" fill="#111" textLength="53.56" lengthAdjust="spacingAndGlyphs" >(b)</text>
<text x="177" y="435" font-size="17.54" fill="#111" font-weight="bold" textLength="10.69" lengthAdjust="spacingAndGlyphs" >V</text>
<text x="186.8" y="440.3" font-size="12.17" fill="#111" font-weight="bold" textLength="18.28" lengthAdjust="spacingAndGlyphs" >DD</text>
<line x1="216.8" y1="437" x2="236.2" y2="437" stroke="#000" stroke-width="3.1" />
<line x1="226.8" y1="437" x2="226.8" y2="487" stroke="#000" stroke-width="3.1" />
<path d="M194.9,489.6 L194.9,551.7 A32.8,6.6 0 0,0 260.5,551.7 L260.5,489.6 Z" stroke="none" stroke-width="1" fill="url(#mtjg)" />
<ellipse cx="227.7" cy="489.6" rx="32.8" ry="6.3" fill="#9d1729"/>
<path d="M194.9,522.5 A32.8,4.6 0 0,0 260.5,522.5 L260.5,528.4 A32.8,4.6 0 0,1 194.9,528.4 Z" stroke="none" stroke-width="1" fill="#eac812" />
<line x1="226.8" y1="480" x2="226.8" y2="488" stroke="#000" stroke-width="3.1" />
<text x="88.2" y="502.4" font-size="17.24" fill="#111" font-weight="bold" textLength="79.88" lengthAdjust="spacingAndGlyphs" >Stochastic</text>
<text x="136.5" y="522.2" font-size="15.51" fill="#111" font-weight="bold" textLength="32.19" lengthAdjust="spacingAndGlyphs" >MTJ</text>
<text x="119.5" y="597.7" font-size="17.00" fill="#111" font-weight="bold" textLength="50.07" lengthAdjust="spacingAndGlyphs" >NMOS</text>
<polyline points="226.8,558 226.8,601.5 203.4,601.5 203.4,640.5 226.8,640.5 226.8,675.3" stroke="#000" stroke-width="3.1" fill="none" />
<polyline points="226.8,675.3 210.8,686.5 226.8,694.5 210.8,705.8 226.8,713.8 210.8,725 226.8,734.7 210.8,745.1 226.8,753.9" stroke="#000" stroke-width="3.1" fill="none" stroke-linejoin="miter"/>
<polyline points="226.8,753.9 226.8,798" stroke="#000" stroke-width="3.1" fill="none" />
<line x1="206.8" y1="798" x2="247.5" y2="798" stroke="#000" stroke-width="3.1" />
<line x1="212.3" y1="806.7" x2="240.9" y2="806.7" stroke="#000" stroke-width="3.1" />
<line x1="220.5" y1="815" x2="232.7" y2="815" stroke="#000" stroke-width="3.1" />
<polyline points="226.8,577.7 277.2,577.7 277.2,626.8 305.9,626.8" stroke="#000" stroke-width="3.1" fill="none" />
<line x1="150.2" y1="621" x2="196.3" y2="621" stroke="#000" stroke-width="3.1" />
<line x1="196.3" y1="601.2" x2="196.3" y2="640.7" stroke="#000" stroke-width="3.1" />
<circle cx="149.8" cy="621.1" r="4.1" fill="#111" stroke="none" stroke-width="1" />
<polygon points="305.9,615 305.9,677.9 357.6,646.4" fill="#fff" stroke="#111" stroke-width="3.1" stroke-linejoin="miter"/>
<line x1="357.6" y1="646.4" x2="384" y2="646.4" stroke="#000" stroke-width="3.1" />
<circle cx="384" cy="646.4" r="4.1" fill="#111" stroke="none" stroke-width="1" />
<polyline points="305.9,654.8 277.7,654.8 277.7,724.1" stroke="#000" stroke-width="3.1" fill="none" />
<circle cx="277.7" cy="724.2" r="4.1" fill="#111" stroke="none" stroke-width="1" />
<line x1="311.5" y1="635.6" x2="322" y2="635.6" stroke="#000" stroke-width="2.4" />
<line x1="311.5" y1="656.5" x2="322.5" y2="656.5" stroke="#000" stroke-width="2.4" />
<line x1="317" y1="651" x2="317" y2="662" stroke="#000" stroke-width="2.4" />
<text x="110.8" y="640.4" font-size="17.68" fill="#c22a45" font-weight="bold" textLength="10.49" lengthAdjust="spacingAndGlyphs" >V</text>
<text x="120.6" y="645.8" font-size="12.46" fill="#c22a45" font-weight="bold" textLength="13.33" lengthAdjust="spacingAndGlyphs" >IN</text>
<text x="382.3" y="677.7" font-size="15.22" fill="#c22a45" font-weight="bold" textLength="8.96" lengthAdjust="spacingAndGlyphs" >V</text>
<text x="391.5" y="683.3" font-size="12.71" fill="#c22a45" font-weight="bold" textLength="23.88" lengthAdjust="spacingAndGlyphs" >OUT</text>
<text x="273.9" y="753.1" font-size="15.07" fill="#c22a45" font-weight="bold" textLength="9.06" lengthAdjust="spacingAndGlyphs" >V</text>
<text x="283" y="758.7" font-size="12.75" fill="#c22a45" font-weight="bold" textLength="21.16" lengthAdjust="spacingAndGlyphs" >REF</text>
<text x="144.7" y="716.5" font-size="14.35" fill="#222" font-weight="bold" textLength="10.01" lengthAdjust="spacingAndGlyphs" >R</text>
<text x="156.6" y="722.9" font-size="14.14" fill="#222" font-weight="bold" textLength="45.63" lengthAdjust="spacingAndGlyphs" >SOURCE</text>
<text x="357.4" y="448.3" font-size="18.34" fill="#111" font-weight="bold" textLength="122.01" lengthAdjust="spacingAndGlyphs" >Thermal noise</text>
<polyline points="344.5,535.3 345.2,537.9 346,540.5 346.7,543 347.4,545.6 348.2,548.1 348.9,550.6 349.6,553 350.4,555.5 351.1,557.8 351.8,560.2 352.6,562.5 353.3,564.7 354,566.8 354.7,568.9 355.5,570.9 356.2,572.9 356.9,574.7 357.7,576.5 358.4,578.2 359.1,579.8 359.9,581.3 360.6,582.7 361.3,583.9 362.1,585.1 362.8,586.2 363.5,587.1 364.3,588 365,588.7 365.7,589.3 366.5,589.8 367.2,590.2 367.9,590.4 368.7,590.5 369.4,590.5 370.1,590.4 370.9,590.2 371.6,589.8 372.3,589.3 373,588.7 373.8,588 374.5,587.2 375.2,586.3 376,585.2 376.7,584 377.4,582.8 378.2,581.4 378.9,579.9 379.6,578.3 380.4,576.6 381.1,574.9 381.8,573 382.6,571.1 383.3,569.1 384,567 384.8,564.9 385.5,562.6 386.2,560.4 387,558 387.7,555.6 388.4,553.2 389.2,550.8 389.9,548.3 390.6,545.7 391.3,543.2 392.1,540.6 392.8,538.1 393.5,535.5 394.3,532.9 395,530.4 395.7,527.8 396.5,525.3 397.2,522.8 397.9,520.3 398.7,517.8 399.4,515.4 400.1,513.1 400.9,510.8 401.6,508.5 402.3,506.3 403.1,504.2 403.8,502.2 404.5,500.2 405.3,498.3 406,496.5 406.7,494.8 407.5,493.1 408.2,491.6 408.9,490.2 409.6,488.8 410.4,487.6 411.1,486.5 411.8,485.5 412.6,484.6 413.3,483.8 414,483.2 414.8,482.6 415.5,482.2 416.2,481.9 417,481.7 417.7,481.7 418.4,481.7 419.2,481.9 419.9,482.2 420.6,482.6 421.4,483.2 422.1,483.8 422.8,484.6 423.6,485.5 424.3,486.5 425,487.6 425.8,488.8 426.5,490.2 427.2,491.6 427.9,493.1 428.7,494.8 429.4,496.5 430.1,498.3 430.9,500.2 431.6,502.2 432.3,504.2 433.1,506.3 433.8,508.5 434.5,510.8 435.3,513.1 436,515.4 436.7,517.8 437.5,520.3 438.2,522.8 438.9,525.3 439.7,527.8 440.4,530.4 441.1,532.9 441.9,535.5 442.6,538.1 443.3,540.6 444.1,543.2 444.8,545.7 445.5,548.3 446.2,550.8 447,553.2 447.7,555.6 448.4,558 449.2,560.4 449.9,562.6 450.6,564.9 451.4,567 452.1,569.1 452.8,571.1 453.6,573 454.3,574.9 455,576.6 455.8,578.3 456.5,579.9 457.2,581.4 458,582.8 458.7,584 459.4,585.2 460.2,586.3 460.9,587.2 461.6,588 462.4,588.7 463.1,589.3 463.8,589.8 464.5,590.2 465.3,590.4 466,590.5 466.7,590.5 467.5,590.4 468.2,590.2 468.9,589.8 469.7,589.3 470.4,588.7 471.1,588 471.9,587.1 472.6,586.2 473.3,585.1 474.1,583.9 474.8,582.7 475.5,581.3 476.3,579.8 477,578.2 477.7,576.5 478.5,574.7 479.2,572.9 479.9,570.9 480.7,568.9 481.4,566.8 482.1,564.7 482.8,562.5 483.6,560.2 484.3,557.8 485,555.5 485.8,553 486.5,550.6 487.2,548.1 488,545.6 488.7,543 489.4,540.5 490.2,537.9 490.9,535.3" stroke="#000" stroke-width="2.5" fill="none" />
<path d="M364.5,484.5 Q417.7,442 476.5,482.5" stroke="#000" stroke-width="2.3" fill="none" stroke-dasharray="5.5,4"/>
<polygon points="361.8,486.3 365.6,478.2 370.6,484.5" fill="#000" stroke="none" stroke-width="1" />
<polygon points="479.4,484.5 470.6,482.9 475.4,476.5" fill="#000" stroke="none" stroke-width="1" />
<line x1="417.9" y1="501" x2="417.9" y2="587" stroke="#000" stroke-width="1.8" stroke-dasharray="5,2.6"/>
<polygon points="417.9,495 421.1,502.5 414.7,502.5" fill="#000" stroke="none" stroke-width="1" />
<polygon points="417.9,593.6 414.7,586.1 421.1,586.1" fill="#000" stroke="none" stroke-width="1" />
<text x="360.9" y="521.5" font-size="13.91" fill="#111" font-weight="bold" textLength="16.92" lengthAdjust="spacingAndGlyphs" >AP</text>
<text x="464.4" y="521.5" font-size="13.91" fill="#111" font-weight="bold" textLength="9.13" lengthAdjust="spacingAndGlyphs" >P</text>
<line x1="368.5" y1="533.7" x2="368.5" y2="567" stroke="#c4203a" stroke-width="2.6" />
<polygon points="368.5,576.5 364.5,566.5 372.5,566.5" fill="#c4203a" stroke="none" stroke-width="1" />
<line x1="467.8" y1="576.1" x2="467.8" y2="542" stroke="#2b3c9c" stroke-width="2.6" />
<polygon points="467.8,533.3 471.8,543.3 463.8,543.3" fill="#2b3c9c" stroke="none" stroke-width="1" />
<text x="371" y="621" font-size="20.72" fill="#111" font-weight="bold" textLength="24.65" lengthAdjust="spacingAndGlyphs" >ΔE</text>
<text x="401.7" y="618.5" font-size="12.26" fill="#111" font-weight="bold" textLength="12.16" lengthAdjust="spacingAndGlyphs" stroke="#111" stroke-width="0.9">≈</text>
<text x="418.8" y="621" font-size="20.72" fill="#111" font-weight="bold" textLength="22.03" lengthAdjust="spacingAndGlyphs" >15</text>
<text x="443" y="621" font-size="20.41" fill="#111" font-weight="bold" textLength="11.01" lengthAdjust="spacingAndGlyphs" >k</text>
<text x="453.1" y="628.2" font-size="15.51" fill="#111" font-weight="bold" textLength="9.83" lengthAdjust="spacingAndGlyphs" >B</text>
<text x="463.9" y="621" font-size="20.72" fill="#111" font-weight="bold" textLength="11.18" lengthAdjust="spacingAndGlyphs" >T</text>
<line x1="603.3" y1="470.5" x2="603.3" y2="735.9" stroke="#555" stroke-width="1.6" />
<line x1="603.3" y1="735.9" x2="1030.5" y2="735.9" stroke="#555" stroke-width="1.6" />
<line x1="603.3" y1="723.4" x2="607.8" y2="723.4" stroke="#555" stroke-width="1.5" />
<text x="595.4" y="729.2" font-size="16.29" font-weight="bold" fill="#111" text-anchor="end">0</text>
<line x1="603.3" y1="673.3" x2="607.8" y2="673.3" stroke="#555" stroke-width="1.5" />
<text x="595.1" y="679.1" font-size="16.52" font-weight="bold" fill="#111" text-anchor="end">1</text>
<line x1="603.3" y1="623.3" x2="607.8" y2="623.3" stroke="#555" stroke-width="1.5" />
<text x="595.4" y="629.1" font-size="16.29" font-weight="bold" fill="#111" text-anchor="end">2</text>
<line x1="603.3" y1="573.2" x2="607.8" y2="573.2" stroke="#555" stroke-width="1.5" />
<text x="595.3" y="579" font-size="16.29" font-weight="bold" fill="#111" text-anchor="end">3</text>
<line x1="603.3" y1="523.2" x2="607.8" y2="523.2" stroke="#555" stroke-width="1.5" />
<text x="594.8" y="529" font-size="16.52" font-weight="bold" fill="#111" text-anchor="end">4</text>
<line x1="603.3" y1="473.1" x2="607.8" y2="473.1" stroke="#555" stroke-width="1.5" />
<text x="595.1" y="478.9" font-size="16.52" font-weight="bold" fill="#111" text-anchor="end">5</text>
<line x1="651" y1="735.9" x2="651" y2="731.4" stroke="#555" stroke-width="1.5" />
<text x="651.5" y="755.5" font-size="13.86" font-weight="bold" fill="#111" text-anchor="middle">1.6</text>
<line x1="745.8" y1="735.9" x2="745.8" y2="731.4" stroke="#555" stroke-width="1.5" />
<text x="746.3" y="755.5" font-size="13.86" font-weight="bold" fill="#111" text-anchor="middle">1.8</text>
<line x1="840.6" y1="735.9" x2="840.6" y2="731.4" stroke="#555" stroke-width="1.5" />
<text x="841.1" y="755.5" font-size="13.86" font-weight="bold" fill="#111" text-anchor="middle">2</text>
<line x1="935.4" y1="735.9" x2="935.4" y2="731.4" stroke="#555" stroke-width="1.5" />
<text x="935.9" y="755.5" font-size="13.86" font-weight="bold" fill="#111" text-anchor="middle">2.2</text>
<text x="814.3" y="782.3" font-size="15.94" fill="#111" font-weight="bold" textLength="9.78" lengthAdjust="spacingAndGlyphs" >V</text>
<text x="823.2" y="787.8" font-size="12.90" fill="#111" font-weight="bold" textLength="11.95" lengthAdjust="spacingAndGlyphs" >IN</text>
<text x="837.7" y="781.6" font-size="15.17" fill="#111" font-weight="bold" textLength="21.48" lengthAdjust="spacingAndGlyphs" >(V)</text>
<text transform="translate(567,643.1) rotate(-90)" x="-0.1" y="0" font-size="17.25" fill="#111" font-weight="bold" textLength="10.79" lengthAdjust="spacingAndGlyphs">V</text>
<text transform="translate(572.1,631.6) rotate(-90)" x="-0.5" y="0" font-size="11.14" fill="#111" font-weight="bold" textLength="24.90" lengthAdjust="spacingAndGlyphs">OUT</text>
<text transform="translate(566.6,596.3) rotate(-90)" x="-0.8" y="0" font-size="16.55" fill="#111" font-weight="bold" textLength="22.34" lengthAdjust="spacingAndGlyphs">(V)</text>
<line x1="630.4" y1="498" x2="650" y2="498" stroke="#000" stroke-width="3.2" />
<line x1="654" y1="498" x2="660" y2="498" stroke="#000" stroke-width="3.2" />
<text x="673" y="506" font-size="20.69" fill="#222" textLength="116.51" lengthAdjust="spacingAndGlyphs" >Sigmoidal fit</text>
<polyline points="603.6,730.4 609.7,730.4 618.1,730.4 628,730.4 639,730.4 650.3,730.4 661.3,730.3 671.4,730.3 680,730.3 687.3,730.3 694,730.3 700.3,730.2 706,730.2 711.3,730.2 716.2,730.1 720.8,730.1 725,730 728.7,729.9 731.8,729.9 734.4,729.8 736.7,729.8 738.7,729.7 740.7,729.5 742.7,729.2 745,728.8 747.4,728.3 749.9,727.6 752.4,726.9 754.8,726.1 757.2,725.2 759.4,724.4 761.5,723.5 763.5,722.6 765.3,721.7 766.9,720.9 768.4,720 769.8,719.1 771.1,718.1 772.3,717.2 773.5,716.2 774.7,715.2 775.8,714.2 776.8,713.3 777.8,712.5 778.6,711.5 779.5,710.5 780.3,709.4 781.2,708.1 782.1,706.5 783,704.7 784,702.7 784.9,700.6 785.9,698.3 786.8,695.8 787.7,693.3 788.6,690.7 789.5,688 790.3,685.3 791.2,682.4 792,679.5 792.8,676.5 793.5,673.3 794.3,670.1 795,666.7 795.7,663.2 796.4,659.5 797,655.7 797.7,651.7 798.3,647.6 798.9,643.4 799.5,639.2 800.1,635.1 800.7,631 801.3,626.9 801.9,622.8 802.5,618.7 803.2,614.6 803.8,610.5 804.4,606.5 805,602.6 805.6,598.8 806.2,595.1 806.8,591.5 807.5,588 808.1,584.5 808.7,581.1 809.4,577.9 810,574.6 810.6,571.5 811.2,568.4 811.8,565.5 812.4,562.6 813.1,559.8 813.7,557 814.3,554.4 814.9,551.8 815.5,549.3 816.1,546.9 816.7,544.6 817.4,542.3 818,540.1 818.6,538 819.3,536 819.9,533.9 820.5,531.9 821.1,529.9 821.7,528 822.3,526.2 822.9,524.3 823.5,522.5 824.1,520.7 824.7,518.9 825.4,517.1 826.1,515.2 826.9,513.3 827.6,511.3 828.4,509.3 829.2,507.4 830,505.6 830.8,503.8 831.6,502.2 832.4,500.7 833.1,499.3 833.8,498 834.5,496.8 835.3,495.6 836.1,494.5 836.9,493.4 837.8,492.3 838.8,491.2 839.8,490.2 840.8,489.2 841.9,488.2 843,487.3 844.2,486.4 845.3,485.6 846.5,484.9 847.6,484.2 848.8,483.6 849.9,483.1 851.1,482.6 852.3,482.2 853.5,481.8 854.9,481.4 856.4,481.1 857.9,480.8 859.5,480.5 861.1,480.3 862.8,480 864.6,479.9 866.6,479.7 868.8,479.5 871.3,479.4 873.9,479.3 876.4,479.2 879.1,479.1 882,479.1 885.2,479 889,479 893.4,478.9 898.5,478.9 904.5,478.9 911.3,478.8 918.7,478.8 926.5,478.8 934.8,478.7 943.2,478.7 951.6,478.7 960,478.7 968.9,478.7 978.6,478.7 988.9,478.7 999.1,478.7 1008.8,478.7 1017.6,478.7 1025,478.7 1030.5,478.7" stroke="#000" stroke-width="3.2" fill="none" stroke-dasharray="15,6.5"/>
<rect x="599.8" y="726.6" width="7.6" height="7.6" fill="#e2323c" stroke="#6a1018" stroke-width="0.9"/>
<rect x="647.2" y="726.6" width="7.6" height="7.6" fill="#e2323c" stroke="#6a1018" stroke-width="0.9"/>
<rect x="694.6" y="726.6" width="7.6" height="7.6" fill="#e2323c" stroke="#6a1018" stroke-width="0.9"/>
<rect x="742" y="726.6" width="7.6" height="7.6" fill="#e2323c" stroke="#6a1018" stroke-width="0.9"/>
<rect x="765.7" y="726.6" width="7.6" height="7.6" fill="#e2323c" stroke="#6a1018" stroke-width="0.9"/>
<rect x="777.6" y="704.6" width="7.6" height="7.6" fill="#e2323c" stroke="#6a1018" stroke-width="0.9"/>
<rect x="789.4" y="634.5" width="7.6" height="7.6" fill="#e2323c" stroke="#6a1018" stroke-width="0.9"/>
<rect x="801.3" y="588.4" width="7.6" height="7.6" fill="#e2323c" stroke="#6a1018" stroke-width="0.9"/>
<rect x="813.1" y="557.9" width="7.6" height="7.6" fill="#e2323c" stroke="#6a1018" stroke-width="0.9"/>
<rect x="825" y="521.4" width="7.6" height="7.6" fill="#e2323c" stroke="#6a1018" stroke-width="0.9"/>
<rect x="836.8" y="498.8" width="7.6" height="7.6" fill="#e2323c" stroke="#6a1018" stroke-width="0.9"/>
<rect x="848.7" y="489.3" width="7.6" height="7.6" fill="#e2323c" stroke="#6a1018" stroke-width="0.9"/>
<rect x="860.5" y="480.3" width="7.6" height="7.6" fill="#e2323c" stroke="#6a1018" stroke-width="0.9"/>
<rect x="872.4" y="477.8" width="7.6" height="7.6" fill="#e2323c" stroke="#6a1018" stroke-width="0.9"/>
<rect x="884.2" y="475.8" width="7.6" height="7.6" fill="#e2323c" stroke="#6a1018" stroke-width="0.9"/>
<rect x="931.6" y="475.3" width="7.6" height="7.6" fill="#e2323c" stroke="#6a1018" stroke-width="0.9"/>
<rect x="979" y="475.3" width="7.6" height="7.6" fill="#e2323c" stroke="#6a1018" stroke-width="0.9"/>
<rect x="1026.4" y="475.3" width="7.6" height="7.6" fill="#e2323c" stroke="#6a1018" stroke-width="0.9"/>
<polyline points="100,1029.1 100.8,1029.1 101.7,1029.1 102.5,1029.1 103.3,1029.1 104.1,1029.1 105,1029.1 105.8,1029.1 106.6,1029.1 107.5,1029.1 108.3,1029.1 109.1,1029.1 109.9,1029.1 110.8,1029.1 111.6,1029.1 112.4,1029.1 113.3,1029.1 114.1,1029.1 115.3,999.5 115.8,1029.1 116.5,881.3 117.4,1029.1 118.2,1029.1 119.1,1029.1 119.9,1029.1 120.7,1029.1 121.6,1029.1 122.4,1029.1 123.2,1029.1 124,1029.1 124.9,1029.1 125.7,1029.1 126.5,1029.1 127.4,1029.1 128.2,1029.1 129,1029.1 129.8,1029.1 130.7,1029.1 131.5,1029.1 132.3,1029.1 133.2,1029.1 134,1029.1 134.8,1029.1 135.9,937.5 136.8,881.3 137.3,1029.1 138.1,1029.1 139,1029.1 139.8,1029.1 140.6,1029.1 141.4,1029.1 142.3,1029.1 143.1,1029.1 143.9,1029.1 144.8,1029.1 145.6,1029.1 146.4,1029.1 147.3,1029.1 148.1,1029.1 149.2,947.5 149.7,1029.1 150.2,881.3 151.5,972 152.2,1029.1 153,1022.6 153.9,1029.1 154.7,1029.1 155.8,978.6 156.4,1029.1 157.2,1029.1 158,1029.1 158.9,1029.1 159.7,1029.1 160.5,1029.1 161.3,1029.1 162.2,1029.1 163,1029.1 163.8,1029.1 164.7,1029.1 165.5,1029.1 166.3,1029.1 167.1,1029.1 168,1029.1 168.8,1029.1 169.6,1029.1 170.5,1029.1 171.3,1029.1 172.1,1029.1 172.9,1029.1 173.8,1029.1 174.6,1029.1 175.4,1029.1 176.3,1029.1 177.1,1029.1 177.9,1029.1 178.8,1029.1 179.9,1018.5 180.4,1029.1 180.9,881.3 182.4,881.3 182.9,1029.1 183.7,1029.1 184.4,881.3 185.4,1029.1 186.2,1029.1 187,1029.1 187.9,1029.1 188.7,1029.1 189.5,1029.1 190.4,1029.1 191.2,1029.1 192,1029.1 192.8,1029.1 193.7,1029.1 194.5,1029.1 195.3,1029.1 196.2,1029.1 197,1029.1 197.8,1029.1 198.6,1029.1 199.5,1029.1 200.3,1029.1 201.2,992.1 202,1029.1 202.8,1029.1 203.6,1029.1 204.4,1029.1 205.3,1029.1 206.1,1029.1 206.9,1029.1 207.8,1029.1 208.6,1029.1 209.4,1029.1 210.3,1029.1 211.1,1029.1 211.9,1029.1 212.7,1029.1 213.6,1029.1 214.4,1029.1 215.2,1029.1 216.1,1029.1 216.9,1029.1 217.7,1029.1 218.5,1029.1 219.4,1029.1 220.2,1029.1 221,1029.1 221.9,1029.1 222.7,1029.1 223.5,1029.1 224.3,1029.1 225.2,1029.1 226,1029.1 226.8,1029.1 227.7,1029.1 228.5,1029.1 229.3,1029.1 230.1,1029.1 231,1029.1 231.8,1029.1 232.4,1017.9 233.5,1029.1 234.3,1029.1 235.1,1029.1 235.9,1029.1 236.8,1029.1 237.6,1029.1 238.4,1029.1 239.3,1029.1 240.1,1029.1 240.9,1029.1 241.8,1029.1 242.6,1029.1 243.4,1029.1 244.2,985.1 244.9,881.3 245.9,1029.1 247,881.3 247.7,936.3 248.5,881.3 249.2,1029.1 250,1029.1 250.9,1029.1 251.7,1029.1 252.5,1029.1 253.4,1029.1 254.2,1029.1 255,1029.1 255.8,1029.1 256.7,1029.1 257.8,1008.4 258.3,1029.1 259.5,882.8 260,1029.1 260.8,1029.1 261.6,1029.1 262.5,1029.1 263.3,1029.1 264.1,1029.1 265,1029.1 265.8,1029.1 266.6,1029.1 267.4,1029.1 268.3,1029.1 269.1,1029.1 270.1,959 270.8,1029.1 271.6,1029.1 272.4,1029.1 273.1,903.5 274.3,881.3 274.9,1029.1 275.7,1029.1 276.8,881.3 277.6,1000.1 278.2,1029.1 279.1,1022 279.9,1029.1 280.7,1029.1 281.5,1029.1 282.4,1029.1 283.2,1029.1 284,1029.1 284.9,1029.1 285.7,1029.1 286.5,1029.1 287.1,953.7 287.9,1020.2 289,1029.1 289.8,1029.1 290.7,1029.1 291.5,1029.1 292.3,1029.1 293.1,1029.1 294,1029.1 294.8,1029.1 295.6,1029.1 296.5,1029.1 297.3,1029.1 298.1,1029.1 299,1029.1 299.8,1029.1 300.6,1029.1 301.4,1029.1 302.3,1029.1 303.1,1029.1 303.9,1029.1 304.8,1029.1 305.6,1029.1 306.4,1029.1 307.2,1029.1 308.1,1029.1 308.9,1029.1 309.7,1029.1 310.6,1029.1 311.4,1029.1 312.2,1029.1 313,1029.1 314.3,1021.4 314.7,1029.1 315.5,1029.1 316.4,1029.1 317.2,1029.1 318,1029.1 318.8,1029.1 319.7,1029.1 320.5,1029.1 321.3,1029.1 322.2,1029.1 323,1029.1 323.8,1029.1 324.3,1024.4 325.6,881.3 326.3,1015.2 327.1,1029.1 328,1029.1 328.8,1029.1 329.6,1029.1 330.5,1029.1 331.3,1029.1 332.1,1019.6 332.9,1029.1 333.8,1029.1 334.6,1029.1 335.1,1019.6 335.6,896.4 336.3,1029.1 337.1,1029.1 337.9,1029.1 338.7,1029.1 339.6,1029.1 340.4,1029.1 341.2,1029.1 342.1,1029.1 342.9,1029.1 343.7,1029.1 344.5,1029.1 345.4,1029.1 346.2,1029.1 347.4,1013.1 347.9,1029.1 348.7,1029.1 349.5,1029.1 350.3,1029.1 351.2,1029.1" stroke="#96a3d8" stroke-width="0.8" fill="none" />
<circle cx="100" cy="1029.1" r="2.9" fill="#3d4a98" stroke="#1f2766" stroke-width="0.7" />
<circle cx="100.8" cy="1029.1" r="2.9" fill="#3d4a98" stroke="#1f2766" stroke-width="0.7" />
<circle cx="101.7" cy="1029.1" r="2.9" fill="#3d4a98" stroke="#1f2766" stroke-width="0.7" />
<circle cx="102.5" cy="1029.1" r="2.9" fill="#3d4a98" stroke="#1f2766" stroke-width="0.7" />
<circle cx="103.3" cy="1029.1" r="2.9" fill="#3d4a98" stroke="#1f2766" stroke-width="0.7" />
<circle cx="104.1" cy="1029.1" r="2.9" fill="#3d4a98" stroke="#1f2766" stroke-width="0.7" />
<circle cx="105" cy="1029.1" r="2.9" fill="#3d4a98" stroke="#1f2766" stroke-width="0.7" />
<circle cx="105.8" cy="1029.1" r="2.9" fill="#3d4a98" stroke="#1f2766" stroke-width="0.7" />
<circle cx="106.6" cy="1029.1" r="2.9" fill="#3d4a98" stroke="#1f2766" stroke-width="0.7" />
<circle cx="107.5" cy="1029.1" r="2.9" fill="#3d4a98" stroke="#1f2766" stroke-width="0.7" />
<circle cx="108.3" cy="1029.1" r="2.9" fill="#3d4a98" stroke="#1f2766" stroke-width="0.7" />
<circle cx="109.1" cy="1029.1" r="2.9" fill="#3d4a98" stroke="#1f2766" stroke-width="0.7" />
<circle cx="109.9" cy="1029.1" r="2.9" fill="#3d4a98" stroke="#1f2766" stroke-width="0.7" />
<circle cx="110.8" cy="1029.1" r="2.9" fill="#3d4a98" stroke="#1f2766" stroke-width="0.7" />
<circle cx="111.6" cy="1029.1" r="2.9" fill="#3d4a98" stroke="#1f2766" stroke-width="0.7" />
<circle cx="112.4" cy="1029.1" r="2.9" fill="#3d4a98" stroke="#1f2766" stroke-width="0.7" />
<circle cx="113.3" cy="1029.1" r="2.9" fill="#3d4a98" stroke="#1f2766" stroke-width="0.7" />
<circle cx="114.1" cy="1029.1" r="2.9" fill="#3d4a98" stroke="#1f2766" stroke-width="0.7" />
<circle cx="115.3" cy="999.5" r="2.9" fill="#3d4a98" stroke="#1f2766" stroke-width="0.7" />
<circle cx="115.8" cy="1029.1" r="2.9" fill="#3d4a98" stroke="#1f2766" stroke-width="0.7" />
<circle cx="116.5" cy="881.3" r="2.9" fill="#3d4a98" stroke="#1f2766" stroke-width="0.7" />
<circle cx="117.4" cy="1029.1" r="2.9" fill="#3d4a98" stroke="#1f2766" stroke-width="0.7" />
<circle cx="118.2" cy="1029.1" r="2.9" fill="#3d4a98" stroke="#1f2766" stroke-width="0.7" />
<circle cx="119.1" cy="1029.1" r="2.9" fill="#3d4a98" stroke="#1f2766" stroke-width="0.7" />
<circle cx="119.9" cy="1029.1" r="2.9" fill="#3d4a98" stroke="#1f2766" stroke-width="0.7" />
<circle cx="120.7" cy="1029.1" r="2.9" fill="#3d4a98" stroke="#1f2766" stroke-width="0.7" />
<circle cx="121.6" cy="1029.1" r="2.9" fill="#3d4a98" stroke="#1f2766" stroke-width="0.7" />
<circle cx="122.4" cy="1029.1" r="2.9" fill="#3d4a98" stroke="#1f2766" stroke-width="0.7" />
<circle cx="123.2" cy="1029.1" r="2.9" fill="#3d4a98" stroke="#1f2766" stroke-width="0.7" />
<circle cx="124" cy="1029.1" r="2.9" fill="#3d4a98" stroke="#1f2766" stroke-width="0.7" />
<circle cx="124.9" cy="1029.1" r="2.9" fill="#3d4a98" stroke="#1f2766" stroke-width="0.7" />
<circle cx="125.7" cy="1029.1" r="2.9" fill="#3d4a98" stroke="#1f2766" stroke-width="0.7" />
<circle cx="126.5" cy="1029.1" r="2.9" fill="#3d4a98" stroke="#1f2766" stroke-width="0.7" />
<circle cx="127.4" cy="1029.1" r="2.9" fill="#3d4a98" stroke="#1f2766" stroke-width="0.7" />
<circle cx="128.2" cy="1029.1" r="2.9" fill="#3d4a98" stroke="#1f2766" stroke-width="0.7" />
<circle cx="129" cy="1029.1" r="2.9" fill="#3d4a98" stroke="#1f2766" stroke-width="0.7" />
<circle cx="129.8" cy="1029.1" r="2.9" fill="#3d4a98" stroke="#1f2766" stroke-width="0.7" />
<circle cx="130.7" cy="1029.1" r="2.9" fill="#3d4a98" stroke="#1f2766" stroke-width="0.7" />
<circle cx="131.5" cy="1029.1" r="2.9" fill="#3d4a98" stroke="#1f2766" stroke-width="0.7" />
<circle cx="132.3" cy="1029.1" r="2.9" fill="#3d4a98" stroke="#1f2766" stroke-width="0.7" />
<circle cx="133.2" cy="1029.1" r="2.9" fill="#3d4a98" stroke="#1f2766" stroke-width="0.7" />
<circle cx="134" cy="1029.1" r="2.9" fill="#3d4a98" stroke="#1f2766" stroke-width="0.7" />
<circle cx="134.8" cy="1029.1" r="2.9" fill="#3d4a98" stroke="#1f2766" stroke-width="0.7" />
<circle cx="135.9" cy="937.5" r="2.9" fill="#3d4a98" stroke="#1f2766" stroke-width="0.7" />
<circle cx="136.8" cy="881.3" r="2.9" fill="#3d4a98" stroke="#1f2766" stroke-width="0.7" />
<circle cx="137.3" cy="1029.1" r="2.9" fill="#3d4a98" stroke="#1f2766" stroke-width="0.7" />
<circle cx="138.1" cy="1029.1" r="2.9" fill="#3d4a98" stroke="#1f2766" stroke-width="0.7" />
<circle cx="139" cy="1029.1" r="2.9" fill="#3d4a98" stroke="#1f2766" stroke-width="0.7" />
<circle cx="139.8" cy="1029.1" r="2.9" fill="#3d4a98" stroke="#1f2766" stroke-width="0.7" />
<circle cx="140.6" cy="1029.1" r="2.9" fill="#3d4a98" stroke="#1f2766" stroke-width="0.7" />
<circle cx="141.4" cy="1029.1" r="2.9" fill="#3d4a98" stroke="#1f2766" stroke-width="0.7" />
<circle cx="142.3" cy="1029.1" r="2.9" fill="#3d4a98" stroke="#1f2766" stroke-width="0.7" />
<circle cx="143.1" cy="1029.1" r="2.9" fill="#3d4a98" stroke="#1f2766" stroke-width="0.7" />
<circle cx="143.9" cy="1029.1" r="2.9" fill="#3d4a98" stroke="#1f2766" stroke-width="0.7" />
<circle cx="144.8" cy="1029.1" r="2.9" fill="#3d4a98" stroke="#1f2766" stroke-width="0.7" />
<circle cx="145.6" cy="1029.1" r="2.9" fill="#3d4a98" stroke="#1f2766" stroke-width="0.7" />
<circle cx="146.4" cy="1029.1" r="2.9" fill="#3d4a98" stroke="#1f2766" stroke-width="0.7" />
<circle cx="147.3" cy="1029.1" r="2.9" fill="#3d4a98" stroke="#1f2766" stroke-width="0.7" />
<circle cx="148.1" cy="1029.1" r="2.9" fill="#3d4a98" stroke="#1f2766" stroke-width="0.7" />
<circle cx="149.2" cy="947.5" r="2.9" fill="#3d4a98" stroke="#1f2766" stroke-width="0.7" />
<circle cx="149.7" cy="1029.1" r="2.9" fill="#3d4a98" stroke="#1f2766" stroke-width="0.7" />
<circle cx="150.2" cy="881.3" r="2.9" fill="#3d4a98" stroke="#1f2766" stroke-width="0.7" />
<circle cx="151.5" cy="972" r="2.9" fill="#3d4a98" stroke="#1f2766" stroke-width="0.7" />
<circle cx="152.2" cy="1029.1" r="2.9" fill="#3d4a98" stroke="#1f2766" stroke-width="0.7" />
<circle cx="153" cy="1022.6" r="2.9" fill="#3d4a98" stroke="#1f2766" stroke-width="0.7" />
<circle cx="153.9" cy="1029.1" r="2.9" fill="#3d4a98" stroke="#1f2766" stroke-width="0.7" />
<circle cx="154.7" cy="1029.1" r="2.9" fill="#3d4a98" stroke="#1f2766" stroke-width="0.7" />
<circle cx="155.8" cy="978.6" r="2.9" fill="#3d4a98" stroke="#1f2766" stroke-width="0.7" />
<circle cx="156.4" cy="1029.1" r="2.9" fill="#3d4a98" stroke="#1f2766" stroke-width="0.7" />
<circle cx="157.2" cy="1029.1" r="2.9" fill="#3d4a98" stroke="#1f2766" stroke-width="0.7" />
<circle cx="158" cy="1029.1" r="2.9" fill="#3d4a98" stroke="#1f2766" stroke-width="0.7" />
<circle cx="158.9" cy="1029.1" r="2.9" fill="#3d4a98" stroke="#1f2766" stroke-width="0.7" />
<circle cx="159.7" cy="1029.1" r="2.9" fill="#3d4a98" stroke="#1f2766" stroke-width="0.7" />
<circle cx="160.5" cy="1029.1" r="2.9" fill="#3d4a98" stroke="#1f2766" stroke-width="0.7" />
<circle cx="161.3" cy="1029.1" r="2.9" fill="#3d4a98" stroke="#1f2766" stroke-width="0.7" />
<circle cx="162.2" cy="1029.1" r="2.9" fill="#3d4a98" stroke="#1f2766" stroke-width="0.7" />
<circle cx="163" cy="1029.1" r="2.9" fill="#3d4a98" stroke="#1f2766" stroke-width="0.7" />
<circle cx="163.8" cy="1029.1" r="2.9" fill="#3d4a98" stroke="#1f2766" stroke-width="0.7" />
<circle cx="164.7" cy="1029.1" r="2.9" fill="#3d4a98" stroke="#1f2766" stroke-width="0.7" />
<circle cx="165.5" cy="1029.1" r="2.9" fill="#3d4a98" stroke="#1f2766" stroke-width="0.7" />
<circle cx="166.3" cy="1029.1" r="2.9" fill="#3d4a98" stroke="#1f2766" stroke-width="0.7" />
<circle cx="167.1" cy="1029.1" r="2.9" fill="#3d4a98" stroke="#1f2766" stroke-width="0.7" />
<circle cx="168" cy="1029.1" r="2.9" fill="#3d4a98" stroke="#1f2766" stroke-width="0.7" />
<circle cx="168.8" cy="1029.1" r="2.9" fill="#3d4a98" stroke="#1f2766" stroke-width="0.7" />
<circle cx="169.6" cy="1029.1" r="2.9" fill="#3d4a98" stroke="#1f2766" stroke-width="0.7" />
<circle cx="170.5" cy="1029.1" r="2.9" fill="#3d4a98" stroke="#1f2766" stroke-width="0.7" />
<circle cx="171.3" cy="1029.1" r="2.9" fill="#3d4a98" stroke="#1f2766" stroke-width="0.7" />
<circle cx="172.1" cy="1029.1" r="2.9" fill="#3d4a98" stroke="#1f2766" stroke-width="0.7" />
<circle cx="172.9" cy="1029.1" r="2.9" fill="#3d4a98" stroke="#1f2766" stroke-width="0.7" />
<circle cx="173.8" cy="1029.1" r="2.9" fill="#3d4a98" stroke="#1f2766" stroke-width="0.7" />
<circle cx="174.6" cy="1029.1" r="2.9" fill="#3d4a98" stroke="#1f2766" stroke-width="0.7" />
<circle cx="175.4" cy="1029.1" r="2.9" fill="#3d4a98" stroke="#1f2766" stroke-width="0.7" />
<circle cx="176.3" cy="1029.1" r="2.9" fill="#3d4a98" stroke="#1f2766" stroke-width="0.7" />
<circle cx="177.1" cy="1029.1" r="2.9" fill="#3d4a98" stroke="#1f2766" stroke-width="0.7" />
<circle cx="177.9" cy="1029.1" r="2.9" fill="#3d4a98" stroke="#1f2766" stroke-width="0.7" />
<circle cx="178.8" cy="1029.1" r="2.9" fill="#3d4a98" stroke="#1f2766" stroke-width="0.7" />
<circle cx="179.9" cy="1018.5" r="2.9" fill="#3d4a98" stroke="#1f2766" stroke-width="0.7" />
<circle cx="180.4" cy="1029.1" r="2.9" fill="#3d4a98" stroke="#1f2766" stroke-width="0.7" />
<circle cx="180.9" cy="881.3" r="2.9" fill="#3d4a98" stroke="#1f2766" stroke-width="0.7" />
<circle cx="182.4" cy="881.3" r="2.9" fill="#3d4a98" stroke="#1f2766" stroke-width="0.7" />
<circle cx="182.9" cy="1029.1" r="2.9" fill="#3d4a98" stroke="#1f2766" stroke-width="0.7" />
<circle cx="183.7" cy="1029.1" r="2.9" fill="#3d4a98" stroke="#1f2766" stroke-width="0.7" />
<circle cx="184.4" cy="881.3" r="2.9" fill="#3d4a98" stroke="#1f2766" stroke-width="0.7" />
<circle cx="185.4" cy="1029.1" r="2.9" fill="#3d4a98" stroke="#1f2766" stroke-width="0.7" />
<circle cx="186.2" cy="1029.1" r="2.9" fill="#3d4a98" stroke="#1f2766" stroke-width="0.7" />
<circle cx="187" cy="1029.1" r="2.9" fill="#3d4a98" stroke="#1f2766" stroke-width="0.7" />
<circle cx="187.9" cy="1029.1" r="2.9" fill="#3d4a98" stroke="#1f2766" stroke-width="0.7" />
<circle cx="188.7" cy="1029.1" r="2.9" fill="#3d4a98" stroke="#1f2766" stroke-width="0.7" />
<circle cx="189.5" cy="1029.1" r="2.9" fill="#3d4a98" stroke="#1f2766" stroke-width="0.7" />
<circle cx="190.4" cy="1029.1" r="2.9" fill="#3d4a98" stroke="#1f2766" stroke-width="0.7" />
<circle cx="191.2" cy="1029.1" r="2.9" fill="#3d4a98" stroke="#1f2766" stroke-width="0.7" />
<circle cx="192" cy="1029.1" r="2.9" fill="#3d4a98" stroke="#1f2766" stroke-width="0.7" />
<circle cx="192.8" cy="1029.1" r="2.9" fill="#3d4a98" stroke="#1f2766" stroke-width="0.7" />
<circle cx="193.7" cy="1029.1" r="2.9" fill="#3d4a98" stroke="#1f2766" stroke-width="0.7" />
<circle cx="194.5" cy="1029.1" r="2.9" fill="#3d4a98" stroke="#1f2766" stroke-width="0.7" />
<circle cx="195.3" cy="1029.1" r="2.9" fill="#3d4a98" stroke="#1f2766" stroke-width="0.7" />
<circle cx="196.2" cy="1029.1" r="2.9" fill="#3d4a98" stroke="#1f2766" stroke-width="0.7" />
<circle cx="197" cy="1029.1" r="2.9" fill="#3d4a98" stroke="#1f2766" stroke-width="0.7" />
<circle cx="197.8" cy="1029.1" r="2.9" fill="#3d4a98" stroke="#1f2766" stroke-width="0.7" />
<circle cx="198.6" cy="1029.1" r="2.9" fill="#3d4a98" stroke="#1f2766" stroke-width="0.7" />
<circle cx="199.5" cy="1029.1" r="2.9" fill="#3d4a98" stroke="#1f2766" stroke-width="0.7" />
<circle cx="200.3" cy="1029.1" r="2.9" fill="#3d4a98" stroke="#1f2766" stroke-width="0.7" />
<circle cx="201.2" cy="992.1" r="2.9" fill="#3d4a98" stroke="#1f2766" stroke-width="0.7" />
<circle cx="202" cy="1029.1" r="2.9" fill="#3d4a98" stroke="#1f2766" stroke-width="0.7" />
<circle cx="202.8" cy="1029.1" r="2.9" fill="#3d4a98" stroke="#1f2766" stroke-width="0.7" />
<circle cx="203.6" cy="1029.1" r="2.9" fill="#3d4a98" stroke="#1f2766" stroke-width="0.7" />
<circle cx="204.4" cy="1029.1" r="2.9" fill="#3d4a98" stroke="#1f2766" stroke-width="0.7" />
<circle cx="205.3" cy="1029.1" r="2.9" fill="#3d4a98" stroke="#1f2766" stroke-width="0.7" />
<circle cx="206.1" cy="1029.1" r="2.9" fill="#3d4a98" stroke="#1f2766" stroke-width="0.7" />
<circle cx="206.9" cy="1029.1" r="2.9" fill="#3d4a98" stroke="#1f2766" stroke-width="0.7" />
<circle cx="207.8" cy="1029.1" r="2.9" fill="#3d4a98" stroke="#1f2766" stroke-width="0.7" />
<circle cx="208.6" cy="1029.1" r="2.9" fill="#3d4a98" stroke="#1f2766" stroke-width="0.7" />
<circle cx="209.4" cy="1029.1" r="2.9" fill="#3d4a98" stroke="#1f2766" stroke-width="0.7" />
<circle cx="210.3" cy="1029.1" r="2.9" fill="#3d4a98" stroke="#1f2766" stroke-width="0.7" />
<circle cx="211.1" cy="1029.1" r="2.9" fill="#3d4a98" stroke="#1f2766" stroke-width="0.7" />
<circle cx="211.9" cy="1029.1" r="2.9" fill="#3d4a98" stroke="#1f2766" stroke-width="0.7" />
<circle cx="212.7" cy="1029.1" r="2.9" fill="#3d4a98" stroke="#1f2766" stroke-width="0.7" />
<circle cx="213.6" cy="1029.1" r="2.9" fill="#3d4a98" stroke="#1f2766" stroke-width="0.7" />
<circle cx="214.4" cy="1029.1" r="2.9" fill="#3d4a98" stroke="#1f2766" stroke-width="0.7" />
<circle cx="215.2" cy="1029.1" r="2.9" fill="#3d4a98" stroke="#1f2766" stroke-width="0.7" />
<circle cx="216.1" cy="1029.1" r="2.9" fill="#3d4a98" stroke="#1f2766" stroke-width="0.7" />
<circle cx="216.9" cy="1029.1" r="2.9" fill="#3d4a98" stroke="#1f2766" stroke-width="0.7" />
<circle cx="217.7" cy="1029.1" r="2.9" fill="#3d4a98" stroke="#1f2766" stroke-width="0.7" />
<circle cx="218.5" cy="1029.1" r="2.9" fill="#3d4a98" stroke="#1f2766" stroke-width="0.7" />
<circle cx="219.4" cy="1029.1" r="2.9" fill="#3d4a98" stroke="#1f2766" stroke-width="0.7" />
<circle cx="220.2" cy="1029.1" r="2.9" fill="#3d4a98" stroke="#1f2766" stroke-width="0.7" />
<circle cx="221" cy="1029.1" r="2.9" fill="#3d4a98" stroke="#1f2766" stroke-width="0.7" />
<circle cx="221.9" cy="1029.1" r="2.9" fill="#3d4a98" stroke="#1f2766" stroke-width="0.7" />
<circle cx="222.7" cy="1029.1" r="2.9" fill="#3d4a98" stroke="#1f2766" stroke-width="0.7" />
<circle cx="223.5" cy="1029.1" r="2.9" fill="#3d4a98" stroke="#1f2766" stroke-width="0.7" />
<circle cx="224.3" cy="1029.1" r="2.9" fill="#3d4a98" stroke="#1f2766" stroke-width="0.7" />
<circle cx="225.2" cy="1029.1" r="2.9" fill="#3d4a98" stroke="#1f2766" stroke-width="0.7" />
<circle cx="226" cy="1029.1" r="2.9" fill="#3d4a98" stroke="#1f2766" stroke-width="0.7" />
<circle cx="226.8" cy="1029.1" r="2.9" fill="#3d4a98" stroke="#1f2766" stroke-width="0.7" />
<circle cx="227.7" cy="1029.1" r="2.9" fill="#3d4a98" stroke="#1f2766" stroke-width="0.7" />
<circle cx="228.5" cy="1029.1" r="2.9" fill="#3d4a98" stroke="#1f2766" stroke-width="0.7" />
<circle cx="229.3" cy="1029.1" r="2.9" fill="#3d4a98" stroke="#1f2766" stroke-width="0.7" />
<circle cx="230.1" cy="1029.1" r="2.9" fill="#3d4a98" stroke="#1f2766" stroke-width="0.7" />
<circle cx="231" cy="1029.1" r="2.9" fill="#3d4a98" stroke="#1f2766" stroke-width="0.7" />
<circle cx="231.8" cy="1029.1" r="2.9" fill="#3d4a98" stroke="#1f2766" stroke-width="0.7" />
<circle cx="232.4" cy="1017.9" r="2.9" fill="#3d4a98" stroke="#1f2766" stroke-width="0.7" />
<circle cx="233.5" cy="1029.1" r="2.9" fill="#3d4a98" stroke="#1f2766" stroke-width="0.7" />
<circle cx="234.3" cy="1029.1" r="2.9" fill="#3d4a98" stroke="#1f2766" stroke-width="0.7" />
<circle cx="235.1" cy="1029.1" r="2.9" fill="#3d4a98" stroke="#1f2766" stroke-width="0.7" />
<circle cx="235.9" cy="1029.1" r="2.9" fill="#3d4a98" stroke="#1f2766" stroke-width="0.7" />
<circle cx="236.8" cy="1029.1" r="2.9" fill="#3d4a98" stroke="#1f2766" stroke-width="0.7" />
<circle cx="237.6" cy="1029.1" r="2.9" fill="#3d4a98" stroke="#1f2766" stroke-width="0.7" />
<circle cx="238.4" cy="1029.1" r="2.9" fill="#3d4a98" stroke="#1f2766" stroke-width="0.7" />
<circle cx="239.3" cy="1029.1" r="2.9" fill="#3d4a98" stroke="#1f2766" stroke-width="0.7" />
<circle cx="240.1" cy="1029.1" r="2.9" fill="#3d4a98" stroke="#1f2766" stroke-width="0.7" />
<circle cx="240.9" cy="1029.1" r="2.9" fill="#3d4a98" stroke="#1f2766" stroke-width="0.7" />
<circle cx="241.8" cy="1029.1" r="2.9" fill="#3d4a98" stroke="#1f2766" stroke-width="0.7" />
<circle cx="242.6" cy="1029.1" r="2.9" fill="#3d4a98" stroke="#1f2766" stroke-width="0.7" />
<circle cx="243.4" cy="1029.1" r="2.9" fill="#3d4a98" stroke="#1f2766" stroke-width="0.7" />
<circle cx="244.2" cy="985.1" r="2.9" fill="#3d4a98" stroke="#1f2766" stroke-width="0.7" />
<circle cx="244.9" cy="881.3" r="2.9" fill="#3d4a98" stroke="#1f2766" stroke-width="0.7" />
<circle cx="245.9" cy="1029.1" r="2.9" fill="#3d4a98" stroke="#1f2766" stroke-width="0.7" />
<circle cx="247" cy="881.3" r="2.9" fill="#3d4a98" stroke="#1f2766" stroke-width="0.7" />
<circle cx="247.7" cy="936.3" r="2.9" fill="#3d4a98" stroke="#1f2766" stroke-width="0.7" />
<circle cx="248.5" cy="881.3" r="2.9" fill="#3d4a98" stroke="#1f2766" stroke-width="0.7" />
<circle cx="249.2" cy="1029.1" r="2.9" fill="#3d4a98" stroke="#1f2766" stroke-width="0.7" />
<circle cx="250" cy="1029.1" r="2.9" fill="#3d4a98" stroke="#1f2766" stroke-width="0.7" />
<circle cx="250.9" cy="1029.1" r="2.9" fill="#3d4a98" stroke="#1f2766" stroke-width="0.7" />
<circle cx="251.7" cy="1029.1" r="2.9" fill="#3d4a98" stroke="#1f2766" stroke-width="0.7" />
<circle cx="252.5" cy="1029.1" r="2.9" fill="#3d4a98" stroke="#1f2766" stroke-width="0.7" />
<circle cx="253.4" cy="1029.1" r="2.9" fill="#3d4a98" stroke="#1f2766" stroke-width="0.7" />
<circle cx="254.2" cy="1029.1" r="2.9" fill="#3d4a98" stroke="#1f2766" stroke-width="0.7" />
<circle cx="255" cy="1029.1" r="2.9" fill="#3d4a98" stroke="#1f2766" stroke-width="0.7" />
<circle cx="255.8" cy="1029.1" r="2.9" fill="#3d4a98" stroke="#1f2766" stroke-width="0.7" />
<circle cx="256.7" cy="1029.1" r="2.9" fill="#3d4a98" stroke="#1f2766" stroke-width="0.7" />
<circle cx="257.8" cy="1008.4" r="2.9" fill="#3d4a98" stroke="#1f2766" stroke-width="0.7" />
<circle cx="258.3" cy="1029.1" r="2.9" fill="#3d4a98" stroke="#1f2766" stroke-width="0.7" />
<circle cx="259.5" cy="882.8" r="2.9" fill="#3d4a98" stroke="#1f2766" stroke-width="0.7" />
<circle cx="260" cy="1029.1" r="2.9" fill="#3d4a98" stroke="#1f2766" stroke-width="0.7" />
<circle cx="260.8" cy="1029.1" r="2.9" fill="#3d4a98" stroke="#1f2766" stroke-width="0.7" />
<circle cx="261.6" cy="1029.1" r="2.9" fill="#3d4a98" stroke="#1f2766" stroke-width="0.7" />
<circle cx="262.5" cy="1029.1" r="2.9" fill="#3d4a98" stroke="#1f2766" stroke-width="0.7" />
<circle cx="263.3" cy="1029.1" r="2.9" fill="#3d4a98" stroke="#1f2766" stroke-width="0.7" />
<circle cx="264.1" cy="1029.1" r="2.9" fill="#3d4a98" stroke="#1f2766" stroke-width="0.7" />
<circle cx="265" cy="1029.1" r="2.9" fill="#3d4a98" stroke="#1f2766" stroke-width="0.7" />
<circle cx="265.8" cy="1029.1" r="2.9" fill="#3d4a98" stroke="#1f2766" stroke-width="0.7" />
<circle cx="266.6" cy="1029.1" r="2.9" fill="#3d4a98" stroke="#1f2766" stroke-width="0.7" />
<circle cx="267.4" cy="1029.1" r="2.9" fill="#3d4a98" stroke="#1f2766" stroke-width="0.7" />
<circle cx="268.3" cy="1029.1" r="2.9" fill="#3d4a98" stroke="#1f2766" stroke-width="0.7" />
<circle cx="269.1" cy="1029.1" r="2.9" fill="#3d4a98" stroke="#1f2766" stroke-width="0.7" />
<circle cx="270.1" cy="959" r="2.9" fill="#3d4a98" stroke="#1f2766" stroke-width="0.7" />
<circle cx="270.8" cy="1029.1" r="2.9" fill="#3d4a98" stroke="#1f2766" stroke-width="0.7" />
<circle cx="271.6" cy="1029.1" r="2.9" fill="#3d4a98" stroke="#1f2766" stroke-width="0.7" />
<circle cx="272.4" cy="1029.1" r="2.9" fill="#3d4a98" stroke="#1f2766" stroke-width="0.7" />
<circle cx="273.1" cy="903.5" r="2.9" fill="#3d4a98" stroke="#1f2766" stroke-width="0.7" />
<circle cx="274.3" cy="881.3" r="2.9" fill="#3d4a98" stroke="#1f2766" stroke-width="0.7" />
<circle cx="274.9" cy="1029.1" r="2.9" fill="#3d4a98" stroke="#1f2766" stroke-width="0.7" />
<circle cx="275.7" cy="1029.1" r="2.9" fill="#3d4a98" stroke="#1f2766" stroke-width="0.7" />
<circle cx="276.8" cy="881.3" r="2.9" fill="#3d4a98" stroke="#1f2766" stroke-width="0.7" />
<circle cx="277.6" cy="1000.1" r="2.9" fill="#3d4a98" stroke="#1f2766" stroke-width="0.7" />
<circle cx="278.2" cy="1029.1" r="2.9" fill="#3d4a98" stroke="#1f2766" stroke-width="0.7" />
<circle cx="279.1" cy="1022" r="2.9" fill="#3d4a98" stroke="#1f2766" stroke-width="0.7" />
<circle cx="279.9" cy="1029.1" r="2.9" fill="#3d4a98" stroke="#1f2766" stroke-width="0.7" />
<circle cx="280.7" cy="1029.1" r="2.9" fill="#3d4a98" stroke="#1f2766" stroke-width="0.7" />
<circle cx="281.5" cy="1029.1" r="2.9" fill="#3d4a98" stroke="#1f2766" stroke-width="0.7" />
<circle cx="282.4" cy="1029.1" r="2.9" fill="#3d4a98" stroke="#1f2766" stroke-width="0.7" />
<circle cx="283.2" cy="1029.1" r="2.9" fill="#3d4a98" stroke="#1f2766" stroke-width="0.7" />
<circle cx="284" cy="1029.1" r="2.9" fill="#3d4a98" stroke="#1f2766" stroke-width="0.7" />
<circle cx="284.9" cy="1029.1" r="2.9" fill="#3d4a98" stroke="#1f2766" stroke-width="0.7" />
<circle cx="285.7" cy="1029.1" r="2.9" fill="#3d4a98" stroke="#1f2766" stroke-width="0.7" />
<circle cx="286.5" cy="1029.1" r="2.9" fill="#3d4a98" stroke="#1f2766" stroke-width="0.7" />
<circle cx="287.1" cy="953.7" r="2.9" fill="#3d4a98" stroke="#1f2766" stroke-width="0.7" />
<circle cx="287.9" cy="1020.2" r="2.9" fill="#3d4a98" stroke="#1f2766" stroke-width="0.7" />
<circle cx="289" cy="1029.1" r="2.9" fill="#3d4a98" stroke="#1f2766" stroke-width="0.7" />
<circle cx="289.8" cy="1029.1" r="2.9" fill="#3d4a98" stroke="#1f2766" stroke-width="0.7" />
<circle cx="290.7" cy="1029.1" r="2.9" fill="#3d4a98" stroke="#1f2766" stroke-width="0.7" />
<circle cx="291.5" cy="1029.1" r="2.9" fill="#3d4a98" stroke="#1f2766" stroke-width="0.7" />
<circle cx="292.3" cy="1029.1" r="2.9" fill="#3d4a98" stroke="#1f2766" stroke-width="0.7" />
<circle cx="293.1" cy="1029.1" r="2.9" fill="#3d4a98" stroke="#1f2766" stroke-width="0.7" />
<circle cx="294" cy="1029.1" r="2.9" fill="#3d4a98" stroke="#1f2766" stroke-width="0.7" />
<circle cx="294.8" cy="1029.1" r="2.9" fill="#3d4a98" stroke="#1f2766" stroke-width="0.7" />
<circle cx="295.6" cy="1029.1" r="2.9" fill="#3d4a98" stroke="#1f2766" stroke-width="0.7" />
<circle cx="296.5" cy="1029.1" r="2.9" fill="#3d4a98" stroke="#1f2766" stroke-width="0.7" />
<circle cx="297.3" cy="1029.1" r="2.9" fill="#3d4a98" stroke="#1f2766" stroke-width="0.7" />
<circle cx="298.1" cy="1029.1" r="2.9" fill="#3d4a98" stroke="#1f2766" stroke-width="0.7" />
<circle cx="299" cy="1029.1" r="2.9" fill="#3d4a98" stroke="#1f2766" stroke-width="0.7" />
<circle cx="299.8" cy="1029.1" r="2.9" fill="#3d4a98" stroke="#1f2766" stroke-width="0.7" />
<circle cx="300.6" cy="1029.1" r="2.9" fill="#3d4a98" stroke="#1f2766" stroke-width="0.7" />
<circle cx="301.4" cy="1029.1" r="2.9" fill="#3d4a98" stroke="#1f2766" stroke-width="0.7" />
<circle cx="302.3" cy="1029.1" r="2.9" fill="#3d4a98" stroke="#1f2766" stroke-width="0.7" />
<circle cx="303.1" cy="1029.1" r="2.9" fill="#3d4a98" stroke="#1f2766" stroke-width="0.7" />
<circle cx="303.9" cy="1029.1" r="2.9" fill="#3d4a98" stroke="#1f2766" stroke-width="0.7" />
<circle cx="304.8" cy="1029.1" r="2.9" fill="#3d4a98" stroke="#1f2766" stroke-width="0.7" />
<circle cx="305.6" cy="1029.1" r="2.9" fill="#3d4a98" stroke="#1f2766" stroke-width="0.7" />
<circle cx="306.4" cy="1029.1" r="2.9" fill="#3d4a98" stroke="#1f2766" stroke-width="0.7" />
<circle cx="307.2" cy="1029.1" r="2.9" fill="#3d4a98" stroke="#1f2766" stroke-width="0.7" />
<circle cx="308.1" cy="1029.1" r="2.9" fill="#3d4a98" stroke="#1f2766" stroke-width="0.7" />
<circle cx="308.9" cy="1029.1" r="2.9" fill="#3d4a98" stroke="#1f2766" stroke-width="0.7" />
<circle cx="309.7" cy="1029.1" r="2.9" fill="#3d4a98" stroke="#1f2766" stroke-width="0.7" />
<circle cx="310.6" cy="1029.1" r="2.9" fill="#3d4a98" stroke="#1f2766" stroke-width="0.7" />
<circle cx="311.4" cy="1029.1" r="2.9" fill="#3d4a98" stroke="#1f2766" stroke-width="0.7" />
<circle cx="312.2" cy="1029.1" r="2.9" fill="#3d4a98" stroke="#1f2766" stroke-width="0.7" />
<circle cx="313" cy="1029.1" r="2.9" fill="#3d4a98" stroke="#1f2766" stroke-width="0.7" />
<circle cx="314.3" cy="1021.4" r="2.9" fill="#3d4a98" stroke="#1f2766" stroke-width="0.7" />
<circle cx="314.7" cy="1029.1" r="2.9" fill="#3d4a98" stroke="#1f2766" stroke-width="0.7" />
<circle cx="315.5" cy="1029.1" r="2.9" fill="#3d4a98" stroke="#1f2766" stroke-width="0.7" />
<circle cx="316.4" cy="1029.1" r="2.9" fill="#3d4a98" stroke="#1f2766" stroke-width="0.7" />
<circle cx="317.2" cy="1029.1" r="2.9" fill="#3d4a98" stroke="#1f2766" stroke-width="0.7" />
<circle cx="318" cy="1029.1" r="2.9" fill="#3d4a98" stroke="#1f2766" stroke-width="0.7" />
<circle cx="318.8" cy="1029.1" r="2.9" fill="#3d4a98" stroke="#1f2766" stroke-width="0.7" />
<circle cx="319.7" cy="1029.1" r="2.9" fill="#3d4a98" stroke="#1f2766" stroke-width="0.7" />
<circle cx="320.5" cy="1029.1" r="2.9" fill="#3d4a98" stroke="#1f2766" stroke-width="0.7" />
<circle cx="321.3" cy="1029.1" r="2.9" fill="#3d4a98" stroke="#1f2766" stroke-width="0.7" />
<circle cx="322.2" cy="1029.1" r="2.9" fill="#3d4a98" stroke="#1f2766" stroke-width="0.7" />
<circle cx="323" cy="1029.1" r="2.9" fill="#3d4a98" stroke="#1f2766" stroke-width="0.7" />
<circle cx="323.8" cy="1029.1" r="2.9" fill="#3d4a98" stroke="#1f2766" stroke-width="0.7" />
<circle cx="324.3" cy="1024.4" r="2.9" fill="#3d4a98" stroke="#1f2766" stroke-width="0.7" />
<circle cx="325.6" cy="881.3" r="2.9" fill="#3d4a98" stroke="#1f2766" stroke-width="0.7" />
<circle cx="326.3" cy="1015.2" r="2.9" fill="#3d4a98" stroke="#1f2766" stroke-width="0.7" />
<circle cx="327.1" cy="1029.1" r="2.9" fill="#3d4a98" stroke="#1f2766" stroke-width="0.7" />
<circle cx="328" cy="1029.1" r="2.9" fill="#3d4a98" stroke="#1f2766" stroke-width="0.7" />
<circle cx="328.8" cy="1029.1" r="2.9" fill="#3d4a98" stroke="#1f2766" stroke-width="0.7" />
<circle cx="329.6" cy="1029.1" r="2.9" fill="#3d4a98" stroke="#1f2766" stroke-width="0.7" />
<circle cx="330.5" cy="1029.1" r="2.9" fill="#3d4a98" stroke="#1f2766" stroke-width="0.7" />
<circle cx="331.3" cy="1029.1" r="2.9" fill="#3d4a98" stroke="#1f2766" stroke-width="0.7" />
<circle cx="332.1" cy="1019.6" r="2.9" fill="#3d4a98" stroke="#1f2766" stroke-width="0.7" />
<circle cx="332.9" cy="1029.1" r="2.9" fill="#3d4a98" stroke="#1f2766" stroke-width="0.7" />
<circle cx="333.8" cy="1029.1" r="2.9" fill="#3d4a98" stroke="#1f2766" stroke-width="0.7" />
<circle cx="334.6" cy="1029.1" r="2.9" fill="#3d4a98" stroke="#1f2766" stroke-width="0.7" />
<circle cx="335.1" cy="1019.6" r="2.9" fill="#3d4a98" stroke="#1f2766" stroke-width="0.7" />
<circle cx="335.6" cy="896.4" r="2.9" fill="#3d4a98" stroke="#1f2766" stroke-width="0.7" />
<circle cx="336.3" cy="1029.1" r="2.9" fill="#3d4a98" stroke="#1f2766" stroke-width="0.7" />
<circle cx="337.1" cy="1029.1" r="2.9" fill="#3d4a98" stroke="#1f2766" stroke-width="0.7" />
<circle cx="337.9" cy="1029.1" r="2.9" fill="#3d4a98" stroke="#1f2766" stroke-width="0.7" />
<circle cx="338.7" cy="1029.1" r="2.9" fill="#3d4a98" stroke="#1f2766" stroke-width="0.7" />
<circle cx="339.6" cy="1029.1" r="2.9" fill="#3d4a98" stroke="#1f2766" stroke-width="0.7" />
<circle cx="340.4" cy="1029.1" r="2.9" fill="#3d4a98" stroke="#1f2766" stroke-width="0.7" />
<circle cx="341.2" cy="1029.1" r="2.9" fill="#3d4a98" stroke="#1f2766" stroke-width="0.7" />
<circle cx="342.1" cy="1029.1" r="2.9" fill="#3d4a98" stroke="#1f2766" stroke-width="0.7" />
<circle cx="342.9" cy="1029.1" r="2.9" fill="#3d4a98" stroke="#1f2766" stroke-width="0.7" />
<circle cx="343.7" cy="1029.1" r="2.9" fill="#3d4a98" stroke="#1f2766" stroke-width="0.7" />
<circle cx="344.5" cy="1029.1" r="2.9" fill="#3d4a98" stroke="#1f2766" stroke-width="0.7" />
<circle cx="345.4" cy="1029.1" r="2.9" fill="#3d4a98" stroke="#1f2766" stroke-width="0.7" />
<circle cx="346.2" cy="1029.1" r="2.9" fill="#3d4a98" stroke="#1f2766" stroke-width="0.7" />
<circle cx="347.4" cy="1013.1" r="2.9" fill="#3d4a98" stroke="#1f2766" stroke-width="0.7" />
<circle cx="347.9" cy="1029.1" r="2.9" fill="#3d4a98" stroke="#1f2766" stroke-width="0.7" />
<circle cx="348.7" cy="1029.1" r="2.9" fill="#3d4a98" stroke="#1f2766" stroke-width="0.7" />
<circle cx="349.5" cy="1029.1" r="2.9" fill="#3d4a98" stroke="#1f2766" stroke-width="0.7" />
<circle cx="350.3" cy="1029.1" r="2.9" fill="#3d4a98" stroke="#1f2766" stroke-width="0.7" />
<circle cx="351.2" cy="1029.1" r="2.9" fill="#3d4a98" stroke="#1f2766" stroke-width="0.7" />
<line x1="100" y1="863.5" x2="100" y2="1040.5" stroke="#555" stroke-width="1.5" />
<line x1="100" y1="1039.8" x2="352" y2="1039.8" stroke="#555" stroke-width="1.5" />
<line x1="100" y1="1039.8" x2="100" y2="1035.5" stroke="#555" stroke-width="1.4" />
<text x="100.5" y="1059" font-size="13.57" font-weight="bold" fill="#222" text-anchor="middle">0</text>
<line x1="150.2" y1="1039.8" x2="150.2" y2="1035.5" stroke="#555" stroke-width="1.4" />
<text x="150.7" y="1059" font-size="13.57" font-weight="bold" fill="#222" text-anchor="middle">20</text>
<line x1="200.5" y1="1039.8" x2="200.5" y2="1035.5" stroke="#555" stroke-width="1.4" />
<text x="201" y="1059" font-size="13.57" font-weight="bold" fill="#222" text-anchor="middle">40</text>
<line x1="250.7" y1="1039.8" x2="250.7" y2="1035.5" stroke="#555" stroke-width="1.4" />
<text x="251.2" y="1059" font-size="13.57" font-weight="bold" fill="#222" text-anchor="middle">60</text>
<line x1="301" y1="1039.8" x2="301" y2="1035.5" stroke="#555" stroke-width="1.4" />
<text x="301.5" y="1059" font-size="13.57" font-weight="bold" fill="#222" text-anchor="middle">80</text>
<line x1="351.2" y1="1039.8" x2="351.2" y2="1035.5" stroke="#555" stroke-width="1.4" />
<text x="351.7" y="1059" font-size="13.57" font-weight="bold" fill="#222" text-anchor="middle">100</text>
<line x1="100" y1="1029.1" x2="104" y2="1029.1" stroke="#555" stroke-width="1.4" />
<text x="93.6" y="1033.9" font-size="13.57" font-weight="bold" fill="#222" text-anchor="end">0</text>
<line x1="100" y1="881.3" x2="104" y2="881.3" stroke="#555" stroke-width="1.4" />
<text x="93.4" y="886.1" font-size="13.77" font-weight="bold" fill="#222" text-anchor="end">5</text>
<text x="167.2" y="852.7" font-size="15.65" fill="#111" font-weight="bold" textLength="10.18" lengthAdjust="spacingAndGlyphs" >V</text>
<text x="177.6" y="858.6" font-size="13.04" fill="#111" font-weight="bold" textLength="14.48" lengthAdjust="spacingAndGlyphs" >IN</text>
<text x="194" y="852.7" font-size="15.43" fill="#111" font-weight="bold" textLength="78.30" lengthAdjust="spacingAndGlyphs" >= 1.875&#160; V</text>
<text x="176.6" y="1082.7" font-size="14.76" fill="#111" font-weight="bold" textLength="76.17" lengthAdjust="spacingAndGlyphs" >Time (ms)</text>
<text transform="translate(79.1,987.3) rotate(-90)" x="-0.1" y="0" font-size="16.52" fill="#111" font-weight="bold" textLength="10.79" lengthAdjust="spacingAndGlyphs">V</text>
<text transform="translate(85.3,977.4) rotate(-90)" x="-0.5" y="0" font-size="12.00" fill="#111" font-weight="bold" textLength="24.80" lengthAdjust="spacingAndGlyphs">OUT</text>
<text transform="translate(79.1,947.7) rotate(-90)" x="-0.8" y="0" font-size="16.28" fill="#111" font-weight="bold" textLength="21.48" lengthAdjust="spacingAndGlyphs">(V)</text>
<polyline points="437.2,881.3 438.3,1029.1 439.4,1026.7 440.6,881.3 441.7,1029.1 442.9,881.3 443.6,1004.1 445.1,881.3 446.2,1029.1 447.2,1015.5 448.5,881.3 449.6,994.5 450.8,1029.1 451.9,881.3 453,881.3 454.2,1029.1 454.9,947.5 456.4,881.3 457.5,881.3 458.4,890.3 459.8,881.3 460.9,881.3 462.1,1029.1 463.2,881.3 464.3,881.3 465.5,881.3 466.6,881.3 468,904.6 468.9,1029.1 470,881.3 471.1,881.3 471.8,1010.7 473.9,899.1 474.5,1029.1 475.8,1001.7 476.8,881.3 477.9,881.3 479,881.3 479.9,888.9 481.3,1029.1 482.4,881.3 483.5,881.3 484.7,881.3 485.8,881.3 487,1014.3 488.1,881.3 489.2,881.3 490.3,1029.1 491.5,881.3 492.5,1001.2 494.2,989 494.9,881.3 496,881.3 497.3,1022.2 498,921.8 499.4,881.3 500.9,894.4 501.6,881.3 502.8,881.3 503.9,1029.1 505,881.3 506.1,906.3 507.3,1029.1 508.4,881.3 509.5,881.3 510.7,881.3 511.8,881.3 512.9,881.3 514.1,881.3 515.2,1029.1 516.3,881.3 517.5,1029.1 518.6,881.3 519.7,1029.1 520.8,881.3 522,881.3 523.1,1029.1 524.2,881.3 525.4,881.3 526.5,881.3 527.6,904.6 528.3,897.2 529.9,881.3 531,881.3 532.2,881.3 533.3,881.3 534.4,1029.1 535.4,983.1 536.7,1029.1 537.8,1018.4 538.5,993.3 540.1,1029.1 541.2,881.3 542.3,881.3 543.8,988.6 544.6,881.3 545.7,881.3 546.7,987.4 547.4,929 548,881.3 549,1016 550.2,914.6 551.4,890.1 552.5,1029.1 553.6,881.3 554.8,1029.1 555.9,881.3 557,881.3 558.2,881.3 559.3,881.3 560.4,881.3 561.5,1029.1 562.2,961.1 563.8,881.3 565.2,892.7 566.1,881.3 567.2,1029.1 568.3,881.3 569.5,990.9 570.6,881.3 571.7,881.3 572.8,881.3 574,881.3 575.1,881.3 576.2,881.3 577.4,881.3 578.4,926.6 579.6,881.3 580.8,1029.1 581.9,888.4 583,881.3 584.2,881.3 585.3,881.3 586.4,881.3 587.5,1029.1 588.6,944.9 589.8,1029.1 591,892 592.1,881.3 593.2,881.3 594.3,881.3 595.5,881.3 596.6,881.3 597.7,881.3 598.8,881.3 600,1029.1 601.1,881.3 602.7,929.7 603.4,881.3 604.5,881.3 605.6,881.3 606.8,881.3 608.2,1026.7 609.4,915.8 610.2,881.3 611.7,998.1 612.4,881.3 613.4,974.3 614.7,881.3 615.8,1029.1 617,950.6 618.1,1029.1 619.2,881.3 620.3,915.4 621.5,1029.1 622.6,881.3 623.7,881.3 624.8,881.3 626,881.3 627.1,881.3 628.2,881.3 629.4,1029.1 630.5,881.3 631.6,1029.1 632.8,881.3 634.4,968.3 635,881.3 636.2,1029.1 637.3,881.3 638,977.8 639.6,1014.3 640.8,1007.6 641.8,881.3 642.9,881.3 644.1,881.3 645.2,881.3 646.3,1029.1 647.5,881.3 648.6,881.3 649.7,881.3 650.8,881.3 652,881.3 653.1,881.3 654.2,881.3 655.4,881.3 656.3,1016.7 657.6,881.3 658.8,1029.1 659.9,881.3 661,881.3 662.1,881.3 663.3,881.3 664.4,881.3 665.5,881.3 666.7,881.3 668.3,952.3 668.9,881.3 670.1,881.3 670.6,998.8 672.8,923 673.5,881.3 674.6,1029.1 675.7,881.3 676.8,881.3 678,1029.1 679.1,881.3 680.2,881.3 681.4,881.3 682.5,1029.1 683.6,881.3 684.8,881.3 686.1,918.7 687,881.3 688.1,1029.1" stroke="#96a3d8" stroke-width="0.8" fill="none" />
<circle cx="437.2" cy="881.3" r="2.9" fill="#3d4a98" stroke="#1f2766" stroke-width="0.7" />
<circle cx="438.3" cy="1029.1" r="2.9" fill="#3d4a98" stroke="#1f2766" stroke-width="0.7" />
<circle cx="439.4" cy="1026.7" r="2.9" fill="#3d4a98" stroke="#1f2766" stroke-width="0.7" />
<circle cx="440.6" cy="881.3" r="2.9" fill="#3d4a98" stroke="#1f2766" stroke-width="0.7" />
<circle cx="441.7" cy="1029.1" r="2.9" fill="#3d4a98" stroke="#1f2766" stroke-width="0.7" />
<circle cx="442.9" cy="881.3" r="2.9" fill="#3d4a98" stroke="#1f2766" stroke-width="0.7" />
<circle cx="443.6" cy="1004.1" r="2.9" fill="#3d4a98" stroke="#1f2766" stroke-width="0.7" />
<circle cx="445.1" cy="881.3" r="2.9" fill="#3d4a98" stroke="#1f2766" stroke-width="0.7" />
<circle cx="446.2" cy="1029.1" r="2.9" fill="#3d4a98" stroke="#1f2766" stroke-width="0.7" />
<circle cx="447.2" cy="1015.5" r="2.9" fill="#3d4a98" stroke="#1f2766" stroke-width="0.7" />
<circle cx="448.5" cy="881.3" r="2.9" fill="#3d4a98" stroke="#1f2766" stroke-width="0.7" />
<circle cx="449.6" cy="994.5" r="2.9" fill="#3d4a98" stroke="#1f2766" stroke-width="0.7" />
<circle cx="450.8" cy="1029.1" r="2.9" fill="#3d4a98" stroke="#1f2766" stroke-width="0.7" />
<circle cx="451.9" cy="881.3" r="2.9" fill="#3d4a98" stroke="#1f2766" stroke-width="0.7" />
<circle cx="453" cy="881.3" r="2.9" fill="#3d4a98" stroke="#1f2766" stroke-width="0.7" />
<circle cx="454.2" cy="1029.1" r="2.9" fill="#3d4a98" stroke="#1f2766" stroke-width="0.7" />
<circle cx="454.9" cy="947.5" r="2.9" fill="#3d4a98" stroke="#1f2766" stroke-width="0.7" />
<circle cx="456.4" cy="881.3" r="2.9" fill="#3d4a98" stroke="#1f2766" stroke-width="0.7" />
<circle cx="457.5" cy="881.3" r="2.9" fill="#3d4a98" stroke="#1f2766" stroke-width="0.7" />
<circle cx="458.4" cy="890.3" r="2.9" fill="#3d4a98" stroke="#1f2766" stroke-width="0.7" />
<circle cx="459.8" cy="881.3" r="2.9" fill="#3d4a98" stroke="#1f2766" stroke-width="0.7" />
<circle cx="460.9" cy="881.3" r="2.9" fill="#3d4a98" stroke="#1f2766" stroke-width="0.7" />
<circle cx="462.1" cy="1029.1" r="2.9" fill="#3d4a98" stroke="#1f2766" stroke-width="0.7" />
<circle cx="463.2" cy="881.3" r="2.9" fill="#3d4a98" stroke="#1f2766" stroke-width="0.7" />
<circle cx="464.3" cy="881.3" r="2.9" fill="#3d4a98" stroke="#1f2766" stroke-width="0.7" />
<circle cx="465.5" cy="881.3" r="2.9" fill="#3d4a98" stroke="#1f2766" stroke-width="0.7" />
<circle cx="466.6" cy="881.3" r="2.9" fill="#3d4a98" stroke="#1f2766" stroke-width="0.7" />
<circle cx="468" cy="904.6" r="2.9" fill="#3d4a98" stroke="#1f2766" stroke-width="0.7" />
<circle cx="468.9" cy="1029.1" r="2.9" fill="#3d4a98" stroke="#1f2766" stroke-width="0.7" />
<circle cx="470" cy="881.3" r="2.9" fill="#3d4a98" stroke="#1f2766" stroke-width="0.7" />
<circle cx="471.1" cy="881.3" r="2.9" fill="#3d4a98" stroke="#1f2766" stroke-width="0.7" />
<circle cx="471.8" cy="1010.7" r="2.9" fill="#3d4a98" stroke="#1f2766" stroke-width="0.7" />
<circle cx="473.9" cy="899.1" r="2.9" fill="#3d4a98" stroke="#1f2766" stroke-width="0.7" />
<circle cx="474.5" cy="1029.1" r="2.9" fill="#3d4a98" stroke="#1f2766" stroke-width="0.7" />
<circle cx="475.8" cy="1001.7" r="2.9" fill="#3d4a98" stroke="#1f2766" stroke-width="0.7" />
<circle cx="476.8" cy="881.3" r="2.9" fill="#3d4a98" stroke="#1f2766" stroke-width="0.7" />
<circle cx="477.9" cy="881.3" r="2.9" fill="#3d4a98" stroke="#1f2766" stroke-width="0.7" />
<circle cx="479" cy="881.3" r="2.9" fill="#3d4a98" stroke="#1f2766" stroke-width="0.7" />
<circle cx="479.9" cy="888.9" r="2.9" fill="#3d4a98" stroke="#1f2766" stroke-width="0.7" />
<circle cx="481.3" cy="1029.1" r="2.9" fill="#3d4a98" stroke="#1f2766" stroke-width="0.7" />
<circle cx="482.4" cy="881.3" r="2.9" fill="#3d4a98" stroke="#1f2766" stroke-width="0.7" />
<circle cx="483.5" cy="881.3" r="2.9" fill="#3d4a98" stroke="#1f2766" stroke-width="0.7" />
<circle cx="484.7" cy="881.3" r="2.9" fill="#3d4a98" stroke="#1f2766" stroke-width="0.7" />
<circle cx="485.8" cy="881.3" r="2.9" fill="#3d4a98" stroke="#1f2766" stroke-width="0.7" />
<circle cx="487" cy="1014.3" r="2.9" fill="#3d4a98" stroke="#1f2766" stroke-width="0.7" />
<circle cx="488.1" cy="881.3" r="2.9" fill="#3d4a98" stroke="#1f2766" stroke-width="0.7" />
<circle cx="489.2" cy="881.3" r="2.9" fill="#3d4a98" stroke="#1f2766" stroke-width="0.7" />
<circle cx="490.3" cy="1029.1" r="2.9" fill="#3d4a98" stroke="#1f2766" stroke-width="0.7" />
<circle cx="491.5" cy="881.3" r="2.9" fill="#3d4a98" stroke="#1f2766" stroke-width="0.7" />
<circle cx="492.5" cy="1001.2" r="2.9" fill="#3d4a98" stroke="#1f2766" stroke-width="0.7" />
<circle cx="494.2" cy="989" r="2.9" fill="#3d4a98" stroke="#1f2766" stroke-width="0.7" />
<circle cx="494.9" cy="881.3" r="2.9" fill="#3d4a98" stroke="#1f2766" stroke-width="0.7" />
<circle cx="496" cy="881.3" r="2.9" fill="#3d4a98" stroke="#1f2766" stroke-width="0.7" />
<circle cx="497.3" cy="1022.2" r="2.9" fill="#3d4a98" stroke="#1f2766" stroke-width="0.7" />
<circle cx="498" cy="921.8" r="2.9" fill="#3d4a98" stroke="#1f2766" stroke-width="0.7" />
<circle cx="499.4" cy="881.3" r="2.9" fill="#3d4a98" stroke="#1f2766" stroke-width="0.7" />
<circle cx="500.9" cy="894.4" r="2.9" fill="#3d4a98" stroke="#1f2766" stroke-width="0.7" />
<circle cx="501.6" cy="881.3" r="2.9" fill="#3d4a98" stroke="#1f2766" stroke-width="0.7" />
<circle cx="502.8" cy="881.3" r="2.9" fill="#3d4a98" stroke="#1f2766" stroke-width="0.7" />
<circle cx="503.9" cy="1029.1" r="2.9" fill="#3d4a98" stroke="#1f2766" stroke-width="0.7" />
<circle cx="505" cy="881.3" r="2.9" fill="#3d4a98" stroke="#1f2766" stroke-width="0.7" />
<circle cx="506.1" cy="906.3" r="2.9" fill="#3d4a98" stroke="#1f2766" stroke-width="0.7" />
<circle cx="507.3" cy="1029.1" r="2.9" fill="#3d4a98" stroke="#1f2766" stroke-width="0.7" />
<circle cx="508.4" cy="881.3" r="2.9" fill="#3d4a98" stroke="#1f2766" stroke-width="0.7" />
<circle cx="509.5" cy="881.3" r="2.9" fill="#3d4a98" stroke="#1f2766" stroke-width="0.7" />
<circle cx="510.7" cy="881.3" r="2.9" fill="#3d4a98" stroke="#1f2766" stroke-width="0.7" />
<circle cx="511.8" cy="881.3" r="2.9" fill="#3d4a98" stroke="#1f2766" stroke-width="0.7" />
<circle cx="512.9" cy="881.3" r="2.9" fill="#3d4a98" stroke="#1f2766" stroke-width="0.7" />
<circle cx="514.1" cy="881.3" r="2.9" fill="#3d4a98" stroke="#1f2766" stroke-width="0.7" />
<circle cx="515.2" cy="1029.1" r="2.9" fill="#3d4a98" stroke="#1f2766" stroke-width="0.7" />
<circle cx="516.3" cy="881.3" r="2.9" fill="#3d4a98" stroke="#1f2766" stroke-width="0.7" />
<circle cx="517.5" cy="1029.1" r="2.9" fill="#3d4a98" stroke="#1f2766" stroke-width="0.7" />
<circle cx="518.6" cy="881.3" r="2.9" fill="#3d4a98" stroke="#1f2766" stroke-width="0.7" />
<circle cx="519.7" cy="1029.1" r="2.9" fill="#3d4a98" stroke="#1f2766" stroke-width="0.7" />
<circle cx="520.8" cy="881.3" r="2.9" fill="#3d4a98" stroke="#1f2766" stroke-width="0.7" />
<circle cx="522" cy="881.3" r="2.9" fill="#3d4a98" stroke="#1f2766" stroke-width="0.7" />
<circle cx="523.1" cy="1029.1" r="2.9" fill="#3d4a98" stroke="#1f2766" stroke-width="0.7" />
<circle cx="524.2" cy="881.3" r="2.9" fill="#3d4a98" stroke="#1f2766" stroke-width="0.7" />
<circle cx="525.4" cy="881.3" r="2.9" fill="#3d4a98" stroke="#1f2766" stroke-width="0.7" />
<circle cx="526.5" cy="881.3" r="2.9" fill="#3d4a98" stroke="#1f2766" stroke-width="0.7" />
<circle cx="527.6" cy="904.6" r="2.9" fill="#3d4a98" stroke="#1f2766" stroke-width="0.7" />
<circle cx="528.3" cy="897.2" r="2.9" fill="#3d4a98" stroke="#1f2766" stroke-width="0.7" />
<circle cx="529.9" cy="881.3" r="2.9" fill="#3d4a98" stroke="#1f2766" stroke-width="0.7" />
<circle cx="531" cy="881.3" r="2.9" fill="#3d4a98" stroke="#1f2766" stroke-width="0.7" />
<circle cx="532.2" cy="881.3" r="2.9" fill="#3d4a98" stroke="#1f2766" stroke-width="0.7" />
<circle cx="533.3" cy="881.3" r="2.9" fill="#3d4a98" stroke="#1f2766" stroke-width="0.7" />
<circle cx="534.4" cy="1029.1" r="2.9" fill="#3d4a98" stroke="#1f2766" stroke-width="0.7" />
<circle cx="535.4" cy="983.1" r="2.9" fill="#3d4a98" stroke="#1f2766" stroke-width="0.7" />
<circle cx="536.7" cy="1029.1" r="2.9" fill="#3d4a98" stroke="#1f2766" stroke-width="0.7" />
<circle cx="537.8" cy="1018.4" r="2.9" fill="#3d4a98" stroke="#1f2766" stroke-width="0.7" />
<circle cx="538.5" cy="993.3" r="2.9" fill="#3d4a98" stroke="#1f2766" stroke-width="0.7" />
<circle cx="540.1" cy="1029.1" r="2.9" fill="#3d4a98" stroke="#1f2766" stroke-width="0.7" />
<circle cx="541.2" cy="881.3" r="2.9" fill="#3d4a98" stroke="#1f2766" stroke-width="0.7" />
<circle cx="542.3" cy="881.3" r="2.9" fill="#3d4a98" stroke="#1f2766" stroke-width="0.7" />
<circle cx="543.8" cy="988.6" r="2.9" fill="#3d4a98" stroke="#1f2766" stroke-width="0.7" />
<circle cx="544.6" cy="881.3" r="2.9" fill="#3d4a98" stroke="#1f2766" stroke-width="0.7" />
<circle cx="545.7" cy="881.3" r="2.9" fill="#3d4a98" stroke="#1f2766" stroke-width="0.7" />
<circle cx="546.7" cy="987.4" r="2.9" fill="#3d4a98" stroke="#1f2766" stroke-width="0.7" />
<circle cx="547.4" cy="929" r="2.9" fill="#3d4a98" stroke="#1f2766" stroke-width="0.7" />
<circle cx="548" cy="881.3" r="2.9" fill="#3d4a98" stroke="#1f2766" stroke-width="0.7" />
<circle cx="549" cy="1016" r="2.9" fill="#3d4a98" stroke="#1f2766" stroke-width="0.7" />
<circle cx="550.2" cy="914.6" r="2.9" fill="#3d4a98" stroke="#1f2766" stroke-width="0.7" />
<circle cx="551.4" cy="890.1" r="2.9" fill="#3d4a98" stroke="#1f2766" stroke-width="0.7" />
<circle cx="552.5" cy="1029.1" r="2.9" fill="#3d4a98" stroke="#1f2766" stroke-width="0.7" />
<circle cx="553.6" cy="881.3" r="2.9" fill="#3d4a98" stroke="#1f2766" stroke-width="0.7" />
<circle cx="554.8" cy="1029.1" r="2.9" fill="#3d4a98" stroke="#1f2766" stroke-width="0.7" />
<circle cx="555.9" cy="881.3" r="2.9" fill="#3d4a98" stroke="#1f2766" stroke-width="0.7" />
<circle cx="557" cy="881.3" r="2.9" fill="#3d4a98" stroke="#1f2766" stroke-width="0.7" />
<circle cx="558.2" cy="881.3" r="2.9" fill="#3d4a98" stroke="#1f2766" stroke-width="0.7" />
<circle cx="559.3" cy="881.3" r="2.9" fill="#3d4a98" stroke="#1f2766" stroke-width="0.7" />
<circle cx="560.4" cy="881.3" r="2.9" fill="#3d4a98" stroke="#1f2766" stroke-width="0.7" />
<circle cx="561.5" cy="1029.1" r="2.9" fill="#3d4a98" stroke="#1f2766" stroke-width="0.7" />
<circle cx="562.2" cy="961.1" r="2.9" fill="#3d4a98" stroke="#1f2766" stroke-width="0.7" />
<circle cx="563.8" cy="881.3" r="2.9" fill="#3d4a98" stroke="#1f2766" stroke-width="0.7" />
<circle cx="565.2" cy="892.7" r="2.9" fill="#3d4a98" stroke="#1f2766" stroke-width="0.7" />
<circle cx="566.1" cy="881.3" r="2.9" fill="#3d4a98" stroke="#1f2766" stroke-width="0.7" />
<circle cx="567.2" cy="1029.1" r="2.9" fill="#3d4a98" stroke="#1f2766" stroke-width="0.7" />
<circle cx="568.3" cy="881.3" r="2.9" fill="#3d4a98" stroke="#1f2766" stroke-width="0.7" />
<circle cx="569.5" cy="990.9" r="2.9" fill="#3d4a98" stroke="#1f2766" stroke-width="0.7" />
<circle cx="570.6" cy="881.3" r="2.9" fill="#3d4a98" stroke="#1f2766" stroke-width="0.7" />
<circle cx="571.7" cy="881.3" r="2.9" fill="#3d4a98" stroke="#1f2766" stroke-width="0.7" />
<circle cx="572.8" cy="881.3" r="2.9" fill="#3d4a98" stroke="#1f2766" stroke-width="0.7" />
<circle cx="574" cy="881.3" r="2.9" fill="#3d4a98" stroke="#1f2766" stroke-width="0.7" />
<circle cx="575.1" cy="881.3" r="2.9" fill="#3d4a98" stroke="#1f2766" stroke-width="0.7" />
<circle cx="576.2" cy="881.3" r="2.9" fill="#3d4a98" stroke="#1f2766" stroke-width="0.7" />
<circle cx="577.4" cy="881.3" r="2.9" fill="#3d4a98" stroke="#1f2766" stroke-width="0.7" />
<circle cx="578.4" cy="926.6" r="2.9" fill="#3d4a98" stroke="#1f2766" stroke-width="0.7" />
<circle cx="579.6" cy="881.3" r="2.9" fill="#3d4a98" stroke="#1f2766" stroke-width="0.7" />
<circle cx="580.8" cy="1029.1" r="2.9" fill="#3d4a98" stroke="#1f2766" stroke-width="0.7" />
<circle cx="581.9" cy="888.4" r="2.9" fill="#3d4a98" stroke="#1f2766" stroke-width="0.7" />
<circle cx="583" cy="881.3" r="2.9" fill="#3d4a98" stroke="#1f2766" stroke-width="0.7" />
<circle cx="584.2" cy="881.3" r="2.9" fill="#3d4a98" stroke="#1f2766" stroke-width="0.7" />
<circle cx="585.3" cy="881.3" r="2.9" fill="#3d4a98" stroke="#1f2766" stroke-width="0.7" />
<circle cx="586.4" cy="881.3" r="2.9" fill="#3d4a98" stroke="#1f2766" stroke-width="0.7" />
<circle cx="587.5" cy="1029.1" r="2.9" fill="#3d4a98" stroke="#1f2766" stroke-width="0.7" />
<circle cx="588.6" cy="944.9" r="2.9" fill="#3d4a98" stroke="#1f2766" stroke-width="0.7" />
<circle cx="589.8" cy="1029.1" r="2.9" fill="#3d4a98" stroke="#1f2766" stroke-width="0.7" />
<circle cx="591" cy="892" r="2.9" fill="#3d4a98" stroke="#1f2766" stroke-width="0.7" />
<circle cx="592.1" cy="881.3" r="2.9" fill="#3d4a98" stroke="#1f2766" stroke-width="0.7" />
<circle cx="593.2" cy="881.3" r="2.9" fill="#3d4a98" stroke="#1f2766" stroke-width="0.7" />
<circle cx="594.3" cy="881.3" r="2.9" fill="#3d4a98" stroke="#1f2766" stroke-width="0.7" />
<circle cx="595.5" cy="881.3" r="2.9" fill="#3d4a98" stroke="#1f2766" stroke-width="0.7" />
<circle cx="596.6" cy="881.3" r="2.9" fill="#3d4a98" stroke="#1f2766" stroke-width="0.7" />
<circle cx="597.7" cy="881.3" r="2.9" fill="#3d4a98" stroke="#1f2766" stroke-width="0.7" />
<circle cx="598.8" cy="881.3" r="2.9" fill="#3d4a98" stroke="#1f2766" stroke-width="0.7" />
<circle cx="600" cy="1029.1" r="2.9" fill="#3d4a98" stroke="#1f2766" stroke-width="0.7" />
<circle cx="601.1" cy="881.3" r="2.9" fill="#3d4a98" stroke="#1f2766" stroke-width="0.7" />
<circle cx="602.7" cy="929.7" r="2.9" fill="#3d4a98" stroke="#1f2766" stroke-width="0.7" />
<circle cx="603.4" cy="881.3" r="2.9" fill="#3d4a98" stroke="#1f2766" stroke-width="0.7" />
<circle cx="604.5" cy="881.3" r="2.9" fill="#3d4a98" stroke="#1f2766" stroke-width="0.7" />
<circle cx="605.6" cy="881.3" r="2.9" fill="#3d4a98" stroke="#1f2766" stroke-width="0.7" />
<circle cx="606.8" cy="881.3" r="2.9" fill="#3d4a98" stroke="#1f2766" stroke-width="0.7" />
<circle cx="608.2" cy="1026.7" r="2.9" fill="#3d4a98" stroke="#1f2766" stroke-width="0.7" />
<circle cx="609.4" cy="915.8" r="2.9" fill="#3d4a98" stroke="#1f2766" stroke-width="0.7" />
<circle cx="610.2" cy="881.3" r="2.9" fill="#3d4a98" stroke="#1f2766" stroke-width="0.7" />
<circle cx="611.7" cy="998.1" r="2.9" fill="#3d4a98" stroke="#1f2766" stroke-width="0.7" />
<circle cx="612.4" cy="881.3" r="2.9" fill="#3d4a98" stroke="#1f2766" stroke-width="0.7" />
<circle cx="613.4" cy="974.3" r="2.9" fill="#3d4a98" stroke="#1f2766" stroke-width="0.7" />
<circle cx="614.7" cy="881.3" r="2.9" fill="#3d4a98" stroke="#1f2766" stroke-width="0.7" />
<circle cx="615.8" cy="1029.1" r="2.9" fill="#3d4a98" stroke="#1f2766" stroke-width="0.7" />
<circle cx="617" cy="950.6" r="2.9" fill="#3d4a98" stroke="#1f2766" stroke-width="0.7" />
<circle cx="618.1" cy="1029.1" r="2.9" fill="#3d4a98" stroke="#1f2766" stroke-width="0.7" />
<circle cx="619.2" cy="881.3" r="2.9" fill="#3d4a98" stroke="#1f2766" stroke-width="0.7" />
<circle cx="620.3" cy="915.4" r="2.9" fill="#3d4a98" stroke="#1f2766" stroke-width="0.7" />
<circle cx="621.5" cy="1029.1" r="2.9" fill="#3d4a98" stroke="#1f2766" stroke-width="0.7" />
<circle cx="622.6" cy="881.3" r="2.9" fill="#3d4a98" stroke="#1f2766" stroke-width="0.7" />
<circle cx="623.7" cy="881.3" r="2.9" fill="#3d4a98" stroke="#1f2766" stroke-width="0.7" />
<circle cx="624.8" cy="881.3" r="2.9" fill="#3d4a98" stroke="#1f2766" stroke-width="0.7" />
<circle cx="626" cy="881.3" r="2.9" fill="#3d4a98" stroke="#1f2766" stroke-width="0.7" />
<circle cx="627.1" cy="881.3" r="2.9" fill="#3d4a98" stroke="#1f2766" stroke-width="0.7" />
<circle cx="628.2" cy="881.3" r="2.9" fill="#3d4a98" stroke="#1f2766" stroke-width="0.7" />
<circle cx="629.4" cy="1029.1" r="2.9" fill="#3d4a98" stroke="#1f2766" stroke-width="0.7" />
<circle cx="630.5" cy="881.3" r="2.9" fill="#3d4a98" stroke="#1f2766" stroke-width="0.7" />
<circle cx="631.6" cy="1029.1" r="2.9" fill="#3d4a98" stroke="#1f2766" stroke-width="0.7" />
<circle cx="632.8" cy="881.3" r="2.9" fill="#3d4a98" stroke="#1f2766" stroke-width="0.7" />
<circle cx="634.4" cy="968.3" r="2.9" fill="#3d4a98" stroke="#1f2766" stroke-width="0.7" />
<circle cx="635" cy="881.3" r="2.9" fill="#3d4a98" stroke="#1f2766" stroke-width="0.7" />
<circle cx="636.2" cy="1029.1" r="2.9" fill="#3d4a98" stroke="#1f2766" stroke-width="0.7" />
<circle cx="637.3" cy="881.3" r="2.9" fill="#3d4a98" stroke="#1f2766" stroke-width="0.7" />
<circle cx="638" cy="977.8" r="2.9" fill="#3d4a98" stroke="#1f2766" stroke-width="0.7" />
<circle cx="639.6" cy="1014.3" r="2.9" fill="#3d4a98" stroke="#1f2766" stroke-width="0.7" />
<circle cx="640.8" cy="1007.6" r="2.9" fill="#3d4a98" stroke="#1f2766" stroke-width="0.7" />
<circle cx="641.8" cy="881.3" r="2.9" fill="#3d4a98" stroke="#1f2766" stroke-width="0.7" />
<circle cx="642.9" cy="881.3" r="2.9" fill="#3d4a98" stroke="#1f2766" stroke-width="0.7" />
<circle cx="644.1" cy="881.3" r="2.9" fill="#3d4a98" stroke="#1f2766" stroke-width="0.7" />
<circle cx="645.2" cy="881.3" r="2.9" fill="#3d4a98" stroke="#1f2766" stroke-width="0.7" />
<circle cx="646.3" cy="1029.1" r="2.9" fill="#3d4a98" stroke="#1f2766" stroke-width="0.7" />
<circle cx="647.5" cy="881.3" r="2.9" fill="#3d4a98" stroke="#1f2766" stroke-width="0.7" />
<circle cx="648.6" cy="881.3" r="2.9" fill="#3d4a98" stroke="#1f2766" stroke-width="0.7" />
<circle cx="649.7" cy="881.3" r="2.9" fill="#3d4a98" stroke="#1f2766" stroke-width="0.7" />
<circle cx="650.8" cy="881.3" r="2.9" fill="#3d4a98" stroke="#1f2766" stroke-width="0.7" />
<circle cx="652" cy="881.3" r="2.9" fill="#3d4a98" stroke="#1f2766" stroke-width="0.7" />
<circle cx="653.1" cy="881.3" r="2.9" fill="#3d4a98" stroke="#1f2766" stroke-width="0.7" />
<circle cx="654.2" cy="881.3" r="2.9" fill="#3d4a98" stroke="#1f2766" stroke-width="0.7" />
<circle cx="655.4" cy="881.3" r="2.9" fill="#3d4a98" stroke="#1f2766" stroke-width="0.7" />
<circle cx="656.3" cy="1016.7" r="2.9" fill="#3d4a98" stroke="#1f2766" stroke-width="0.7" />
<circle cx="657.6" cy="881.3" r="2.9" fill="#3d4a98" stroke="#1f2766" stroke-width="0.7" />
<circle cx="658.8" cy="1029.1" r="2.9" fill="#3d4a98" stroke="#1f2766" stroke-width="0.7" />
<circle cx="659.9" cy="881.3" r="2.9" fill="#3d4a98" stroke="#1f2766" stroke-width="0.7" />
<circle cx="661" cy="881.3" r="2.9" fill="#3d4a98" stroke="#1f2766" stroke-width="0.7" />
<circle cx="662.1" cy="881.3" r="2.9" fill="#3d4a98" stroke="#1f2766" stroke-width="0.7" />
<circle cx="663.3" cy="881.3" r="2.9" fill="#3d4a98" stroke="#1f2766" stroke-width="0.7" />
<circle cx="664.4" cy="881.3" r="2.9" fill="#3d4a98" stroke="#1f2766" stroke-width="0.7" />
<circle cx="665.5" cy="881.3" r="2.9" fill="#3d4a98" stroke="#1f2766" stroke-width="0.7" />
<circle cx="666.7" cy="881.3" r="2.9" fill="#3d4a98" stroke="#1f2766" stroke-width="0.7" />
<circle cx="668.3" cy="952.3" r="2.9" fill="#3d4a98" stroke="#1f2766" stroke-width="0.7" />
<circle cx="668.9" cy="881.3" r="2.9" fill="#3d4a98" stroke="#1f2766" stroke-width="0.7" />
<circle cx="670.1" cy="881.3" r="2.9" fill="#3d4a98" stroke="#1f2766" stroke-width="0.7" />
<circle cx="670.6" cy="998.8" r="2.9" fill="#3d4a98" stroke="#1f2766" stroke-width="0.7" />
<circle cx="672.8" cy="923" r="2.9" fill="#3d4a98" stroke="#1f2766" stroke-width="0.7" />
<circle cx="673.5" cy="881.3" r="2.9" fill="#3d4a98" stroke="#1f2766" stroke-width="0.7" />
<circle cx="674.6" cy="1029.1" r="2.9" fill="#3d4a98" stroke="#1f2766" stroke-width="0.7" />
<circle cx="675.7" cy="881.3" r="2.9" fill="#3d4a98" stroke="#1f2766" stroke-width="0.7" />
<circle cx="676.8" cy="881.3" r="2.9" fill="#3d4a98" stroke="#1f2766" stroke-width="0.7" />
<circle cx="678" cy="1029.1" r="2.9" fill="#3d4a98" stroke="#1f2766" stroke-width="0.7" />
<circle cx="679.1" cy="881.3" r="2.9" fill="#3d4a98" stroke="#1f2766" stroke-width="0.7" />
<circle cx="680.2" cy="881.3" r="2.9" fill="#3d4a98" stroke="#1f2766" stroke-width="0.7" />
<circle cx="681.4" cy="881.3" r="2.9" fill="#3d4a98" stroke="#1f2766" stroke-width="0.7" />
<circle cx="682.5" cy="1029.1" r="2.9" fill="#3d4a98" stroke="#1f2766" stroke-width="0.7" />
<circle cx="683.6" cy="881.3" r="2.9" fill="#3d4a98" stroke="#1f2766" stroke-width="0.7" />
<circle cx="684.8" cy="881.3" r="2.9" fill="#3d4a98" stroke="#1f2766" stroke-width="0.7" />
<circle cx="686.1" cy="918.7" r="2.9" fill="#3d4a98" stroke="#1f2766" stroke-width="0.7" />
<circle cx="687" cy="881.3" r="2.9" fill="#3d4a98" stroke="#1f2766" stroke-width="0.7" />
<circle cx="688.1" cy="1029.1" r="2.9" fill="#3d4a98" stroke="#1f2766" stroke-width="0.7" />
<line x1="437.2" y1="863.5" x2="437.2" y2="1040.5" stroke="#555" stroke-width="1.5" />
<line x1="437.2" y1="1039.8" x2="689.2" y2="1039.8" stroke="#555" stroke-width="1.5" />
<line x1="437.2" y1="1039.8" x2="437.2" y2="1035.5" stroke="#555" stroke-width="1.4" />
<text x="437.7" y="1059" font-size="13.57" font-weight="bold" fill="#222" text-anchor="middle">0</text>
<line x1="487.4" y1="1039.8" x2="487.4" y2="1035.5" stroke="#555" stroke-width="1.4" />
<text x="487.9" y="1059" font-size="13.57" font-weight="bold" fill="#222" text-anchor="middle">20</text>
<line x1="537.7" y1="1039.8" x2="537.7" y2="1035.5" stroke="#555" stroke-width="1.4" />
<text x="538.2" y="1059" font-size="13.57" font-weight="bold" fill="#222" text-anchor="middle">40</text>
<line x1="587.9" y1="1039.8" x2="587.9" y2="1035.5" stroke="#555" stroke-width="1.4" />
<text x="588.4" y="1059" font-size="13.57" font-weight="bold" fill="#222" text-anchor="middle">60</text>
<line x1="638.2" y1="1039.8" x2="638.2" y2="1035.5" stroke="#555" stroke-width="1.4" />
<text x="638.7" y="1059" font-size="13.57" font-weight="bold" fill="#222" text-anchor="middle">80</text>
<line x1="688.4" y1="1039.8" x2="688.4" y2="1035.5" stroke="#555" stroke-width="1.4" />
<text x="688.9" y="1059" font-size="13.57" font-weight="bold" fill="#222" text-anchor="middle">100</text>
<line x1="437.2" y1="1029.1" x2="441.2" y2="1029.1" stroke="#555" stroke-width="1.4" />
<text x="430.8" y="1033.9" font-size="13.57" font-weight="bold" fill="#222" text-anchor="end">0</text>
<line x1="437.2" y1="881.3" x2="441.2" y2="881.3" stroke="#555" stroke-width="1.4" />
<text x="430.6" y="886.1" font-size="13.77" font-weight="bold" fill="#222" text-anchor="end">5</text>
<text x="513.9" y="852.7" font-size="15.65" fill="#111" font-weight="bold" textLength="10.90" lengthAdjust="spacingAndGlyphs" >V</text>
<text x="524.6" y="858.6" font-size="13.04" fill="#111" font-weight="bold" textLength="12.87" lengthAdjust="spacingAndGlyphs" >IN</text>
<text x="539.5" y="852.7" font-size="15.43" fill="#111" font-weight="bold" textLength="79.51" lengthAdjust="spacingAndGlyphs" >= 1.950&#160; V</text>
<text x="529.3" y="1082.7" font-size="14.76" fill="#111" font-weight="bold" textLength="78.50" lengthAdjust="spacingAndGlyphs" >Time (ms)</text>
<text transform="translate(414.3,993.5) rotate(-90)" x="-0.1" y="0" font-size="16.52" fill="#111" font-weight="bold" textLength="10.08" lengthAdjust="spacingAndGlyphs">V</text>
<text transform="translate(420.5,983.6) rotate(-90)" x="-0.5" y="0" font-size="12.00" fill="#111" font-weight="bold" textLength="24.59" lengthAdjust="spacingAndGlyphs">OUT</text>
<text transform="translate(414.3,953.8) rotate(-90)" x="-0.8" y="0" font-size="16.28" fill="#111" font-weight="bold" textLength="20.94" lengthAdjust="spacingAndGlyphs">(V)</text>
<polyline points="777.7,881.3 778.8,881.3 780,881.3 780.5,1023.6 782.2,881.3 783.4,881.3 784.5,881.3 785.6,881.3 786.7,881.3 787.9,881.3 789,881.3 790.1,881.3 791.3,881.3 792.4,881.3 793.5,881.3 794.7,881.3 795.8,881.3 796.9,881.3 798,881.3 799.2,881.3 800.3,881.3 801.1,943.3 802.2,906.3 803.7,881.3 804.8,881.3 806,881.3 807.1,881.3 808.2,1029.1 809.4,881.3 810.5,881.3 811.6,881.3 812.7,881.3 814.2,1011.2 815,1029.1 816.1,881.3 817.3,881.3 818.4,881.3 819.5,881.3 820.7,881.3 821.8,881.3 823,995.2 824,881.3 825.2,881.3 826.3,1029.1 827.4,881.3 828.6,881.3 829.7,881.3 830.8,881.3 832,881.3 833.1,881.3 834.2,1029.1 835.4,881.3 836.8,968.3 837.6,881.3 838.7,881.3 839.7,922.3 841,881.3 841.6,888.4 843.3,881.3 844.4,881.3 845.5,881.3 846.7,881.3 847.3,940.4 848.9,881.3 850,881.3 851.2,881.3 852.3,881.3 853,917 854.6,881.3 855.7,881.3 856.8,881.3 858,1027.4 859.1,1029.1 860.2,881.3 861.3,881.3 862.5,881.3 863.6,881.3 864.7,881.3 865.9,881.3 867,881.3 868.1,881.3 869.3,881.3 870.4,881.3 871.5,881.3 872.7,881.3 873.8,881.3 874.9,881.3 876,1029.1 877.2,881.3 878.3,881.3 879.4,881.3 880.6,881.3 881.7,881.3 882.8,881.3 884,881.3 885.1,881.3 886.2,881.3 887.3,881.3 888.5,1029.1 889.8,910.4 890.7,881.3 891.9,881.3 893,881.3 894.5,882.9 895.3,881.3 896.4,881.3 897.5,1029.1 898.7,881.3 899.8,881.3 900.9,881.3 902,881.3 903.2,881.3 904.8,929.4 905.4,881.3 906.6,881.3 907.7,881.3 908.8,881.3 910,881.3 911.2,896.8 912.2,881.3 913.3,881.3 914.5,881.3 915.6,881.3 916.7,881.3 917.9,881.3 919,881.3 920.1,881.3 921.3,881.3 922.4,881.3 923.5,881.3 924.7,881.3 925.5,1027.2 926.9,881.3 928,881.3 929.2,881.3 930.3,881.3 931.4,881.3 932.6,881.3 933.7,881.3 934.8,881.3 935.5,883.6 937.1,881.3 938.2,881.3 939.3,881.3 940.5,881.3 941.6,881.3 942.7,1029.1 943.4,927.8 945,881.3 946.3,899.1 947.3,881.3 948.4,881.3 949.4,887.2 950.7,881.3 951.7,978.5 952.9,881.3 954.4,995.2 955.3,944.9 956.3,881.3 957.4,881.3 958.6,881.3 959.7,881.3 960.8,881.3 962,881.3 963.1,881.3 964.2,881.3 965.3,881.3 966.5,881.3 967.6,881.3 968.7,881.3 969.9,881.3 971,881.3 972.1,881.3 973.3,881.3 974.4,881.3 975.5,881.3 976.7,881.3 977.8,881.3 978.9,881.3 980,881.3 981.2,881.3 982.3,881.3 983.4,881.3 984.6,881.3 985.7,881.3 986.8,881.3 988,881.3 989.1,881.3 990.2,881.3 991.3,881.3 992.5,881.3 993.9,907 994.7,881.3 995.9,881.3 997,881.3 998.1,881.3 999.3,881.3 1000.4,881.3 1001.5,881.3 1002.6,881.3 1003.8,881.3 1004.9,881.3 1006,881.3 1007.2,881.3 1008.3,881.3 1009.4,881.3 1010.6,881.3 1011.7,1029.1 1012.8,881.3 1014,881.3 1015.1,881.3 1016.2,881.3 1017.8,891.5 1019,1025 1019.6,881.3 1020.7,1029.1 1021.9,881.3 1023,881.3 1024.1,881.3 1025.7,889.6 1026.4,881.3 1027.5,881.3 1028.6,881.3" stroke="#96a3d8" stroke-width="0.8" fill="none" />
<circle cx="777.7" cy="881.3" r="2.9" fill="#3d4a98" stroke="#1f2766" stroke-width="0.7" />
<circle cx="778.8" cy="881.3" r="2.9" fill="#3d4a98" stroke="#1f2766" stroke-width="0.7" />
<circle cx="780" cy="881.3" r="2.9" fill="#3d4a98" stroke="#1f2766" stroke-width="0.7" />
<circle cx="780.5" cy="1023.6" r="2.9" fill="#3d4a98" stroke="#1f2766" stroke-width="0.7" />
<circle cx="782.2" cy="881.3" r="2.9" fill="#3d4a98" stroke="#1f2766" stroke-width="0.7" />
<circle cx="783.4" cy="881.3" r="2.9" fill="#3d4a98" stroke="#1f2766" stroke-width="0.7" />
<circle cx="784.5" cy="881.3" r="2.9" fill="#3d4a98" stroke="#1f2766" stroke-width="0.7" />
<circle cx="785.6" cy="881.3" r="2.9" fill="#3d4a98" stroke="#1f2766" stroke-width="0.7" />
<circle cx="786.7" cy="881.3" r="2.9" fill="#3d4a98" stroke="#1f2766" stroke-width="0.7" />
<circle cx="787.9" cy="881.3" r="2.9" fill="#3d4a98" stroke="#1f2766" stroke-width="0.7" />
<circle cx="789" cy="881.3" r="2.9" fill="#3d4a98" stroke="#1f2766" stroke-width="0.7" />
<circle cx="790.1" cy="881.3" r="2.9" fill="#3d4a98" stroke="#1f2766" stroke-width="0.7" />
<circle cx="791.3" cy="881.3" r="2.9" fill="#3d4a98" stroke="#1f2766" stroke-width="0.7" />
<circle cx="792.4" cy="881.3" r="2.9" fill="#3d4a98" stroke="#1f2766" stroke-width="0.7" />
<circle cx="793.5" cy="881.3" r="2.9" fill="#3d4a98" stroke="#1f2766" stroke-width="0.7" />
<circle cx="794.7" cy="881.3" r="2.9" fill="#3d4a98" stroke="#1f2766" stroke-width="0.7" />
<circle cx="795.8" cy="881.3" r="2.9" fill="#3d4a98" stroke="#1f2766" stroke-width="0.7" />
<circle cx="796.9" cy="881.3" r="2.9" fill="#3d4a98" stroke="#1f2766" stroke-width="0.7" />
<circle cx="798" cy="881.3" r="2.9" fill="#3d4a98" stroke="#1f2766" stroke-width="0.7" />
<circle cx="799.2" cy="881.3" r="2.9" fill="#3d4a98" stroke="#1f2766" stroke-width="0.7" />
<circle cx="800.3" cy="881.3" r="2.9" fill="#3d4a98" stroke="#1f2766" stroke-width="0.7" />
<circle cx="801.1" cy="943.3" r="2.9" fill="#3d4a98" stroke="#1f2766" stroke-width="0.7" />
<circle cx="802.2" cy="906.3" r="2.9" fill="#3d4a98" stroke="#1f2766" stroke-width="0.7" />
<circle cx="803.7" cy="881.3" r="2.9" fill="#3d4a98" stroke="#1f2766" stroke-width="0.7" />
<circle cx="804.8" cy="881.3" r="2.9" fill="#3d4a98" stroke="#1f2766" stroke-width="0.7" />
<circle cx="806" cy="881.3" r="2.9" fill="#3d4a98" stroke="#1f2766" stroke-width="0.7" />
<circle cx="807.1" cy="881.3" r="2.9" fill="#3d4a98" stroke="#1f2766" stroke-width="0.7" />
<circle cx="808.2" cy="1029.1" r="2.9" fill="#3d4a98" stroke="#1f2766" stroke-width="0.7" />
<circle cx="809.4" cy="881.3" r="2.9" fill="#3d4a98" stroke="#1f2766" stroke-width="0.7" />
<circle cx="810.5" cy="881.3" r="2.9" fill="#3d4a98" stroke="#1f2766" stroke-width="0.7" />
<circle cx="811.6" cy="881.3" r="2.9" fill="#3d4a98" stroke="#1f2766" stroke-width="0.7" />
<circle cx="812.7" cy="881.3" r="2.9" fill="#3d4a98" stroke="#1f2766" stroke-width="0.7" />
<circle cx="814.2" cy="1011.2" r="2.9" fill="#3d4a98" stroke="#1f2766" stroke-width="0.7" />
<circle cx="815" cy="1029.1" r="2.9" fill="#3d4a98" stroke="#1f2766" stroke-width="0.7" />
<circle cx="816.1" cy="881.3" r="2.9" fill="#3d4a98" stroke="#1f2766" stroke-width="0.7" />
<circle cx="817.3" cy="881.3" r="2.9" fill="#3d4a98" stroke="#1f2766" stroke-width="0.7" />
<circle cx="818.4" cy="881.3" r="2.9" fill="#3d4a98" stroke="#1f2766" stroke-width="0.7" />
<circle cx="819.5" cy="881.3" r="2.9" fill="#3d4a98" stroke="#1f2766" stroke-width="0.7" />
<circle cx="820.7" cy="881.3" r="2.9" fill="#3d4a98" stroke="#1f2766" stroke-width="0.7" />
<circle cx="821.8" cy="881.3" r="2.9" fill="#3d4a98" stroke="#1f2766" stroke-width="0.7" />
<circle cx="823" cy="995.2" r="2.9" fill="#3d4a98" stroke="#1f2766" stroke-width="0.7" />
<circle cx="824" cy="881.3" r="2.9" fill="#3d4a98" stroke="#1f2766" stroke-width="0.7" />
<circle cx="825.2" cy="881.3" r="2.9" fill="#3d4a98" stroke="#1f2766" stroke-width="0.7" />
<circle cx="826.3" cy="1029.1" r="2.9" fill="#3d4a98" stroke="#1f2766" stroke-width="0.7" />
<circle cx="827.4" cy="881.3" r="2.9" fill="#3d4a98" stroke="#1f2766" stroke-width="0.7" />
<circle cx="828.6" cy="881.3" r="2.9" fill="#3d4a98" stroke="#1f2766" stroke-width="0.7" />
<circle cx="829.7" cy="881.3" r="2.9" fill="#3d4a98" stroke="#1f2766" stroke-width="0.7" />
<circle cx="830.8" cy="881.3" r="2.9" fill="#3d4a98" stroke="#1f2766" stroke-width="0.7" />
<circle cx="832" cy="881.3" r="2.9" fill="#3d4a98" stroke="#1f2766" stroke-width="0.7" />
<circle cx="833.1" cy="881.3" r="2.9" fill="#3d4a98" stroke="#1f2766" stroke-width="0.7" />
<circle cx="834.2" cy="1029.1" r="2.9" fill="#3d4a98" stroke="#1f2766" stroke-width="0.7" />
<circle cx="835.4" cy="881.3" r="2.9" fill="#3d4a98" stroke="#1f2766" stroke-width="0.7" />
<circle cx="836.8" cy="968.3" r="2.9" fill="#3d4a98" stroke="#1f2766" stroke-width="0.7" />
<circle cx="837.6" cy="881.3" r="2.9" fill="#3d4a98" stroke="#1f2766" stroke-width="0.7" />
<circle cx="838.7" cy="881.3" r="2.9" fill="#3d4a98" stroke="#1f2766" stroke-width="0.7" />
<circle cx="839.7" cy="922.3" r="2.9" fill="#3d4a98" stroke="#1f2766" stroke-width="0.7" />
<circle cx="841" cy="881.3" r="2.9" fill="#3d4a98" stroke="#1f2766" stroke-width="0.7" />
<circle cx="841.6" cy="888.4" r="2.9" fill="#3d4a98" stroke="#1f2766" stroke-width="0.7" />
<circle cx="843.3" cy="881.3" r="2.9" fill="#3d4a98" stroke="#1f2766" stroke-width="0.7" />
<circle cx="844.4" cy="881.3" r="2.9" fill="#3d4a98" stroke="#1f2766" stroke-width="0.7" />
<circle cx="845.5" cy="881.3" r="2.9" fill="#3d4a98" stroke="#1f2766" stroke-width="0.7" />
<circle cx="846.7" cy="881.3" r="2.9" fill="#3d4a98" stroke="#1f2766" stroke-width="0.7" />
<circle cx="847.3" cy="940.4" r="2.9" fill="#3d4a98" stroke="#1f2766" stroke-width="0.7" />
<circle cx="848.9" cy="881.3" r="2.9" fill="#3d4a98" stroke="#1f2766" stroke-width="0.7" />
<circle cx="850" cy="881.3" r="2.9" fill="#3d4a98" stroke="#1f2766" stroke-width="0.7" />
<circle cx="851.2" cy="881.3" r="2.9" fill="#3d4a98" stroke="#1f2766" stroke-width="0.7" />
<circle cx="852.3" cy="881.3" r="2.9" fill="#3d4a98" stroke="#1f2766" stroke-width="0.7" />
<circle cx="853" cy="917" r="2.9" fill="#3d4a98" stroke="#1f2766" stroke-width="0.7" />
<circle cx="854.6" cy="881.3" r="2.9" fill="#3d4a98" stroke="#1f2766" stroke-width="0.7" />
<circle cx="855.7" cy="881.3" r="2.9" fill="#3d4a98" stroke="#1f2766" stroke-width="0.7" />
<circle cx="856.8" cy="881.3" r="2.9" fill="#3d4a98" stroke="#1f2766" stroke-width="0.7" />
<circle cx="858" cy="1027.4" r="2.9" fill="#3d4a98" stroke="#1f2766" stroke-width="0.7" />
<circle cx="859.1" cy="1029.1" r="2.9" fill="#3d4a98" stroke="#1f2766" stroke-width="0.7" />
<circle cx="860.2" cy="881.3" r="2.9" fill="#3d4a98" stroke="#1f2766" stroke-width="0.7" />
<circle cx="861.3" cy="881.3" r="2.9" fill="#3d4a98" stroke="#1f2766" stroke-width="0.7" />
<circle cx="862.5" cy="881.3" r="2.9" fill="#3d4a98" stroke="#1f2766" stroke-width="0.7" />
<circle cx="863.6" cy="881.3" r="2.9" fill="#3d4a98" stroke="#1f2766" stroke-width="0.7" />
<circle cx="864.7" cy="881.3" r="2.9" fill="#3d4a98" stroke="#1f2766" stroke-width="0.7" />
<circle cx="865.9" cy="881.3" r="2.9" fill="#3d4a98" stroke="#1f2766" stroke-width="0.7" />
<circle cx="867" cy="881.3" r="2.9" fill="#3d4a98" stroke="#1f2766" stroke-width="0.7" />
<circle cx="868.1" cy="881.3" r="2.9" fill="#3d4a98" stroke="#1f2766" stroke-width="0.7" />
<circle cx="869.3" cy="881.3" r="2.9" fill="#3d4a98" stroke="#1f2766" stroke-width="0.7" />
<circle cx="870.4" cy="881.3" r="2.9" fill="#3d4a98" stroke="#1f2766" stroke-width="0.7" />
<circle cx="871.5" cy="881.3" r="2.9" fill="#3d4a98" stroke="#1f2766" stroke-width="0.7" />
<circle cx="872.7" cy="881.3" r="2.9" fill="#3d4a98" stroke="#1f2766" stroke-width="0.7" />
<circle cx="873.8" cy="881.3" r="2.9" fill="#3d4a98" stroke="#1f2766" stroke-width="0.7" />
<circle cx="874.9" cy="881.3" r="2.9" fill="#3d4a98" stroke="#1f2766" stroke-width="0.7" />
<circle cx="876" cy="1029.1" r="2.9" fill="#3d4a98" stroke="#1f2766" stroke-width="0.7" />
<circle cx="877.2" cy="881.3" r="2.9" fill="#3d4a98" stroke="#1f2766" stroke-width="0.7" />
<circle cx="878.3" cy="881.3" r="2.9" fill="#3d4a98" stroke="#1f2766" stroke-width="0.7" />
<circle cx="879.4" cy="881.3" r="2.9" fill="#3d4a98" stroke="#1f2766" stroke-width="0.7" />
<circle cx="880.6" cy="881.3" r="2.9" fill="#3d4a98" stroke="#1f2766" stroke-width="0.7" />
<circle cx="881.7" cy="881.3" r="2.9" fill="#3d4a98" stroke="#1f2766" stroke-width="0.7" />
<circle cx="882.8" cy="881.3" r="2.9" fill="#3d4a98" stroke="#1f2766" stroke-width="0.7" />
<circle cx="884" cy="881.3" r="2.9" fill="#3d4a98" stroke="#1f2766" stroke-width="0.7" />
<circle cx="885.1" cy="881.3" r="2.9" fill="#3d4a98" stroke="#1f2766" stroke-width="0.7" />
<circle cx="886.2" cy="881.3" r="2.9" fill="#3d4a98" stroke="#1f2766" stroke-width="0.7" />
<circle cx="887.3" cy="881.3" r="2.9" fill="#3d4a98" stroke="#1f2766" stroke-width="0.7" />
<circle cx="888.5" cy="1029.1" r="2.9" fill="#3d4a98" stroke="#1f2766" stroke-width="0.7" />
<circle cx="889.8" cy="910.4" r="2.9" fill="#3d4a98" stroke="#1f2766" stroke-width="0.7" />
<circle cx="890.7" cy="881.3" r="2.9" fill="#3d4a98" stroke="#1f2766" stroke-width="0.7" />
<circle cx="891.9" cy="881.3" r="2.9" fill="#3d4a98" stroke="#1f2766" stroke-width="0.7" />
<circle cx="893" cy="881.3" r="2.9" fill="#3d4a98" stroke="#1f2766" stroke-width="0.7" />
<circle cx="894.5" cy="882.9" r="2.9" fill="#3d4a98" stroke="#1f2766" stroke-width="0.7" />
<circle cx="895.3" cy="881.3" r="2.9" fill="#3d4a98" stroke="#1f2766" stroke-width="0.7" />
<circle cx="896.4" cy="881.3" r="2.9" fill="#3d4a98" stroke="#1f2766" stroke-width="0.7" />
<circle cx="897.5" cy="1029.1" r="2.9" fill="#3d4a98" stroke="#1f2766" stroke-width="0.7" />
<circle cx="898.7" cy="881.3" r="2.9" fill="#3d4a98" stroke="#1f2766" stroke-width="0.7" />
<circle cx="899.8" cy="881.3" r="2.9" fill="#3d4a98" stroke="#1f2766" stroke-width="0.7" />
<circle cx="900.9" cy="881.3" r="2.9" fill="#3d4a98" stroke="#1f2766" stroke-width="0.7" />
<circle cx="902" cy="881.3" r="2.9" fill="#3d4a98" stroke="#1f2766" stroke-width="0.7" />
<circle cx="903.2" cy="881.3" r="2.9" fill="#3d4a98" stroke="#1f2766" stroke-width="0.7" />
<circle cx="904.8" cy="929.4" r="2.9" fill="#3d4a98" stroke="#1f2766" stroke-width="0.7" />
<circle cx="905.4" cy="881.3" r="2.9" fill="#3d4a98" stroke="#1f2766" stroke-width="0.7" />
<circle cx="906.6" cy="881.3" r="2.9" fill="#3d4a98" stroke="#1f2766" stroke-width="0.7" />
<circle cx="907.7" cy="881.3" r="2.9" fill="#3d4a98" stroke="#1f2766" stroke-width="0.7" />
<circle cx="908.8" cy="881.3" r="2.9" fill="#3d4a98" stroke="#1f2766" stroke-width="0.7" />
<circle cx="910" cy="881.3" r="2.9" fill="#3d4a98" stroke="#1f2766" stroke-width="0.7" />
<circle cx="911.2" cy="896.8" r="2.9" fill="#3d4a98" stroke="#1f2766" stroke-width="0.7" />
<circle cx="912.2" cy="881.3" r="2.9" fill="#3d4a98" stroke="#1f2766" stroke-width="0.7" />
<circle cx="913.3" cy="881.3" r="2.9" fill="#3d4a98" stroke="#1f2766" stroke-width="0.7" />
<circle cx="914.5" cy="881.3" r="2.9" fill="#3d4a98" stroke="#1f2766" stroke-width="0.7" />
<circle cx="915.6" cy="881.3" r="2.9" fill="#3d4a98" stroke="#1f2766" stroke-width="0.7" />
<circle cx="916.7" cy="881.3" r="2.9" fill="#3d4a98" stroke="#1f2766" stroke-width="0.7" />
<circle cx="917.9" cy="881.3" r="2.9" fill="#3d4a98" stroke="#1f2766" stroke-width="0.7" />
<circle cx="919" cy="881.3" r="2.9" fill="#3d4a98" stroke="#1f2766" stroke-width="0.7" />
<circle cx="920.1" cy="881.3" r="2.9" fill="#3d4a98" stroke="#1f2766" stroke-width="0.7" />
<circle cx="921.3" cy="881.3" r="2.9" fill="#3d4a98" stroke="#1f2766" stroke-width="0.7" />
<circle cx="922.4" cy="881.3" r="2.9" fill="#3d4a98" stroke="#1f2766" stroke-width="0.7" />
<circle cx="923.5" cy="881.3" r="2.9" fill="#3d4a98" stroke="#1f2766" stroke-width="0.7" />
<circle cx="924.7" cy="881.3" r="2.9" fill="#3d4a98" stroke="#1f2766" stroke-width="0.7" />
<circle cx="925.5" cy="1027.2" r="2.9" fill="#3d4a98" stroke="#1f2766" stroke-width="0.7" />
<circle cx="926.9" cy="881.3" r="2.9" fill="#3d4a98" stroke="#1f2766" stroke-width="0.7" />
<circle cx="928" cy="881.3" r="2.9" fill="#3d4a98" stroke="#1f2766" stroke-width="0.7" />
<circle cx="929.2" cy="881.3" r="2.9" fill="#3d4a98" stroke="#1f2766" stroke-width="0.7" />
<circle cx="930.3" cy="881.3" r="2.9" fill="#3d4a98" stroke="#1f2766" stroke-width="0.7" />
<circle cx="931.4" cy="881.3" r="2.9" fill="#3d4a98" stroke="#1f2766" stroke-width="0.7" />
<circle cx="932.6" cy="881.3" r="2.9" fill="#3d4a98" stroke="#1f2766" stroke-width="0.7" />
<circle cx="933.7" cy="881.3" r="2.9" fill="#3d4a98" stroke="#1f2766" stroke-width="0.7" />
<circle cx="934.8" cy="881.3" r="2.9" fill="#3d4a98" stroke="#1f2766" stroke-width="0.7" />
<circle cx="935.5" cy="883.6" r="2.9" fill="#3d4a98" stroke="#1f2766" stroke-width="0.7" />
<circle cx="937.1" cy="881.3" r="2.9" fill="#3d4a98" stroke="#1f2766" stroke-width="0.7" />
<circle cx="938.2" cy="881.3" r="2.9" fill="#3d4a98" stroke="#1f2766" stroke-width="0.7" />
<circle cx="939.3" cy="881.3" r="2.9" fill="#3d4a98" stroke="#1f2766" stroke-width="0.7" />
<circle cx="940.5" cy="881.3" r="2.9" fill="#3d4a98" stroke="#1f2766" stroke-width="0.7" />
<circle cx="941.6" cy="881.3" r="2.9" fill="#3d4a98" stroke="#1f2766" stroke-width="0.7" />
<circle cx="942.7" cy="1029.1" r="2.9" fill="#3d4a98" stroke="#1f2766" stroke-width="0.7" />
<circle cx="943.4" cy="927.8" r="2.9" fill="#3d4a98" stroke="#1f2766" stroke-width="0.7" />
<circle cx="945" cy="881.3" r="2.9" fill="#3d4a98" stroke="#1f2766" stroke-width="0.7" />
<circle cx="946.3" cy="899.1" r="2.9" fill="#3d4a98" stroke="#1f2766" stroke-width="0.7" />
<circle cx="947.3" cy="881.3" r="2.9" fill="#3d4a98" stroke="#1f2766" stroke-width="0.7" />
<circle cx="948.4" cy="881.3" r="2.9" fill="#3d4a98" stroke="#1f2766" stroke-width="0.7" />
<circle cx="949.4" cy="887.2" r="2.9" fill="#3d4a98" stroke="#1f2766" stroke-width="0.7" />
<circle cx="950.7" cy="881.3" r="2.9" fill="#3d4a98" stroke="#1f2766" stroke-width="0.7" />
<circle cx="951.7" cy="978.5" r="2.9" fill="#3d4a98" stroke="#1f2766" stroke-width="0.7" />
<circle cx="952.9" cy="881.3" r="2.9" fill="#3d4a98" stroke="#1f2766" stroke-width="0.7" />
<circle cx="954.4" cy="995.2" r="2.9" fill="#3d4a98" stroke="#1f2766" stroke-width="0.7" />
<circle cx="955.3" cy="944.9" r="2.9" fill="#3d4a98" stroke="#1f2766" stroke-width="0.7" />
<circle cx="956.3" cy="881.3" r="2.9" fill="#3d4a98" stroke="#1f2766" stroke-width="0.7" />
<circle cx="957.4" cy="881.3" r="2.9" fill="#3d4a98" stroke="#1f2766" stroke-width="0.7" />
<circle cx="958.6" cy="881.3" r="2.9" fill="#3d4a98" stroke="#1f2766" stroke-width="0.7" />
<circle cx="959.7" cy="881.3" r="2.9" fill="#3d4a98" stroke="#1f2766" stroke-width="0.7" />
<circle cx="960.8" cy="881.3" r="2.9" fill="#3d4a98" stroke="#1f2766" stroke-width="0.7" />
<circle cx="962" cy="881.3" r="2.9" fill="#3d4a98" stroke="#1f2766" stroke-width="0.7" />
<circle cx="963.1" cy="881.3" r="2.9" fill="#3d4a98" stroke="#1f2766" stroke-width="0.7" />
<circle cx="964.2" cy="881.3" r="2.9" fill="#3d4a98" stroke="#1f2766" stroke-width="0.7" />
<circle cx="965.3" cy="881.3" r="2.9" fill="#3d4a98" stroke="#1f2766" stroke-width="0.7" />
<circle cx="966.5" cy="881.3" r="2.9" fill="#3d4a98" stroke="#1f2766" stroke-width="0.7" />
<circle cx="967.6" cy="881.3" r="2.9" fill="#3d4a98" stroke="#1f2766" stroke-width="0.7" />
<circle cx="968.7" cy="881.3" r="2.9" fill="#3d4a98" stroke="#1f2766" stroke-width="0.7" />
<circle cx="969.9" cy="881.3" r="2.9" fill="#3d4a98" stroke="#1f2766" stroke-width="0.7" />
<circle cx="971" cy="881.3" r="2.9" fill="#3d4a98" stroke="#1f2766" stroke-width="0.7" />
<circle cx="972.1" cy="881.3" r="2.9" fill="#3d4a98" stroke="#1f2766" stroke-width="0.7" />
<circle cx="973.3" cy="881.3" r="2.9" fill="#3d4a98" stroke="#1f2766" stroke-width="0.7" />
<circle cx="974.4" cy="881.3" r="2.9" fill="#3d4a98" stroke="#1f2766" stroke-width="0.7" />
<circle cx="975.5" cy="881.3" r="2.9" fill="#3d4a98" stroke="#1f2766" stroke-width="0.7" />
<circle cx="976.7" cy="881.3" r="2.9" fill="#3d4a98" stroke="#1f2766" stroke-width="0.7" />
<circle cx="977.8" cy="881.3" r="2.9" fill="#3d4a98" stroke="#1f2766" stroke-width="0.7" />
<circle cx="978.9" cy="881.3" r="2.9" fill="#3d4a98" stroke="#1f2766" stroke-width="0.7" />
<circle cx="980" cy="881.3" r="2.9" fill="#3d4a98" stroke="#1f2766" stroke-width="0.7" />
<circle cx="981.2" cy="881.3" r="2.9" fill="#3d4a98" stroke="#1f2766" stroke-width="0.7" />
<circle cx="982.3" cy="881.3" r="2.9" fill="#3d4a98" stroke="#1f2766" stroke-width="0.7" />
<circle cx="983.4" cy="881.3" r="2.9" fill="#3d4a98" stroke="#1f2766" stroke-width="0.7" />
<circle cx="984.6" cy="881.3" r="2.9" fill="#3d4a98" stroke="#1f2766" stroke-width="0.7" />
<circle cx="985.7" cy="881.3" r="2.9" fill="#3d4a98" stroke="#1f2766" stroke-width="0.7" />
<circle cx="986.8" cy="881.3" r="2.9" fill="#3d4a98" stroke="#1f2766" stroke-width="0.7" />
<circle cx="988" cy="881.3" r="2.9" fill="#3d4a98" stroke="#1f2766" stroke-width="0.7" />
<circle cx="989.1" cy="881.3" r="2.9" fill="#3d4a98" stroke="#1f2766" stroke-width="0.7" />
<circle cx="990.2" cy="881.3" r="2.9" fill="#3d4a98" stroke="#1f2766" stroke-width="0.7" />
<circle cx="991.3" cy="881.3" r="2.9" fill="#3d4a98" stroke="#1f2766" stroke-width="0.7" />
<circle cx="992.5" cy="881.3" r="2.9" fill="#3d4a98" stroke="#1f2766" stroke-width="0.7" />
<circle cx="993.9" cy="907" r="2.9" fill="#3d4a98" stroke="#1f2766" stroke-width="0.7" />
<circle cx="994.7" cy="881.3" r="2.9" fill="#3d4a98" stroke="#1f2766" stroke-width="0.7" />
<circle cx="995.9" cy="881.3" r="2.9" fill="#3d4a98" stroke="#1f2766" stroke-width="0.7" />
<circle cx="997" cy="881.3" r="2.9" fill="#3d4a98" stroke="#1f2766" stroke-width="0.7" />
<circle cx="998.1" cy="881.3" r="2.9" fill="#3d4a98" stroke="#1f2766" stroke-width="0.7" />
<circle cx="999.3" cy="881.3" r="2.9" fill="#3d4a98" stroke="#1f2766" stroke-width="0.7" />
<circle cx="1000.4" cy="881.3" r="2.9" fill="#3d4a98" stroke="#1f2766" stroke-width="0.7" />
<circle cx="1001.5" cy="881.3" r="2.9" fill="#3d4a98" stroke="#1f2766" stroke-width="0.7" />
<circle cx="1002.6" cy="881.3" r="2.9" fill="#3d4a98" stroke="#1f2766" stroke-width="0.7" />
<circle cx="1003.8" cy="881.3" r="2.9" fill="#3d4a98" stroke="#1f2766" stroke-width="0.7" />
<circle cx="1004.9" cy="881.3" r="2.9" fill="#3d4a98" stroke="#1f2766" stroke-width="0.7" />
<circle cx="1006" cy="881.3" r="2.9" fill="#3d4a98" stroke="#1f2766" stroke-width="0.7" />
<circle cx="1007.2" cy="881.3" r="2.9" fill="#3d4a98" stroke="#1f2766" stroke-width="0.7" />
<circle cx="1008.3" cy="881.3" r="2.9" fill="#3d4a98" stroke="#1f2766" stroke-width="0.7" />
<circle cx="1009.4" cy="881.3" r="2.9" fill="#3d4a98" stroke="#1f2766" stroke-width="0.7" />
<circle cx="1010.6" cy="881.3" r="2.9" fill="#3d4a98" stroke="#1f2766" stroke-width="0.7" />
<circle cx="1011.7" cy="1029.1" r="2.9" fill="#3d4a98" stroke="#1f2766" stroke-width="0.7" />
<circle cx="1012.8" cy="881.3" r="2.9" fill="#3d4a98" stroke="#1f2766" stroke-width="0.7" />
<circle cx="1014" cy="881.3" r="2.9" fill="#3d4a98" stroke="#1f2766" stroke-width="0.7" />
<circle cx="1015.1" cy="881.3" r="2.9" fill="#3d4a98" stroke="#1f2766" stroke-width="0.7" />
<circle cx="1016.2" cy="881.3" r="2.9" fill="#3d4a98" stroke="#1f2766" stroke-width="0.7" />
<circle cx="1017.8" cy="891.5" r="2.9" fill="#3d4a98" stroke="#1f2766" stroke-width="0.7" />
<circle cx="1019" cy="1025" r="2.9" fill="#3d4a98" stroke="#1f2766" stroke-width="0.7" />
<circle cx="1019.6" cy="881.3" r="2.9" fill="#3d4a98" stroke="#1f2766" stroke-width="0.7" />
<circle cx="1020.7" cy="1029.1" r="2.9" fill="#3d4a98" stroke="#1f2766" stroke-width="0.7" />
<circle cx="1021.9" cy="881.3" r="2.9" fill="#3d4a98" stroke="#1f2766" stroke-width="0.7" />
<circle cx="1023" cy="881.3" r="2.9" fill="#3d4a98" stroke="#1f2766" stroke-width="0.7" />
<circle cx="1024.1" cy="881.3" r="2.9" fill="#3d4a98" stroke="#1f2766" stroke-width="0.7" />
<circle cx="1025.7" cy="889.6" r="2.9" fill="#3d4a98" stroke="#1f2766" stroke-width="0.7" />
<circle cx="1026.4" cy="881.3" r="2.9" fill="#3d4a98" stroke="#1f2766" stroke-width="0.7" />
<circle cx="1027.5" cy="881.3" r="2.9" fill="#3d4a98" stroke="#1f2766" stroke-width="0.7" />
<circle cx="1028.6" cy="881.3" r="2.9" fill="#3d4a98" stroke="#1f2766" stroke-width="0.7" />
<line x1="777.7" y1="863.5" x2="777.7" y2="1040.5" stroke="#555" stroke-width="1.5" />
<line x1="777.7" y1="1039.8" x2="1029.7" y2="1039.8" stroke="#555" stroke-width="1.5" />
<line x1="777.7" y1="1039.8" x2="777.7" y2="1035.5" stroke="#555" stroke-width="1.4" />
<text x="778.2" y="1059" font-size="13.57" font-weight="bold" fill="#222" text-anchor="middle">0</text>
<line x1="827.9" y1="1039.8" x2="827.9" y2="1035.5" stroke="#555" stroke-width="1.4" />
<text x="828.4" y="1059" font-size="13.57" font-weight="bold" fill="#222" text-anchor="middle">20</text>
<line x1="878.2" y1="1039.8" x2="878.2" y2="1035.5" stroke="#555" stroke-width="1.4" />
<text x="878.7" y="1059" font-size="13.57" font-weight="bold" fill="#222" text-anchor="middle">40</text>
<line x1="928.4" y1="1039.8" x2="928.4" y2="1035.5" stroke="#555" stroke-width="1.4" />
<text x="928.9" y="1059" font-size="13.57" font-weight="bold" fill="#222" text-anchor="middle">60</text>
<line x1="978.7" y1="1039.8" x2="978.7" y2="1035.5" stroke="#555" stroke-width="1.4" />
<text x="979.2" y="1059" font-size="13.57" font-weight="bold" fill="#222" text-anchor="middle">80</text>
<line x1="1028.9" y1="1039.8" x2="1028.9" y2="1035.5" stroke="#555" stroke-width="1.4" />
<text x="1029.4" y="1059" font-size="13.57" font-weight="bold" fill="#222" text-anchor="middle">100</text>
<line x1="777.7" y1="1029.1" x2="781.7" y2="1029.1" stroke="#555" stroke-width="1.4" />
<text x="771.3" y="1033.9" font-size="13.57" font-weight="bold" fill="#222" text-anchor="end">0</text>
<line x1="777.7" y1="881.3" x2="781.7" y2="881.3" stroke="#555" stroke-width="1.4" />
<text x="771.1" y="886.1" font-size="13.77" font-weight="bold" fill="#222" text-anchor="end">5</text>
<text x="840.1" y="852.7" font-size="15.65" fill="#111" font-weight="bold" textLength="11.10" lengthAdjust="spacingAndGlyphs" >V</text>
<text x="850.8" y="858.6" font-size="13.04" fill="#111" font-weight="bold" textLength="12.30" lengthAdjust="spacingAndGlyphs" >IN</text>
<text x="865.2" y="852.7" font-size="15.43" fill="#111" font-weight="bold" textLength="80.73" lengthAdjust="spacingAndGlyphs" >= 2.000&#160; V</text>
<text x="866.8" y="1082.7" font-size="14.76" fill="#111" font-weight="bold" textLength="77.39" lengthAdjust="spacingAndGlyphs" >Time (ms)</text>
<text transform="translate(755.5,1004) rotate(-90)" x="-0.1" y="0" font-size="16.52" fill="#111" font-weight="bold" textLength="10.59" lengthAdjust="spacingAndGlyphs">V</text>
<text transform="translate(761.7,994) rotate(-90)" x="-0.5" y="0" font-size="12.00" fill="#111" font-weight="bold" textLength="24.90" lengthAdjust="spacingAndGlyphs">OUT</text>
<text transform="translate(755.5,964.7) rotate(-90)" x="-0.8" y="0" font-size="16.28" fill="#111" font-weight="bold" textLength="21.37" lengthAdjust="spacingAndGlyphs">(V)</text>
<text x="1242.5" y="32.3" font-size="41.38" fill="#111" textLength="49.77" lengthAdjust="spacingAndGlyphs" >(c)</text>
<polyline points="1519.5,1057.6 1728.4,1057.6 1728.4,382" stroke="#000" stroke-width="5" fill="none" stroke-linejoin="miter"/>
<polyline points="1719.6,398 1728.4,381.5 1737.2,398" stroke="#000" stroke-width="4.3" fill="none" stroke-linejoin="miter" stroke-linecap="round"/>
<path d="M1436.4,203 L1551,145.9 A128,128 0 0,1 1436.4,331 Z" stroke="none" stroke-width="1" fill="#f27566" />
<path d="M1436.4,203 L1509.8,98.1 A128,128 0 0,1 1551,145.9 Z" stroke="none" stroke-width="1" fill="#19b3ef" />
<path d="M1436.4,203 L1436.4,75 A128,128 0 0,1 1509.8,98.1 Z" stroke="none" stroke-width="1" fill="#b6b6ba" />
<line x1="1437" y1="203" x2="1563" y2="203" stroke="#8c3a32" stroke-width="1.1" stroke-dasharray="3,2"/>
<circle cx="1513" cy="134.5" r="19.3" fill="url(#ballg)" stroke="#c9503e" stroke-width="0.8" />
<line x1="1499" y1="147.5" x2="1441" y2="199.5" stroke="#000" stroke-width="1.4" />
<polygon points="1437.5,202.5 1442.7,191.8 1448.7,198.5" fill="#000" stroke="none" stroke-width="1" />
<text x="1446.8" y="124.6" font-size="23.33" fill="#4a4a4e" textLength="31.30" lengthAdjust="spacingAndGlyphs" >Up</text>
<text x="1452.7" y="270.7" font-size="25.36" fill="#9c1a12" textLength="63.55" lengthAdjust="spacingAndGlyphs" >Down</text>
<text x="1536.3" y="93.9" font-size="23.59" fill="#2fa6e0" textLength="65.23" lengthAdjust="spacingAndGlyphs" >Catch</text>
<path d="M1369,196.4 C1355,198 1343,201 1342,209 C1341,217 1346,222 1352,227 L1466,316 C1475,323 1480,330 1480.5,342 L1480.8,426" stroke="#8a8a8a" stroke-width="1.5" fill="none" />
<path d="M1372.2,196 C1380,181 1395,163 1414.4,157 C1424,154.5 1430,162 1435,171.5 C1429,166 1423,162 1414,162.5 C1399,167 1387,181 1375,198 Z" stroke="#000" stroke-width="1.4" fill="#000" />
<path d="M1372.2,196 L1386.5,213.5 L1374.5,197.5 Z" stroke="#000" stroke-width="1.6" fill="#000" />
<path d="M1409,162 C1402,175 1402,205 1412.8,228" stroke="#000" stroke-width="2.6" fill="none" />
<path d="M1427.5,170 C1431,182 1431,208 1424,228" stroke="#000" stroke-width="1.4" fill="none" />
<ellipse cx="1422.7" cy="191.8" rx="4.2" ry="21.5" fill="#000"/>
<path d="M1403.5,226.5 C1410,232 1424,233 1430,226.5" stroke="#000" stroke-width="2.6" fill="none" />
<rect x="1619.2" y="284" width="53.8" height="26.4" fill="#fff" stroke="#000" stroke-width="5"/>
<polygon points="1634,282.5 1673.9,282 1700.8,246.8 1712,232 1690,215 1680.9,223" fill="#000" stroke="none" stroke-width="1" />
<polygon points="1625.4,129.9 1637.8,137.5 1635.4,144.4 1692.8,181.5 1702,188 1690,218 1679.7,212.5 1622.6,174.6 1620.6,180.1 1606.1,171.2 1610.9,164.3 1623.3,136.1" fill="#000" stroke="none" stroke-width="1" />
<ellipse cx="1705.4" cy="213" rx="26" ry="32" fill="#fff"/>
<ellipse cx="1705.4" cy="213" rx="22.5" ry="28.6" fill="#000"/>
<ellipse cx="1705.4" cy="213" rx="17.3" ry="22.1" fill="#fff"/>
<ellipse cx="1705.3" cy="212.8" rx="9" ry="11.6" fill="#000"/>
<polyline points="1623.3,137 1619.2,112.5 1582.5,116.1" stroke="#000" stroke-width="5.5" fill="none" stroke-linejoin="miter" stroke-linecap="round"/>
<polyline points="1610.9,165 1591.5,171 1574,131.5" stroke="#000" stroke-width="5.5" fill="none" stroke-linejoin="miter" stroke-linecap="round"/>
<path d="M1262.6,424 L1262.6,486 A32.8,14 0 0,0 1328.2,486 L1328.2,424" stroke="#555" stroke-width="1.6" fill="#fff" />
<path d="M1262.6,451.5 A32.8,10.9 0 0,0 1328.2,451.5 L1328.2,460 A32.8,10.9 0 0,1 1262.6,460 Z" stroke="#2f5f74" stroke-width="1.1" fill="#6fd0f7" />
<ellipse cx="1295.4" cy="424" rx="32.8" ry="14" fill="#fff" stroke="#555" stroke-width="1.6"/>
<polygon points="1283.4,447.3 1300.4,447.3 1300.4,444.5 1307.9,449.5 1300.4,454.5 1300.4,451.7 1283.4,451.7" fill="#000" stroke="none" stroke-width="1" />
<polygon points="1281.4,484.5 1288.9,479.5 1288.9,482.3 1301.9,482.3 1301.9,479.5 1309.4,484.5 1301.9,489.5 1301.9,486.7 1288.9,486.7 1288.9,489.5" fill="#000" stroke="none" stroke-width="1" />
<path d="M1448.2,424 L1448.2,486 A32.8,14 0 0,0 1513.8,486 L1513.8,424" stroke="#555" stroke-width="1.6" fill="#fff" />
<path d="M1448.2,451.5 A32.8,10.9 0 0,0 1513.8,451.5 L1513.8,460 A32.8,10.9 0 0,1 1448.2,460 Z" stroke="#2f5f74" stroke-width="1.1" fill="#6fd0f7" />
<ellipse cx="1481" cy="424" rx="32.8" ry="14" fill="#fff" stroke="#555" stroke-width="1.6"/>
<polygon points="1469,447.3 1486,447.3 1486,444.5 1493.5,449.5 1486,454.5 1486,451.7 1469,451.7" fill="#000" stroke="none" stroke-width="1" />
<polygon points="1467,484.5 1474.5,479.5 1474.5,482.3 1487.5,482.3 1487.5,479.5 1495,484.5 1487.5,489.5 1487.5,486.7 1474.5,486.7 1474.5,489.5" fill="#000" stroke="none" stroke-width="1" />
<path d="M1635.2,424 L1635.2,486 A32.8,14 0 0,0 1700.8,486 L1700.8,424" stroke="#555" stroke-width="1.6" fill="#fff" />
<path d="M1635.2,451.5 A32.8,10.9 0 0,0 1700.8,451.5 L1700.8,460 A32.8,10.9 0 0,1 1635.2,460 Z" stroke="#2f5f74" stroke-width="1.1" fill="#6fd0f7" />
<ellipse cx="1668" cy="424" rx="32.8" ry="14" fill="#fff" stroke="#555" stroke-width="1.6"/>
<polygon points="1656,447.3 1673,447.3 1673,444.5 1680.5,449.5 1673,454.5 1673,451.7 1656,451.7" fill="#000" stroke="none" stroke-width="1" />
<polygon points="1654,484.5 1661.5,479.5 1661.5,482.3 1674.5,482.3 1674.5,479.5 1682,484.5 1674.5,489.5 1674.5,486.7 1661.5,486.7 1661.5,489.5" fill="#000" stroke="none" stroke-width="1" />
<polyline points="1295.3,426 1295.3,390 1668,390 1668,426" stroke="#8a8a8a" stroke-width="1.5" fill="none" />
<polyline points="1288.8,416.5 1295.3,428 1301.8,416.5" stroke="#8a8a8a" stroke-width="1.5" fill="none" />
<polyline points="1474.5,416.5 1481,428 1487.5,416.5" stroke="#8a8a8a" stroke-width="1.5" fill="none" />
<polyline points="1661.5,416.5 1668,428 1674.5,416.5" stroke="#8a8a8a" stroke-width="1.5" fill="none" />
<line x1="1481" y1="342" x2="1481" y2="427" stroke="#8a8a8a" stroke-width="1.5" />
<text x="1380.3" y="371.5" font-size="24.64" fill="#222" font-style="italic" textLength="18.91" lengthAdjust="spacingAndGlyphs" >N</text>
<text x="1397.1" y="378.1" font-size="17.83" fill="#222" textLength="18.55" lengthAdjust="spacingAndGlyphs" >IN</text>
<text x="1421.4" y="371.5" font-size="24.00" fill="#222" textLength="158.23" lengthAdjust="spacingAndGlyphs" >input junctions</text>
<rect x="1247" y="517.5" width="466.3" height="62.5" rx="9" fill="#fef178"/>
<rect x="1249" y="728.7" width="465" height="61" rx="9" fill="#fef178"/>
<text x="1417.1" y="552.3" font-size="24.93" fill="#1a1a1a" textLength="117.31" lengthAdjust="spacingAndGlyphs" >Input rates</text>
<text x="1407.5" y="765.5" font-size="26.57" fill="#1a1a1a" textLength="136.53" lengthAdjust="spacingAndGlyphs" >Output rates</text>
<line x1="1332.4" y1="547.4" x2="1390.7" y2="547.4" stroke="#333" stroke-width="1.6" stroke-dasharray="6.5,3.3"/>
<line x1="1557.2" y1="547.4" x2="1615" y2="547.4" stroke="#333" stroke-width="1.6" stroke-dasharray="6.5,3.3"/>
<line x1="1332.4" y1="758.6" x2="1390.7" y2="758.6" stroke="#333" stroke-width="1.6" stroke-dasharray="6.5,3.3"/>
<line x1="1557.2" y1="758.6" x2="1615" y2="758.6" stroke="#333" stroke-width="1.6" stroke-dasharray="6.5,3.3"/>
<text x="1266.6" y="559.4" font-size="24.81" fill="#1a1a1a" font-style="italic" textLength="8.66" lengthAdjust="spacingAndGlyphs" >r</text>
<text x="1274.8" y="566.1" font-size="15.65" fill="#1a1a1a" textLength="6.01" lengthAdjust="spacingAndGlyphs" >1</text>
<text x="1277" y="548.5" font-size="17.83" fill="#1a1a1a" textLength="19.28" lengthAdjust="spacingAndGlyphs" >IN</text>
<text x="1646.1" y="557.5" font-size="24.26" fill="#1a1a1a" font-style="italic" textLength="8.47" lengthAdjust="spacingAndGlyphs" >r</text>
<text x="1656.5" y="547.2" font-size="18.99" fill="#1a1a1a" textLength="19.04" lengthAdjust="spacingAndGlyphs" >IN</text>
<text x="1653.4" y="564.7" font-size="18.41" fill="#1a1a1a" font-style="italic" textLength="13.61" lengthAdjust="spacingAndGlyphs" >N</text>
<text x="1665.7" y="567.5" font-size="8.99" fill="#1a1a1a" textLength="12.41" lengthAdjust="spacingAndGlyphs" >IN</text>
<text x="1264.7" y="767.4" font-size="25.37" fill="#1a1a1a" font-style="italic" textLength="8.66" lengthAdjust="spacingAndGlyphs" >r</text>
<text x="1272.4" y="774" font-size="17.10" fill="#1a1a1a" textLength="6.39" lengthAdjust="spacingAndGlyphs" >1</text>
<text x="1275.7" y="756.7" font-size="19.29" fill="#1a1a1a" textLength="37.47" lengthAdjust="spacingAndGlyphs" >OUT</text>
<text x="1638.7" y="765.2" font-size="25.37" fill="#1a1a1a" font-style="italic" textLength="8.66" lengthAdjust="spacingAndGlyphs" >r</text>
<text x="1650.7" y="755.3" font-size="19.57" fill="#1a1a1a" textLength="37.16" lengthAdjust="spacingAndGlyphs" >OUT</text>
<text x="1645.9" y="771.8" font-size="17.54" fill="#1a1a1a" font-style="italic" textLength="13.72" lengthAdjust="spacingAndGlyphs" >N</text>
<text x="1660.7" y="776.2" font-size="15.71" fill="#1a1a1a" textLength="31.48" lengthAdjust="spacingAndGlyphs" >OUT</text>
<line x1="1322" y1="580.4" x2="1389.6" y2="622.8" stroke="#8a8a8a" stroke-width="1.5" />
<polyline points="1377.9,622.6 1389.6,622.8 1384.3,612.4" stroke="#8a8a8a" stroke-width="1.5" fill="none" />
<line x1="1481" y1="580.4" x2="1481" y2="611.2" stroke="#8a8a8a" stroke-width="1.5" />
<polyline points="1475,601.2 1481,611.2 1487,601.2" stroke="#8a8a8a" stroke-width="1.5" fill="none" />
<line x1="1630.4" y1="580.4" x2="1572.6" y2="622.8" stroke="#8a8a8a" stroke-width="1.5" />
<polyline points="1577.1,612 1572.6,622.8 1584.2,621.7" stroke="#8a8a8a" stroke-width="1.5" fill="none" />
<line x1="1433.9" y1="684.4" x2="1406.9" y2="723" stroke="#8a8a8a" stroke-width="1.5" />
<polyline points="1407.7,711.4 1406.9,723 1417.5,718.2" stroke="#8a8a8a" stroke-width="1.5" fill="none" />
<line x1="1481" y1="686" x2="1481" y2="721" stroke="#8a8a8a" stroke-width="1.5" />
<polyline points="1475,711 1481,721 1487,711" stroke="#8a8a8a" stroke-width="1.5" fill="none" />
<line x1="1537.9" y1="684.4" x2="1561" y2="723" stroke="#8a8a8a" stroke-width="1.5" />
<polyline points="1550.7,717.5 1561,723 1561,711.3" stroke="#8a8a8a" stroke-width="1.5" fill="none" />
<ellipse cx="1480.3" cy="649.7" rx="128" ry="36.6" fill="#838383"/>
<text x="1437.9" y="655.3" font-size="24.69" fill="#fff" textLength="89.28" lengthAdjust="spacingAndGlyphs" >Weights</text>
<path d="M1257.6,822.8 L1257.6,886.3 A33,12.8 0 0,0 1323.6,886.3 L1323.6,822.8" stroke="#555" stroke-width="1.6" fill="#fff" />
<path d="M1257.6,849.3 A33,10 0 0,0 1323.6,849.3 L1323.6,858.8 A33,10 0 0,1 1257.6,858.8 Z" stroke="#2f5f74" stroke-width="1.1" fill="#6fd0f7" />
<ellipse cx="1290.6" cy="822.8" rx="33" ry="12.8" fill="#fff" stroke="#555" stroke-width="1.6"/>
<polygon points="1279.2,845.5 1295.3,845.5 1295.3,842.8 1302.5,847.6 1295.3,852.3 1295.3,849.7 1279.2,849.7" fill="#000" stroke="none" stroke-width="1" />
<polygon points="1277.3,883.8 1284.4,879 1284.4,881.7 1296.8,881.7 1296.8,879 1303.9,883.8 1296.8,888.5 1296.8,885.9 1284.4,885.9 1284.4,888.5" fill="#000" stroke="none" stroke-width="1" />
<path d="M1350,822.8 L1350,886.3 A33,12.8 0 0,0 1416,886.3 L1416,822.8" stroke="#555" stroke-width="1.6" fill="#fff" />
<path d="M1350,849.3 A33,10 0 0,0 1416,849.3 L1416,858.8 A33,10 0 0,1 1350,858.8 Z" stroke="#2f5f74" stroke-width="1.1" fill="#6fd0f7" />
<ellipse cx="1383" cy="822.8" rx="33" ry="12.8" fill="#fff" stroke="#555" stroke-width="1.6"/>
<polygon points="1371.6,845.5 1387.8,845.5 1387.8,842.8 1394.9,847.6 1387.8,852.3 1387.8,849.7 1371.6,849.7" fill="#000" stroke="none" stroke-width="1" />
<polygon points="1369.7,883.8 1376.8,879 1376.8,881.7 1389.2,881.7 1389.2,879 1396.3,883.8 1389.2,888.5 1389.2,885.9 1376.8,885.9 1376.8,888.5" fill="#000" stroke="none" stroke-width="1" />
<path d="M1443,822.8 L1443,886.3 A33,12.8 0 0,0 1509,886.3 L1509,822.8" stroke="#555" stroke-width="1.6" fill="#fff" />
<path d="M1443,849.3 A33,10 0 0,0 1509,849.3 L1509,858.8 A33,10 0 0,1 1443,858.8 Z" stroke="#2f5f74" stroke-width="1.1" fill="#6fd0f7" />
<ellipse cx="1476" cy="822.8" rx="33" ry="12.8" fill="#fff" stroke="#555" stroke-width="1.6"/>
<polygon points="1464.6,845.5 1480.8,845.5 1480.8,842.8 1487.9,847.6 1480.8,852.3 1480.8,849.7 1464.6,849.7" fill="#000" stroke="none" stroke-width="1" />
<polygon points="1462.7,883.8 1469.8,879 1469.8,881.7 1482.2,881.7 1482.2,879 1489.3,883.8 1482.2,888.5 1482.2,885.9 1469.8,885.9 1469.8,888.5" fill="#000" stroke="none" stroke-width="1" />
<path d="M1536,822.8 L1536,886.3 A33,12.8 0 0,0 1602,886.3 L1602,822.8" stroke="#555" stroke-width="1.6" fill="#fff" />
<path d="M1536,849.3 A33,10 0 0,0 1602,849.3 L1602,858.8 A33,10 0 0,1 1536,858.8 Z" stroke="#2f5f74" stroke-width="1.1" fill="#6fd0f7" />
<ellipse cx="1569" cy="822.8" rx="33" ry="12.8" fill="#fff" stroke="#555" stroke-width="1.6"/>
<polygon points="1557.6,845.5 1573.8,845.5 1573.8,842.8 1580.9,847.6 1573.8,852.3 1573.8,849.7 1557.6,849.7" fill="#000" stroke="none" stroke-width="1" />
<polygon points="1555.7,883.8 1562.8,879 1562.8,881.7 1575.2,881.7 1575.2,879 1582.3,883.8 1575.2,888.5 1575.2,885.9 1562.8,885.9 1562.8,888.5" fill="#000" stroke="none" stroke-width="1" />
<path d="M1628.7,822.8 L1628.7,886.3 A33,12.8 0 0,0 1694.7,886.3 L1694.7,822.8" stroke="#555" stroke-width="1.6" fill="#fff" />
<path d="M1628.7,849.3 A33,10 0 0,0 1694.7,849.3 L1694.7,858.8 A33,10 0 0,1 1628.7,858.8 Z" stroke="#2f5f74" stroke-width="1.1" fill="#6fd0f7" />
<ellipse cx="1661.7" cy="822.8" rx="33" ry="12.8" fill="#fff" stroke="#555" stroke-width="1.6"/>
<polygon points="1650.3,845.5 1666.5,845.5 1666.5,842.8 1673.6,847.6 1666.5,852.3 1666.5,849.7 1650.3,849.7" fill="#000" stroke="none" stroke-width="1" />
<polygon points="1648.4,883.8 1655.5,879 1655.5,881.7 1667.9,881.7 1667.9,879 1675,883.8 1667.9,888.5 1667.9,885.9 1655.5,885.9 1655.5,888.5" fill="#000" stroke="none" stroke-width="1" />
<line x1="1286.7" y1="899" x2="1286.7" y2="917" stroke="#8a8a8a" stroke-width="1.5" />
<polyline points="1281.2,907 1286.7,917 1292.2,907" stroke="#8a8a8a" stroke-width="1.5" fill="none" />
<line x1="1382.3" y1="899" x2="1382.3" y2="917" stroke="#8a8a8a" stroke-width="1.5" />
<polyline points="1376.8,907 1382.3,917 1387.8,907" stroke="#8a8a8a" stroke-width="1.5" fill="none" />
<line x1="1476" y1="899" x2="1476" y2="917" stroke="#8a8a8a" stroke-width="1.5" />
<polyline points="1470.5,907 1476,917 1481.5,907" stroke="#8a8a8a" stroke-width="1.5" fill="none" />
<line x1="1568" y1="899" x2="1568" y2="917" stroke="#8a8a8a" stroke-width="1.5" />
<polyline points="1562.5,907 1568,917 1573.5,907" stroke="#8a8a8a" stroke-width="1.5" fill="none" />
<line x1="1660.8" y1="899" x2="1660.8" y2="917" stroke="#8a8a8a" stroke-width="1.5" />
<polyline points="1655.3,907 1660.8,917 1666.3,907" stroke="#8a8a8a" stroke-width="1.5" fill="none" />
<line x1="1286.7" y1="918.5" x2="1666.2" y2="916.8" stroke="#8a8a8a" stroke-width="1.5" />
<line x1="1476" y1="917" x2="1476" y2="982" stroke="#8a8a8a" stroke-width="1.5" />
<polyline points="1470.5,971.8 1476,982.8 1481.5,971.8" stroke="#8a8a8a" stroke-width="1.5" fill="none" />
<text x="1363.1" y="953.7" font-size="24.93" fill="#222" font-style="italic" textLength="19.02" lengthAdjust="spacingAndGlyphs" >N</text>
<text x="1380" y="960.5" font-size="18.00" fill="#222" textLength="36.95" lengthAdjust="spacingAndGlyphs" >OUT</text>
<text x="1424" y="953.7" font-size="23.72" fill="#222" textLength="173.36" lengthAdjust="spacingAndGlyphs" >output junctions</text>
<circle cx="1465.8" cy="1033.7" r="23" fill="#000"/>
<rect x="1460.5" y="1004.4" width="10.5" height="9.3" rx="1" fill="#000" transform="rotate(0 1465.8 1033.7)"/>
<rect x="1460.5" y="1004.4" width="10.5" height="9.3" rx="1" fill="#000" transform="rotate(45 1465.8 1033.7)"/>
<rect x="1460.5" y="1004.4" width="10.5" height="9.3" rx="1" fill="#000" transform="rotate(90 1465.8 1033.7)"/>
<rect x="1460.5" y="1004.4" width="10.5" height="9.3" rx="1" fill="#000" transform="rotate(135 1465.8 1033.7)"/>
<rect x="1460.5" y="1004.4" width="10.5" height="9.3" rx="1" fill="#000" transform="rotate(180 1465.8 1033.7)"/>
<rect x="1460.5" y="1004.4" width="10.5" height="9.3" rx="1" fill="#000" transform="rotate(225 1465.8 1033.7)"/>
<rect x="1460.5" y="1004.4" width="10.5" height="9.3" rx="1" fill="#000" transform="rotate(270 1465.8 1033.7)"/>
<rect x="1460.5" y="1004.4" width="10.5" height="9.3" rx="1" fill="#000" transform="rotate(315 1465.8 1033.7)"/>
<circle cx="1465.8" cy="1033.7" r="15.1" fill="#fff"/>
<circle cx="1510.3" cy="1007.6" r="17" fill="#000"/>
<rect x="1506.1" y="985.1" width="8.3" height="8.5" rx="1" fill="#000" transform="rotate(0 1510.3 1007.6)"/>
<rect x="1506.1" y="985.1" width="8.3" height="8.5" rx="1" fill="#000" transform="rotate(45 1510.3 1007.6)"/>
<rect x="1506.1" y="985.1" width="8.3" height="8.5" rx="1" fill="#000" transform="rotate(90 1510.3 1007.6)"/>
<rect x="1506.1" y="985.1" width="8.3" height="8.5" rx="1" fill="#000" transform="rotate(135 1510.3 1007.6)"/>
<rect x="1506.1" y="985.1" width="8.3" height="8.5" rx="1" fill="#000" transform="rotate(180 1510.3 1007.6)"/>
<rect x="1506.1" y="985.1" width="8.3" height="8.5" rx="1" fill="#000" transform="rotate(225 1510.3 1007.6)"/>
<rect x="1506.1" y="985.1" width="8.3" height="8.5" rx="1" fill="#000" transform="rotate(270 1510.3 1007.6)"/>
<rect x="1506.1" y="985.1" width="8.3" height="8.5" rx="1" fill="#000" transform="rotate(315 1510.3 1007.6)"/>
<circle cx="1510.3" cy="1007.6" r="11.5" fill="#fff"/></svg>
</body></html>
